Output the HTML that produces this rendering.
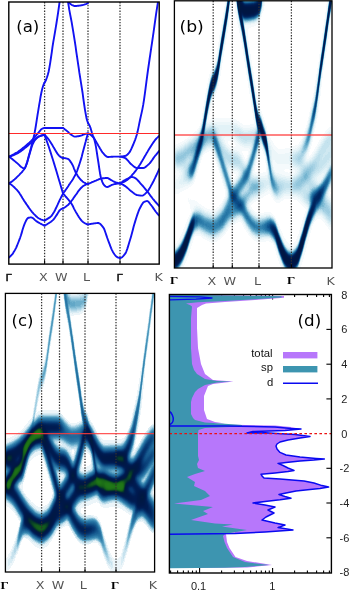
<!DOCTYPE html>
<html lang="en"><head><meta charset="utf-8"><title>Band structure and spectral functions</title>
<style>html,body{margin:0;padding:0;background:#fff}svg{display:block}.dv{font-family:"DejaVu Sans","Liberation Sans",sans-serif}.ls{font-family:"Liberation Sans",sans-serif}.sb{font-family:"Liberation Serif","DejaVu Serif",serif;font-weight:bold}</style></head><body>
<svg width="350" height="592" viewBox="0 0 350 592">
<defs>
<clipPath id="clipb"><rect x="174.4" y="0.8" width="157.6" height="267.2"/></clipPath>
<filter id="bsb" filterUnits="userSpaceOnUse" x="149" y="-24" width="208" height="317" color-interpolation-filters="sRGB">
<feGaussianBlur in="SourceGraphic" stdDeviation="0.55 4.2" result="b1"/>
<feGaussianBlur in="SourceGraphic" stdDeviation="2.2 9" result="b2"/>
<feComposite in="b1" in2="b2" operator="arithmetic" k1="0" k2="1.0" k3="0.05" k4="0"/>
</filter>
<filter id="bwb" filterUnits="userSpaceOnUse" x="149" y="-24" width="208" height="317" color-interpolation-filters="sRGB">
<feGaussianBlur in="SourceGraphic" stdDeviation="1.8 5.2" result="b1"/>
<feGaussianBlur in="SourceGraphic" stdDeviation="2.2 9" result="b2"/>
<feComposite in="b1" in2="b2" operator="arithmetic" k1="0" k2="1.0" k3="0.05" k4="0"/>
</filter>
<filter id="fb" filterUnits="userSpaceOnUse" x="149" y="-24" width="208" height="317" color-interpolation-filters="sRGB">
<feColorMatrix in="SourceGraphic" type="matrix" values="0 0 0 1 0 0 0 0 1 0 0 0 0 1 0 0 0 0 0 1" result="g"/>
<feComponentTransfer in="g"><feFuncR type="table" tableValues="1 0.905 0.81 0.714 0.608 0.502 0.414 0.326 0.256 0.202 0.149 0.123 0.097 0.071 0.055 0.039 0.024 0.019 0.014 0.009 0.004 0.003 0.002 0.002 0.001 0 0 0 0 0 0 0 0 0 0 0 0 0 0 0 0 0 0 0 0 0 0 0 0 0 0 0.001 0.002 0.002 0.003 0.004 0.005 0.005 0.006 0.007 0.008 0.01 0.013 0.015 0.017 0.02 0.022 0.024 0.027 0.029 0.031 0.036 0.04 0.045 0.049 0.054 0.058 0.062 0.067 0.071 0.076 0.08 0.085 0.089 0.094 0.098 0.102 0.107 0.111 0.116 0.12 0.125 0.129 0.134 0.138 0.142 0.147 0.151 0.156 0.16 0.165"/><feFuncG type="table" tableValues="1 0.958 0.909 0.859 0.798 0.737 0.678 0.618 0.563 0.513 0.463 0.426 0.39 0.353 0.316 0.28 0.243 0.222 0.2 0.178 0.157 0.147 0.138 0.129 0.119 0.11 0.107 0.105 0.103 0.1 0.098 0.096 0.093 0.091 0.089 0.086 0.087 0.087 0.088 0.088 0.089 0.089 0.09 0.09 0.091 0.092 0.092 0.093 0.093 0.094 0.094 0.1 0.107 0.113 0.119 0.125 0.132 0.138 0.144 0.151 0.157 0.167 0.177 0.187 0.198 0.208 0.218 0.228 0.238 0.249 0.259 0.268 0.277 0.286 0.295 0.305 0.314 0.323 0.332 0.341 0.35 0.359 0.369 0.378 0.387 0.396 0.405 0.414 0.424 0.433 0.442 0.451 0.46 0.469 0.478 0.488 0.497 0.506 0.515 0.524 0.533"/><feFuncB type="table" tableValues="1 0.974 0.946 0.918 0.876 0.835 0.796 0.757 0.72 0.685 0.651 0.625 0.599 0.573 0.539 0.505 0.471 0.449 0.427 0.406 0.384 0.372 0.359 0.347 0.334 0.322 0.317 0.312 0.307 0.303 0.298 0.293 0.289 0.284 0.279 0.275 0.273 0.271 0.27 0.268 0.267 0.265 0.264 0.262 0.26 0.259 0.257 0.256 0.254 0.253 0.251 0.246 0.242 0.237 0.232 0.227 0.223 0.218 0.213 0.209 0.204 0.198 0.193 0.187 0.182 0.176 0.171 0.165 0.16 0.155 0.149 0.147 0.144 0.142 0.14 0.137 0.135 0.133 0.13 0.128 0.125 0.123 0.121 0.118 0.116 0.114 0.111 0.109 0.107 0.104 0.102 0.1 0.097 0.095 0.093 0.09 0.088 0.085 0.083 0.081 0.078"/></feComponentTransfer>
</filter>
<clipPath id="clipc"><rect x="5.4" y="293.4" width="149.2" height="278.6"/></clipPath>
<filter id="bsc" filterUnits="userSpaceOnUse" x="-20" y="268" width="199" height="329" color-interpolation-filters="sRGB">
<feGaussianBlur in="SourceGraphic" stdDeviation="0.55 4.2" result="b1"/>
<feGaussianBlur in="SourceGraphic" stdDeviation="1.8 9" result="b2"/>
<feComposite in="b1" in2="b2" operator="arithmetic" k1="0" k2="1.0" k3="0.08" k4="0"/>
</filter>
<filter id="bwc" filterUnits="userSpaceOnUse" x="-20" y="268" width="199" height="329" color-interpolation-filters="sRGB">
<feGaussianBlur in="SourceGraphic" stdDeviation="1.5 5.0" result="b1"/>
<feGaussianBlur in="SourceGraphic" stdDeviation="1.8 9" result="b2"/>
<feComposite in="b1" in2="b2" operator="arithmetic" k1="0" k2="1.0" k3="0.08" k4="0"/>
</filter>
<filter id="fc" filterUnits="userSpaceOnUse" x="-20" y="268" width="199" height="329" color-interpolation-filters="sRGB">
<feColorMatrix in="SourceGraphic" type="matrix" values="0 0 0 1 0 0 0 0 1 0 0 0 0 1 0 0 0 0 0 1" result="g"/>
<feComponentTransfer in="g"><feFuncR type="table" tableValues="1 0.815 0.631 0.451 0.329 0.267 0.204 0.182 0.16 0.142 0.129 0.115 0.102 0.09 0.078 0.067 0.055 0.047 0.039 0.031 0.024 0.02 0.016 0.012 0.008 0.006 0.004 0.002 0 0 0 0 0 0 0 0 0 0 0 0 0 0 0 0 0 0.002 0.003 0.005 0.006 0.008 0.014 0.02 0.025 0.031 0.041 0.051 0.061 0.071 0.078 0.086 0.094 0.102 0.106 0.11 0.114 0.118 0.122 0.125 0.127 0.128 0.13 0.131 0.133 0.134 0.135 0.137 0.138 0.14 0.141 0.143 0.144 0.145 0.147 0.148 0.15 0.151 0.153 0.154 0.155 0.157 0.158 0.16 0.161 0.163 0.164 0.165 0.167 0.168 0.17 0.171 0.173"/><feFuncG type="table" tableValues="1 0.906 0.809 0.699 0.616 0.563 0.51 0.485 0.46 0.437 0.417 0.397 0.376 0.355 0.333 0.312 0.29 0.271 0.251 0.231 0.212 0.196 0.18 0.165 0.149 0.139 0.129 0.12 0.11 0.107 0.105 0.102 0.099 0.097 0.094 0.095 0.095 0.095 0.096 0.096 0.096 0.097 0.097 0.098 0.098 0.11 0.122 0.133 0.145 0.157 0.178 0.2 0.222 0.243 0.269 0.294 0.32 0.345 0.361 0.376 0.392 0.408 0.417 0.426 0.435 0.444 0.454 0.463 0.465 0.467 0.47 0.472 0.475 0.477 0.479 0.482 0.484 0.487 0.489 0.491 0.494 0.496 0.498 0.501 0.503 0.506 0.508 0.51 0.513 0.515 0.517 0.52 0.522 0.525 0.527 0.529 0.532 0.534 0.536 0.539 0.541"/><feFuncB type="table" tableValues="1 0.946 0.887 0.811 0.755 0.718 0.682 0.664 0.645 0.627 0.612 0.596 0.58 0.563 0.545 0.527 0.51 0.492 0.475 0.457 0.439 0.422 0.404 0.386 0.369 0.357 0.345 0.333 0.322 0.316 0.311 0.306 0.301 0.295 0.29 0.287 0.284 0.281 0.278 0.275 0.271 0.268 0.265 0.262 0.259 0.248 0.237 0.226 0.215 0.204 0.192 0.18 0.169 0.157 0.147 0.137 0.127 0.118 0.112 0.106 0.1 0.094 0.094 0.094 0.094 0.094 0.094 0.094 0.094 0.094 0.094 0.094 0.094 0.094 0.094 0.094 0.094 0.094 0.094 0.094 0.094 0.094 0.094 0.094 0.094 0.094 0.094 0.094 0.094 0.094 0.094 0.094 0.094 0.094 0.094 0.094 0.094 0.094 0.094 0.094 0.094"/></feComponentTransfer>
</filter>
<path id="pbs1_1" d="M174.4,257.6 175,257.2 175.7,256.6 176.3,256 177,255.4 177.6,254.7 178.3,254 178.9,253.1 179.6,252.2 180.2,251.2 180.9,250.2 181.5,249 182.2,247.8 182.8,246.4 183.5,245 184.1,243.5 184.7,241.9 185.4,240.3 186,238.7 186.7,237 187.3,235.2 188,233.3 188.6,231.3 189.3,229.3 189.9,227.3 190.6,225.5 191.2,223.8 191.9,222.4 192.5,221.1 193.2,219.8 193.8,218.7 194.4,217.8 195.1,217.4 195.7,217.2 196.4,217 197,216.9 197.7,216.8 198.3,216.7 199,216.8 199.6,217 200.3,217.4 200.9,217.8 201.6,218.4 202.2,218.9 202.9,219.5 203.5,220 204.1,220.5 204.8,221 205.4,221.3 206.1,221.7 206.7,222 207.4,222.4 208,222.7 208.7,223.1 209.3,223.4 210,223.7 210.6,224 211.3,224.3 211.9,224.6 212.6,224.9 213.2,225.1 L213.2,233.1 212.6,232.9 211.9,232.6 211.3,232.3 210.6,232 210,231.7 209.3,231.4 208.7,231.1 208,230.7 207.4,230.4 206.7,230 206.1,229.7 205.4,229.3 204.8,229 204.1,228.5 203.5,228 202.9,227.5 202.2,226.9 201.6,226.4 200.9,225.8 200.3,225.4 199.6,225 199,224.8 198.3,224.7 197.7,224.8 197,224.9 196.4,225 195.7,225.2 195.1,225.4 194.4,225.8 193.8,226.7 193.2,227.8 192.5,229.1 191.9,230.4 191.2,231.8 190.6,233.5 189.9,235.3 189.3,237.3 188.6,239.3 188,241.3 187.3,243.2 186.7,245 186,246.7 185.4,248.3 184.7,249.9 184.1,251.5 183.5,253 182.8,254.4 182.2,255.8 181.5,257 180.9,258.2 180.2,259.2 179.6,260.2 178.9,261.1 178.3,262 177.6,262.7 177,263.4 176.3,264 175.7,264.6 175,265.2 174.4,265.6Z"/>
<linearGradient id="gbss1_1" gradientUnits="userSpaceOnUse" x1="174.4" y1="0" x2="213.2" y2="0"><stop offset="0.000" stop-color="#000" stop-opacity="0.600"/><stop offset="0.084" stop-color="#000" stop-opacity="0.600"/><stop offset="0.169" stop-color="#000" stop-opacity="0.650"/><stop offset="0.309" stop-color="#000" stop-opacity="0.700"/><stop offset="0.449" stop-color="#000" stop-opacity="0.500"/><stop offset="0.534" stop-color="#000" stop-opacity="0.125"/><stop offset="0.618" stop-color="#000" stop-opacity="0.061"/><stop offset="0.787" stop-color="#000" stop-opacity="0.031"/><stop offset="1.000" stop-color="#000" stop-opacity="0.024"/></linearGradient>
<linearGradient id="gbws1_1" gradientUnits="userSpaceOnUse" x1="174.4" y1="0" x2="213.2" y2="0"><stop offset="0.000" stop-color="#000" stop-opacity="0.000"/><stop offset="0.084" stop-color="#000" stop-opacity="0.000"/><stop offset="0.169" stop-color="#000" stop-opacity="0.000"/><stop offset="0.309" stop-color="#000" stop-opacity="0.000"/><stop offset="0.449" stop-color="#000" stop-opacity="0.000"/><stop offset="0.534" stop-color="#000" stop-opacity="0.125"/><stop offset="0.618" stop-color="#000" stop-opacity="0.114"/><stop offset="0.787" stop-color="#000" stop-opacity="0.094"/><stop offset="1.000" stop-color="#000" stop-opacity="0.086"/></linearGradient>
<path id="pbs1_2" d="M174.4,182 175,182.3 175.7,182.7 176.3,183.1 177,183.5 177.6,183.9 178.3,184.4 178.9,184.9 179.6,185.4 180.2,186 180.9,186.6 181.5,187.2 182.2,187.8 182.8,188.4 183.5,189.1 184.1,189.8 184.7,190.6 185.4,191.5 186,192.4 186.7,193.3 187.3,194.3 188,195.3 188.6,196.3 189.3,197.3 189.9,198.2 190.6,199.2 191.2,200.1 191.9,201 192.5,201.9 193.2,202.8 193.8,203.7 194.4,204.6 195.1,205.5 195.7,206.4 196.4,207.3 197,208.1 197.7,209 198.3,209.8 199,210.5 199.6,211.3 200.3,212 200.9,212.6 201.6,213.2 202.2,213.9 202.9,214.5 203.5,215.1 204.1,215.7 204.8,216.2 205.4,216.7 206.1,217.2 206.7,217.6 207.4,218 208,218.3 208.7,218.6 209.3,218.9 210,219.1 210.6,219.3 211.3,219.5 211.9,219.7 212.6,219.8 213.2,219.9 L213.2,227.9 212.6,227.8 211.9,227.7 211.3,227.5 210.6,227.3 210,227.1 209.3,226.9 208.7,226.6 208,226.3 207.4,226 206.7,225.6 206.1,225.2 205.4,224.7 204.8,224.2 204.1,223.7 203.5,223.1 202.9,222.5 202.2,221.9 201.6,221.2 200.9,220.6 200.3,220 199.6,219.3 199,218.5 198.3,217.8 197.7,217 197,216.1 196.4,215.3 195.7,214.4 195.1,213.5 194.4,212.6 193.8,211.7 193.2,210.8 192.5,209.9 191.9,209 191.2,208.1 190.6,207.2 189.9,206.2 189.3,205.3 188.6,204.3 188,203.3 187.3,202.3 186.7,201.3 186,200.4 185.4,199.5 184.7,198.6 184.1,197.8 183.5,197.1 182.8,196.4 182.2,195.8 181.5,195.2 180.9,194.6 180.2,194 179.6,193.4 178.9,192.9 178.3,192.4 177.6,191.9 177,191.5 176.3,191.1 175.7,190.7 175,190.3 174.4,190Z"/>
<linearGradient id="gbss1_2" gradientUnits="userSpaceOnUse" x1="174.4" y1="0" x2="213.2" y2="0"><stop offset="0.000" stop-color="#000" stop-opacity="0.000"/><stop offset="0.225" stop-color="#000" stop-opacity="0.000"/><stop offset="0.449" stop-color="#000" stop-opacity="0.000"/><stop offset="0.674" stop-color="#000" stop-opacity="0.001"/><stop offset="0.871" stop-color="#000" stop-opacity="0.007"/><stop offset="1.000" stop-color="#000" stop-opacity="0.011"/></linearGradient>
<linearGradient id="gbws1_2" gradientUnits="userSpaceOnUse" x1="174.4" y1="0" x2="213.2" y2="0"><stop offset="0.000" stop-color="#000" stop-opacity="0.000"/><stop offset="0.225" stop-color="#000" stop-opacity="0.000"/><stop offset="0.449" stop-color="#000" stop-opacity="0.005"/><stop offset="0.674" stop-color="#000" stop-opacity="0.024"/><stop offset="0.871" stop-color="#000" stop-opacity="0.053"/><stop offset="1.000" stop-color="#000" stop-opacity="0.064"/></linearGradient>
<path id="pbs1_3" d="M174.4,182 175,181.6 175.7,181.2 176.3,180.8 177,180.4 177.6,180 178.3,179.5 178.9,179 179.6,178.6 180.2,178.1 180.9,177.6 181.5,177 182.2,176.5 182.8,175.9 183.5,175.3 184.1,174.7 184.7,174 185.4,173.4 186,172.7 186.7,172.1 187.3,171.5 188,170.9 188.6,170.2 189.3,169.6 189.9,168.9 190.6,168 191.2,167.1 191.9,166 192.5,164.8 193.2,163.4 193.8,161.8 194.4,159.9 195.1,157.7 195.7,155.5 196.4,153.4 197,151.2 197.7,149.1 198.3,147 199,145 199.6,143.4 200.3,141.9 200.9,140.6 201.6,139.4 202.2,138.3 202.9,137.5 203.5,136.8 204.1,136.2 204.8,135.6 205.4,135.1 206.1,134.6 206.7,134.2 207.4,133.9 208,133.6 208.7,133.4 209.3,133.2 210,133 210.6,132.9 211.3,132.7 211.9,132.6 212.6,132.6 213.2,132.5 L213.2,140.5 212.6,140.6 211.9,140.6 211.3,140.7 210.6,140.9 210,141 209.3,141.2 208.7,141.4 208,141.6 207.4,141.9 206.7,142.2 206.1,142.6 205.4,143.1 204.8,143.6 204.1,144.2 203.5,144.8 202.9,145.5 202.2,146.3 201.6,147.4 200.9,148.6 200.3,149.9 199.6,151.4 199,153 198.3,155 197.7,157.1 197,159.2 196.4,161.4 195.7,163.5 195.1,165.7 194.4,167.9 193.8,169.8 193.2,171.4 192.5,172.8 191.9,174 191.2,175.1 190.6,176 189.9,176.9 189.3,177.6 188.6,178.2 188,178.9 187.3,179.5 186.7,180.1 186,180.7 185.4,181.4 184.7,182 184.1,182.7 183.5,183.3 182.8,183.9 182.2,184.5 181.5,185 180.9,185.6 180.2,186.1 179.6,186.6 178.9,187 178.3,187.5 177.6,188 177,188.4 176.3,188.8 175.7,189.2 175,189.6 174.4,190Z"/>
<linearGradient id="gbss1_3" gradientUnits="userSpaceOnUse" x1="174.4" y1="0" x2="213.2" y2="0"><stop offset="0.000" stop-color="#000" stop-opacity="0.000"/><stop offset="0.169" stop-color="#000" stop-opacity="0.001"/><stop offset="0.309" stop-color="#000" stop-opacity="0.003"/><stop offset="0.421" stop-color="#000" stop-opacity="0.020"/><stop offset="0.492" stop-color="#000" stop-opacity="0.020"/><stop offset="0.562" stop-color="#000" stop-opacity="0.013"/><stop offset="0.646" stop-color="#000" stop-opacity="0.007"/><stop offset="0.730" stop-color="#000" stop-opacity="0.005"/><stop offset="0.871" stop-color="#000" stop-opacity="0.005"/><stop offset="1.000" stop-color="#000" stop-opacity="0.007"/></linearGradient>
<linearGradient id="gbws1_3" gradientUnits="userSpaceOnUse" x1="174.4" y1="0" x2="213.2" y2="0"><stop offset="0.000" stop-color="#000" stop-opacity="0.015"/><stop offset="0.169" stop-color="#000" stop-opacity="0.019"/><stop offset="0.309" stop-color="#000" stop-opacity="0.037"/><stop offset="0.421" stop-color="#000" stop-opacity="0.080"/><stop offset="0.492" stop-color="#000" stop-opacity="0.080"/><stop offset="0.562" stop-color="#000" stop-opacity="0.067"/><stop offset="0.646" stop-color="#000" stop-opacity="0.053"/><stop offset="0.730" stop-color="#000" stop-opacity="0.045"/><stop offset="0.871" stop-color="#000" stop-opacity="0.045"/><stop offset="1.000" stop-color="#000" stop-opacity="0.053"/></linearGradient>
<path id="pbs1_4" d="M174.4,154.6 175,155.1 175.7,155.5 176.3,156 177,156.4 177.6,156.9 178.3,157.4 178.9,157.9 179.6,158.4 180.2,158.9 180.9,159.4 181.5,159.9 182.2,160.4 182.8,160.9 183.5,161.4 184.1,162 184.7,162.6 185.4,163.2 186,163.8 186.7,164.4 187.3,165 188,165.4 188.6,165.8 189.3,166.1 189.9,166.4 190.6,166.7 191.2,166.8 191.9,166.3 192.5,164.9 193.2,163 193.8,161.3 194.4,159.2 195.1,156.9 195.7,154.6 196.4,152.3 197,150.2 197.7,148 198.3,145.8 199,143.5 199.6,141.2 200.3,138.8 200.9,136.4 201.6,133.8 202.2,130.9 202.9,127.7 203.5,124.1 204.1,120.2 204.8,116.3 205.4,112.3 206.1,108.6 206.7,104.8 207.4,101.1 208,97.6 208.7,94.3 209.3,91.1 210,88.1 210.6,85.5 211.3,83.4 211.9,81.6 212.6,80.1 213.2,78.9 L213.2,86.9 212.6,88.1 211.9,89.6 211.3,91.4 210.6,93.5 210,96.1 209.3,99.1 208.7,102.3 208,105.6 207.4,109.1 206.7,112.8 206.1,116.6 205.4,120.3 204.8,124.3 204.1,128.2 203.5,132.1 202.9,135.7 202.2,138.9 201.6,141.8 200.9,144.4 200.3,146.8 199.6,149.2 199,151.5 198.3,153.8 197.7,156 197,158.2 196.4,160.3 195.7,162.6 195.1,164.9 194.4,167.2 193.8,169.3 193.2,171 192.5,172.9 191.9,174.3 191.2,174.8 190.6,174.7 189.9,174.4 189.3,174.1 188.6,173.8 188,173.4 187.3,173 186.7,172.4 186,171.8 185.4,171.2 184.7,170.6 184.1,170 183.5,169.4 182.8,168.9 182.2,168.4 181.5,167.9 180.9,167.4 180.2,166.9 179.6,166.4 178.9,165.9 178.3,165.4 177.6,164.9 177,164.4 176.3,164 175.7,163.5 175,163.1 174.4,162.6Z"/>
<linearGradient id="gbss1_4" gradientUnits="userSpaceOnUse" x1="174.4" y1="0" x2="213.2" y2="0"><stop offset="0.000" stop-color="#000" stop-opacity="0.001"/><stop offset="0.225" stop-color="#000" stop-opacity="0.001"/><stop offset="0.365" stop-color="#000" stop-opacity="0.003"/><stop offset="0.435" stop-color="#000" stop-opacity="0.039"/><stop offset="0.492" stop-color="#000" stop-opacity="0.088"/><stop offset="0.562" stop-color="#000" stop-opacity="0.135"/><stop offset="0.646" stop-color="#000" stop-opacity="0.211"/><stop offset="0.716" stop-color="#000" stop-opacity="0.320"/><stop offset="0.815" stop-color="#000" stop-opacity="0.451"/><stop offset="0.871" stop-color="#000" stop-opacity="0.500"/><stop offset="0.941" stop-color="#000" stop-opacity="0.550"/><stop offset="1.000" stop-color="#000" stop-opacity="0.600"/></linearGradient>
<linearGradient id="gbws1_4" gradientUnits="userSpaceOnUse" x1="174.4" y1="0" x2="213.2" y2="0"><stop offset="0.000" stop-color="#000" stop-opacity="0.019"/><stop offset="0.225" stop-color="#000" stop-opacity="0.024"/><stop offset="0.365" stop-color="#000" stop-opacity="0.037"/><stop offset="0.435" stop-color="#000" stop-opacity="0.101"/><stop offset="0.492" stop-color="#000" stop-opacity="0.122"/><stop offset="0.562" stop-color="#000" stop-opacity="0.125"/><stop offset="0.646" stop-color="#000" stop-opacity="0.114"/><stop offset="0.716" stop-color="#000" stop-opacity="0.080"/><stop offset="0.815" stop-color="#000" stop-opacity="0.024"/><stop offset="0.871" stop-color="#000" stop-opacity="0.000"/><stop offset="0.941" stop-color="#000" stop-opacity="0.000"/><stop offset="1.000" stop-color="#000" stop-opacity="0.000"/></linearGradient>
<path id="pbs1_5" d="M174.4,154.6 175,154.5 175.7,154.3 176.3,154.1 177,154 177.6,153.7 178.3,153.5 178.9,153.3 179.6,153.1 180.2,152.8 180.9,152.5 181.5,152.3 182.2,152 182.8,151.7 183.5,151.4 184.1,151.1 184.7,150.7 185.4,150.3 186,149.9 186.7,149.5 187.3,149.1 188,148.6 188.6,148.2 189.3,147.7 189.9,147.2 190.6,146.8 191.2,146.3 191.9,145.8 192.5,145.3 193.2,144.8 193.8,144.3 194.4,143.8 195.1,143.2 195.7,142.7 196.4,142.1 197,141.6 197.7,141 198.3,140.5 199,139.9 199.6,139.4 200.3,138.9 200.9,138.4 201.6,137.9 202.2,137.3 202.9,136.8 203.5,136.2 204.1,135.7 204.8,135.2 205.4,134.8 206.1,134.4 206.7,134.1 207.4,133.9 208,133.6 208.7,133.4 209.3,133.2 210,133 210.6,132.9 211.3,132.7 211.9,132.6 212.6,132.6 213.2,132.5 L213.2,140.5 212.6,140.6 211.9,140.6 211.3,140.7 210.6,140.9 210,141 209.3,141.2 208.7,141.4 208,141.6 207.4,141.9 206.7,142.1 206.1,142.4 205.4,142.8 204.8,143.2 204.1,143.7 203.5,144.2 202.9,144.8 202.2,145.3 201.6,145.9 200.9,146.4 200.3,146.9 199.6,147.4 199,147.9 198.3,148.5 197.7,149 197,149.6 196.4,150.1 195.7,150.7 195.1,151.2 194.4,151.8 193.8,152.3 193.2,152.8 192.5,153.3 191.9,153.8 191.2,154.3 190.6,154.8 189.9,155.2 189.3,155.7 188.6,156.2 188,156.6 187.3,157.1 186.7,157.5 186,157.9 185.4,158.3 184.7,158.7 184.1,159.1 183.5,159.4 182.8,159.7 182.2,160 181.5,160.3 180.9,160.5 180.2,160.8 179.6,161.1 178.9,161.3 178.3,161.5 177.6,161.7 177,162 176.3,162.1 175.7,162.3 175,162.5 174.4,162.6Z"/>
<linearGradient id="gbws1_5" gradientUnits="userSpaceOnUse" x1="174.4" y1="0" x2="213.2" y2="0"><stop offset="0.000" stop-color="#000" stop-opacity="0.028"/><stop offset="0.225" stop-color="#000" stop-opacity="0.037"/><stop offset="0.449" stop-color="#000" stop-opacity="0.045"/><stop offset="0.674" stop-color="#000" stop-opacity="0.045"/><stop offset="0.843" stop-color="#000" stop-opacity="0.037"/><stop offset="1.000" stop-color="#000" stop-opacity="0.045"/></linearGradient>
<path id="pbs1_6" d="M174.4,154.6 175,154.4 175.7,154.1 176.3,153.8 177,153.5 177.6,153.2 178.3,152.9 178.9,152.6 179.6,152.3 180.2,151.9 180.9,151.6 181.5,151.2 182.2,150.9 182.8,150.5 183.5,150.1 184.1,149.7 184.7,149.3 185.4,148.9 186,148.5 186.7,148 187.3,147.6 188,147.1 188.6,146.6 189.3,146.1 189.9,145.7 190.6,145.2 191.2,144.7 191.9,144.2 192.5,143.7 193.2,143.1 193.8,142.6 194.4,142.1 195.1,141.6 195.7,141 196.4,140.5 197,139.9 197.7,139.3 198.3,138.7 199,138.1 199.6,137.5 200.3,136.9 200.9,136.3 201.6,135.6 202.2,134.9 202.9,134.2 203.5,133.5 204.1,132.7 204.8,132 205.4,131.3 206.1,130.5 206.7,129.8 207.4,129.2 208,128.4 208.7,127.7 209.3,127 210,126.4 210.6,126.1 211.3,125.8 211.9,125.6 212.6,125.4 213.2,125.4 L213.2,133.4 212.6,133.4 211.9,133.6 211.3,133.8 210.6,134.1 210,134.4 209.3,135 208.7,135.7 208,136.4 207.4,137.2 206.7,137.8 206.1,138.5 205.4,139.3 204.8,140 204.1,140.7 203.5,141.5 202.9,142.2 202.2,142.9 201.6,143.6 200.9,144.3 200.3,144.9 199.6,145.5 199,146.1 198.3,146.7 197.7,147.3 197,147.9 196.4,148.5 195.7,149 195.1,149.6 194.4,150.1 193.8,150.6 193.2,151.1 192.5,151.7 191.9,152.2 191.2,152.7 190.6,153.2 189.9,153.7 189.3,154.1 188.6,154.6 188,155.1 187.3,155.6 186.7,156 186,156.5 185.4,156.9 184.7,157.3 184.1,157.7 183.5,158.1 182.8,158.5 182.2,158.9 181.5,159.2 180.9,159.6 180.2,159.9 179.6,160.3 178.9,160.6 178.3,160.9 177.6,161.2 177,161.5 176.3,161.8 175.7,162.1 175,162.4 174.4,162.6Z"/>
<linearGradient id="gbws1_6" gradientUnits="userSpaceOnUse" x1="174.4" y1="0" x2="213.2" y2="0"><stop offset="0.000" stop-color="#000" stop-opacity="0.028"/><stop offset="0.225" stop-color="#000" stop-opacity="0.037"/><stop offset="0.449" stop-color="#000" stop-opacity="0.045"/><stop offset="0.674" stop-color="#000" stop-opacity="0.045"/><stop offset="0.843" stop-color="#000" stop-opacity="0.028"/><stop offset="0.927" stop-color="#000" stop-opacity="0.024"/><stop offset="1.000" stop-color="#000" stop-opacity="0.024"/></linearGradient>
<path id="pbs2_1" d="M213.2,225.1 213.8,224.8 214.4,224.5 215,224.1 215.7,223.8 216.3,223.4 216.9,223 217.5,222.6 218.1,222.2 218.7,221.8 219.4,221.4 220,221 220.6,220.5 221.2,220 221.8,219.5 222.4,218.9 223.1,218.1 223.7,217.3 224.3,216.4 224.9,215.5 225.5,214.6 226.1,213.7 226.8,212.7 227.4,211.7 228,210.6 228.6,209.8 229.2,209.2 229.8,208.7 230.5,208.3 231.1,208 231.7,207.7 232.3,207.7 L232.3,215.7 231.7,215.7 231.1,216 230.5,216.3 229.8,216.7 229.2,217.2 228.6,217.8 228,218.6 227.4,219.7 226.8,220.7 226.1,221.7 225.5,222.6 224.9,223.5 224.3,224.4 223.7,225.3 223.1,226.1 222.4,226.9 221.8,227.5 221.2,228 220.6,228.5 220,229 219.4,229.4 218.7,229.8 218.1,230.2 217.5,230.6 216.9,231 216.3,231.4 215.7,231.8 215,232.1 214.4,232.5 213.8,232.8 213.2,233.1Z"/>
<linearGradient id="gbss2_1" gradientUnits="userSpaceOnUse" x1="213.2" y1="0" x2="232.3" y2="0"><stop offset="0.000" stop-color="#000" stop-opacity="0.024"/><stop offset="0.239" stop-color="#000" stop-opacity="0.024"/><stop offset="0.457" stop-color="#000" stop-opacity="0.029"/><stop offset="0.674" stop-color="#000" stop-opacity="0.034"/><stop offset="0.837" stop-color="#000" stop-opacity="0.039"/><stop offset="1.000" stop-color="#000" stop-opacity="0.039"/></linearGradient>
<linearGradient id="gbws2_1" gradientUnits="userSpaceOnUse" x1="213.2" y1="0" x2="232.3" y2="0"><stop offset="0.000" stop-color="#000" stop-opacity="0.086"/><stop offset="0.239" stop-color="#000" stop-opacity="0.086"/><stop offset="0.457" stop-color="#000" stop-opacity="0.091"/><stop offset="0.674" stop-color="#000" stop-opacity="0.096"/><stop offset="0.837" stop-color="#000" stop-opacity="0.101"/><stop offset="1.000" stop-color="#000" stop-opacity="0.101"/></linearGradient>
<path id="pbs2_2" d="M213.2,219.9 213.8,219.6 214.4,219.2 215,218.9 215.7,218.5 216.3,218.2 216.9,217.8 217.5,217.4 218.1,217 218.7,216.6 219.4,216.1 220,215.6 220.6,214.9 221.2,214 221.8,213.1 222.4,212.1 223.1,211.1 223.7,210 224.3,208.8 224.9,207.5 225.5,206.2 226.1,205 226.8,203.7 227.4,202.3 228,201 228.6,199.7 229.2,198.4 229.8,197.1 230.5,195.9 231.1,194.7 231.7,193.6 232.3,192.4 L232.3,200.4 231.7,201.6 231.1,202.7 230.5,203.9 229.8,205.1 229.2,206.4 228.6,207.7 228,209 227.4,210.3 226.8,211.7 226.1,213 225.5,214.2 224.9,215.5 224.3,216.8 223.7,218 223.1,219.1 222.4,220.1 221.8,221.1 221.2,222 220.6,222.9 220,223.6 219.4,224.1 218.7,224.6 218.1,225 217.5,225.4 216.9,225.8 216.3,226.2 215.7,226.5 215,226.9 214.4,227.2 213.8,227.6 213.2,227.9Z"/>
<linearGradient id="gbss2_2" gradientUnits="userSpaceOnUse" x1="213.2" y1="0" x2="232.3" y2="0"><stop offset="0.000" stop-color="#000" stop-opacity="0.011"/><stop offset="0.185" stop-color="#000" stop-opacity="0.011"/><stop offset="0.348" stop-color="#000" stop-opacity="0.016"/><stop offset="0.511" stop-color="#000" stop-opacity="0.020"/><stop offset="0.674" stop-color="#000" stop-opacity="0.024"/><stop offset="0.837" stop-color="#000" stop-opacity="0.034"/><stop offset="1.000" stop-color="#000" stop-opacity="0.039"/></linearGradient>
<linearGradient id="gbws2_2" gradientUnits="userSpaceOnUse" x1="213.2" y1="0" x2="232.3" y2="0"><stop offset="0.000" stop-color="#000" stop-opacity="0.064"/><stop offset="0.185" stop-color="#000" stop-opacity="0.064"/><stop offset="0.348" stop-color="#000" stop-opacity="0.074"/><stop offset="0.511" stop-color="#000" stop-opacity="0.080"/><stop offset="0.674" stop-color="#000" stop-opacity="0.086"/><stop offset="0.837" stop-color="#000" stop-opacity="0.096"/><stop offset="1.000" stop-color="#000" stop-opacity="0.101"/></linearGradient>
<path id="pbs2_3" d="M213.2,132.5 213.8,134.2 214.4,135.9 215,137.5 215.7,139.3 216.3,141 216.9,142.8 217.5,144.6 218.1,146.4 218.7,148.2 219.4,150.1 220,152 220.6,153.9 221.2,155.8 221.8,157.8 222.4,159.7 223.1,161.7 223.7,163.7 224.3,165.7 224.9,167.7 225.5,169.7 226.1,171.7 226.8,173.8 227.4,175.8 228,177.9 228.6,179.9 229.2,182 229.8,184 230.5,186.1 231.1,188.2 231.7,190.3 232.3,192.4 L232.3,200.4 231.7,198.3 231.1,196.2 230.5,194.1 229.8,192 229.2,190 228.6,187.9 228,185.9 227.4,183.8 226.8,181.8 226.1,179.7 225.5,177.7 224.9,175.7 224.3,173.7 223.7,171.7 223.1,169.7 222.4,167.7 221.8,165.8 221.2,163.8 220.6,161.9 220,160 219.4,158.1 218.7,156.2 218.1,154.4 217.5,152.6 216.9,150.8 216.3,149 215.7,147.3 215,145.5 214.4,143.9 213.8,142.2 213.2,140.5Z"/>
<path id="pbs2_4" d="M213.2,132.5 213.8,133 214.4,133.6 215,134.2 215.7,134.9 216.3,135.6 216.9,136.3 217.5,137.1 218.1,138 218.7,139 219.4,140 220,140.9 220.6,141.9 221.2,142.9 221.8,143.9 222.4,145 223.1,146 223.7,147 224.3,148.1 224.9,149.1 225.5,150.1 226.1,151 226.8,151.9 227.4,152.7 228,153.4 228.6,154 229.2,154.5 229.8,154.9 230.5,155.3 231.1,155.6 231.7,155.9 232.3,156 L232.3,164 231.7,163.9 231.1,163.6 230.5,163.3 229.8,162.9 229.2,162.5 228.6,162 228,161.4 227.4,160.7 226.8,159.9 226.1,159 225.5,158.1 224.9,157.1 224.3,156.1 223.7,155 223.1,154 222.4,153 221.8,151.9 221.2,150.9 220.6,149.9 220,148.9 219.4,148 218.7,147 218.1,146 217.5,145.1 216.9,144.3 216.3,143.6 215.7,142.9 215,142.2 214.4,141.6 213.8,141 213.2,140.5Z"/>
<linearGradient id="gbss2_4" gradientUnits="userSpaceOnUse" x1="213.2" y1="0" x2="232.3" y2="0"><stop offset="0.000" stop-color="#000" stop-opacity="0.005"/><stop offset="0.185" stop-color="#000" stop-opacity="0.005"/><stop offset="0.348" stop-color="#000" stop-opacity="0.005"/><stop offset="0.511" stop-color="#000" stop-opacity="0.005"/><stop offset="0.674" stop-color="#000" stop-opacity="0.007"/><stop offset="0.837" stop-color="#000" stop-opacity="0.007"/><stop offset="1.000" stop-color="#000" stop-opacity="0.007"/></linearGradient>
<linearGradient id="gbws2_4" gradientUnits="userSpaceOnUse" x1="213.2" y1="0" x2="232.3" y2="0"><stop offset="0.000" stop-color="#000" stop-opacity="0.045"/><stop offset="0.185" stop-color="#000" stop-opacity="0.045"/><stop offset="0.348" stop-color="#000" stop-opacity="0.045"/><stop offset="0.511" stop-color="#000" stop-opacity="0.045"/><stop offset="0.674" stop-color="#000" stop-opacity="0.053"/><stop offset="0.837" stop-color="#000" stop-opacity="0.053"/><stop offset="1.000" stop-color="#000" stop-opacity="0.053"/></linearGradient>
<path id="pbs2_5" d="M213.2,125.4 213.8,125.4 214.4,125.4 215,125.4 215.7,125.4 216.3,125.4 216.9,125.4 217.5,125.4 218.1,125.4 218.7,125.4 219.4,125.4 220,125.4 220.6,125.4 221.2,125.4 221.8,125.4 222.4,125.4 223.1,125.4 223.7,125.4 224.3,125.4 224.9,125.4 225.5,125.4 226.1,125.4 226.8,125.4 227.4,125.4 228,125.4 228.6,125.4 229.2,125.4 229.8,125.4 230.5,125.4 231.1,125.4 231.7,125.4 232.3,125.4 L232.3,133.4 231.7,133.4 231.1,133.4 230.5,133.4 229.8,133.4 229.2,133.4 228.6,133.4 228,133.4 227.4,133.4 226.8,133.4 226.1,133.4 225.5,133.4 224.9,133.4 224.3,133.4 223.7,133.4 223.1,133.4 222.4,133.4 221.8,133.4 221.2,133.4 220.6,133.4 220,133.4 219.4,133.4 218.7,133.4 218.1,133.4 217.5,133.4 216.9,133.4 216.3,133.4 215.7,133.4 215,133.4 214.4,133.4 213.8,133.4 213.2,133.4Z"/>
<path id="pbs2_6" d="M213.2,78.9 213.8,78 214.4,76.9 215,75.4 215.6,73.7 216.3,71.8 216.9,69.7 217.5,67.1 218.1,64 218.7,60.5 219.3,56.6 219.9,52.5 220.5,48.4 221.1,44.3 221.8,40.5 222.4,36.9 223,33.4 223.6,29.8 224.2,26.3 224.8,22.7 225.4,19 226,15.2 226.6,11.3 227.3,7.2 227.9,3 228.5,-1.3 229.1,-5.8 229.7,-10.5 L229.7,-2.5 229.1,2.2 228.5,6.7 227.9,11 227.3,15.2 226.6,19.3 226,23.2 225.4,27 224.8,30.7 224.2,34.3 223.6,37.8 223,41.4 222.4,44.9 221.8,48.5 221.1,52.3 220.5,56.4 219.9,60.5 219.3,64.6 218.7,68.5 218.1,72 217.5,75.1 216.9,77.7 216.3,79.8 215.6,81.7 215,83.4 214.4,84.9 213.8,86 213.2,86.9Z"/>
<linearGradient id="gbss2_6" gradientUnits="userSpaceOnUse" x1="213.2" y1="0" x2="229.7" y2="0"><stop offset="0.000" stop-color="#000" stop-opacity="0.600"/><stop offset="0.214" stop-color="#000" stop-opacity="0.500"/><stop offset="0.528" stop-color="#000" stop-opacity="0.500"/><stop offset="0.780" stop-color="#000" stop-opacity="0.500"/><stop offset="0.943" stop-color="#000" stop-opacity="0.500"/><stop offset="1.000" stop-color="#000" stop-opacity="0.500"/></linearGradient>
<path id="pbs3_1" d="M232.3,207.7 232.9,207.3 233.6,206.9 234.2,206.5 234.8,206.1 235.5,205.6 236.1,205.2 236.8,204.7 237.4,204.2 238,203.7 238.7,203.1 239.3,202.5 239.9,201.7 240.6,201 241.2,200.2 241.8,199.3 242.5,198.5 243.1,197.6 243.7,196.7 244.4,195.8 245,195 245.7,194.2 246.3,193.3 246.9,192.4 247.6,191.5 248.2,190.7 248.8,189.8 249.5,189 250.1,188.2 250.7,187.5 251.4,186.8 252,186.3 252.6,185.7 253.3,185.2 253.9,184.7 254.6,184.3 255.2,183.9 255.8,183.6 256.5,183.4 257.1,183.1 257.7,182.9 258.4,182.7 259,182.6 L259,190.6 258.4,190.7 257.7,190.9 257.1,191.1 256.5,191.4 255.8,191.6 255.2,191.9 254.6,192.3 253.9,192.7 253.3,193.2 252.6,193.7 252,194.3 251.4,194.8 250.7,195.5 250.1,196.2 249.5,197 248.8,197.8 248.2,198.7 247.6,199.5 246.9,200.4 246.3,201.3 245.7,202.2 245,203 244.4,203.8 243.7,204.7 243.1,205.6 242.5,206.5 241.8,207.3 241.2,208.2 240.6,209 239.9,209.7 239.3,210.5 238.7,211.1 238,211.7 237.4,212.2 236.8,212.7 236.1,213.2 235.5,213.6 234.8,214.1 234.2,214.5 233.6,214.9 232.9,215.3 232.3,215.7Z"/>
<linearGradient id="gbss3_1" gradientUnits="userSpaceOnUse" x1="232.3" y1="0" x2="259.0" y2="0"><stop offset="0.000" stop-color="#000" stop-opacity="0.039"/><stop offset="0.120" stop-color="#000" stop-opacity="0.034"/><stop offset="0.240" stop-color="#000" stop-opacity="0.029"/><stop offset="0.480" stop-color="#000" stop-opacity="0.020"/><stop offset="0.720" stop-color="#000" stop-opacity="0.011"/><stop offset="0.880" stop-color="#000" stop-opacity="0.007"/><stop offset="1.000" stop-color="#000" stop-opacity="0.005"/></linearGradient>
<linearGradient id="gbws3_1" gradientUnits="userSpaceOnUse" x1="232.3" y1="0" x2="259.0" y2="0"><stop offset="0.000" stop-color="#000" stop-opacity="0.101"/><stop offset="0.120" stop-color="#000" stop-opacity="0.096"/><stop offset="0.240" stop-color="#000" stop-opacity="0.091"/><stop offset="0.480" stop-color="#000" stop-opacity="0.080"/><stop offset="0.720" stop-color="#000" stop-opacity="0.064"/><stop offset="0.880" stop-color="#000" stop-opacity="0.053"/><stop offset="1.000" stop-color="#000" stop-opacity="0.045"/></linearGradient>
<path id="pbs3_2" d="M232.3,192.4 232.9,193.1 233.6,193.7 234.2,194.4 234.8,195 235.5,195.7 236.1,196.4 236.8,197.1 237.4,197.8 238,198.5 238.7,199.3 239.3,200 239.9,200.8 240.6,201.6 241.2,202.5 241.8,203.6 242.5,204.7 243.1,205.8 243.7,207 244.4,208.2 245,209.4 245.7,210.6 246.3,211.7 246.9,212.8 247.6,213.7 248.2,214.7 248.8,215.6 249.5,216.6 250.1,217.5 250.7,218.4 251.4,219.2 252,220 252.6,220.6 253.3,221.2 253.9,221.6 254.6,222 255.2,222.4 255.8,222.8 256.5,223.1 257.1,223.4 257.7,223.6 258.4,223.8 259,223.9 L259,231.9 258.4,231.8 257.7,231.6 257.1,231.4 256.5,231.1 255.8,230.8 255.2,230.4 254.6,230 253.9,229.6 253.3,229.2 252.6,228.6 252,228 251.4,227.2 250.7,226.4 250.1,225.5 249.5,224.6 248.8,223.6 248.2,222.7 247.6,221.7 246.9,220.8 246.3,219.7 245.7,218.6 245,217.4 244.4,216.2 243.7,215 243.1,213.8 242.5,212.7 241.8,211.6 241.2,210.5 240.6,209.6 239.9,208.8 239.3,208 238.7,207.3 238,206.5 237.4,205.8 236.8,205.1 236.1,204.4 235.5,203.7 234.8,203 234.2,202.4 233.6,201.7 232.9,201.1 232.3,200.4Z"/>
<linearGradient id="gbss3_2" gradientUnits="userSpaceOnUse" x1="232.3" y1="0" x2="259.0" y2="0"><stop offset="0.000" stop-color="#000" stop-opacity="0.065"/><stop offset="0.160" stop-color="#000" stop-opacity="0.065"/><stop offset="0.320" stop-color="#000" stop-opacity="0.065"/><stop offset="0.560" stop-color="#000" stop-opacity="0.065"/><stop offset="0.800" stop-color="#000" stop-opacity="0.058"/><stop offset="1.000" stop-color="#000" stop-opacity="0.051"/></linearGradient>
<linearGradient id="gbws3_2" gradientUnits="userSpaceOnUse" x1="232.3" y1="0" x2="259.0" y2="0"><stop offset="0.000" stop-color="#000" stop-opacity="0.115"/><stop offset="0.160" stop-color="#000" stop-opacity="0.115"/><stop offset="0.320" stop-color="#000" stop-opacity="0.115"/><stop offset="0.560" stop-color="#000" stop-opacity="0.115"/><stop offset="0.800" stop-color="#000" stop-opacity="0.112"/><stop offset="1.000" stop-color="#000" stop-opacity="0.109"/></linearGradient>
<path id="pbs3_3" d="M232.3,192.4 232.9,191.6 233.6,190.8 234.2,189.9 234.8,189.1 235.5,188.2 236.1,187.3 236.8,186.4 237.4,185.5 238,184.6 238.7,183.7 239.3,182.8 239.9,181.9 240.6,181 241.2,180.1 241.8,179.2 242.5,178.3 243.1,177.3 243.7,176.3 244.4,175.2 245,174.1 245.7,172.9 246.3,171.7 246.9,170.3 247.6,168.7 248.2,167.1 248.8,165.3 249.5,163.4 250.1,161.5 250.7,159.5 251.4,157.5 252,155.5 252.6,153.3 253.3,151 253.9,148.6 254.6,146.2 255.2,143.9 255.8,141.6 256.5,139.4 257.1,137.3 257.7,135.1 258.4,133 259,130.9 L259,138.9 258.4,141 257.7,143.1 257.1,145.3 256.5,147.4 255.8,149.6 255.2,151.9 254.6,154.2 253.9,156.6 253.3,159 252.6,161.3 252,163.5 251.4,165.5 250.7,167.5 250.1,169.5 249.5,171.4 248.8,173.3 248.2,175.1 247.6,176.7 246.9,178.3 246.3,179.7 245.7,180.9 245,182.1 244.4,183.2 243.7,184.3 243.1,185.3 242.5,186.3 241.8,187.2 241.2,188.1 240.6,189 239.9,189.9 239.3,190.8 238.7,191.7 238,192.6 237.4,193.5 236.8,194.4 236.1,195.3 235.5,196.2 234.8,197.1 234.2,197.9 233.6,198.8 232.9,199.6 232.3,200.4Z"/>
<linearGradient id="gbss3_3" gradientUnits="userSpaceOnUse" x1="232.3" y1="0" x2="259.0" y2="0"><stop offset="0.000" stop-color="#000" stop-opacity="0.045"/><stop offset="0.240" stop-color="#000" stop-opacity="0.051"/><stop offset="0.520" stop-color="#000" stop-opacity="0.061"/><stop offset="0.720" stop-color="#000" stop-opacity="0.080"/><stop offset="0.880" stop-color="#000" stop-opacity="0.106"/><stop offset="1.000" stop-color="#000" stop-opacity="0.135"/></linearGradient>
<linearGradient id="gbws3_3" gradientUnits="userSpaceOnUse" x1="232.3" y1="0" x2="259.0" y2="0"><stop offset="0.000" stop-color="#000" stop-opacity="0.105"/><stop offset="0.240" stop-color="#000" stop-opacity="0.109"/><stop offset="0.520" stop-color="#000" stop-opacity="0.114"/><stop offset="0.720" stop-color="#000" stop-opacity="0.120"/><stop offset="0.880" stop-color="#000" stop-opacity="0.124"/><stop offset="1.000" stop-color="#000" stop-opacity="0.125"/></linearGradient>
<path id="pbs3_4" d="M232.3,156 232.9,156.1 233.6,156.1 234.2,156.2 234.8,156.3 235.5,156.4 236.1,156.6 236.8,156.8 237.4,157 238,157.2 238.7,157.7 239.3,158.4 239.9,159.2 240.6,160.1 241.2,161.1 241.8,162.1 242.5,163.1 243.1,164.5 243.7,166 244.4,167.5 245,169 245.7,170.4 246.3,171.5 246.9,172.6 247.6,173.6 248.2,174.5 248.8,175.4 249.5,176.2 250.1,177 250.7,177.7 251.4,178.4 252,179 252.6,179.5 253.3,180 253.9,180.5 254.6,180.9 255.2,181.3 255.8,181.6 256.5,181.9 257.1,182.1 257.7,182.3 258.4,182.5 259,182.6 L259,190.6 258.4,190.5 257.7,190.3 257.1,190.1 256.5,189.9 255.8,189.6 255.2,189.3 254.6,188.9 253.9,188.5 253.3,188 252.6,187.5 252,187 251.4,186.4 250.7,185.7 250.1,185 249.5,184.2 248.8,183.4 248.2,182.5 247.6,181.6 246.9,180.6 246.3,179.5 245.7,178.4 245,177 244.4,175.5 243.7,174 243.1,172.5 242.5,171.1 241.8,170.1 241.2,169.1 240.6,168.1 239.9,167.2 239.3,166.4 238.7,165.7 238,165.2 237.4,165 236.8,164.8 236.1,164.6 235.5,164.4 234.8,164.3 234.2,164.2 233.6,164.1 232.9,164.1 232.3,164Z"/>
<linearGradient id="gbss3_4" gradientUnits="userSpaceOnUse" x1="232.3" y1="0" x2="259.0" y2="0"><stop offset="0.000" stop-color="#000" stop-opacity="0.007"/><stop offset="0.200" stop-color="#000" stop-opacity="0.007"/><stop offset="0.360" stop-color="#000" stop-opacity="0.005"/><stop offset="0.520" stop-color="#000" stop-opacity="0.005"/><stop offset="0.720" stop-color="#000" stop-opacity="0.005"/><stop offset="0.880" stop-color="#000" stop-opacity="0.005"/><stop offset="1.000" stop-color="#000" stop-opacity="0.005"/></linearGradient>
<linearGradient id="gbws3_4" gradientUnits="userSpaceOnUse" x1="232.3" y1="0" x2="259.0" y2="0"><stop offset="0.000" stop-color="#000" stop-opacity="0.053"/><stop offset="0.200" stop-color="#000" stop-opacity="0.053"/><stop offset="0.360" stop-color="#000" stop-opacity="0.045"/><stop offset="0.520" stop-color="#000" stop-opacity="0.045"/><stop offset="0.720" stop-color="#000" stop-opacity="0.045"/><stop offset="0.880" stop-color="#000" stop-opacity="0.045"/><stop offset="1.000" stop-color="#000" stop-opacity="0.045"/></linearGradient>
<path id="pbs3_5" d="M232.3,125.4 232.9,125.8 233.6,126.2 234.2,126.7 234.8,127.1 235.5,127.6 236.1,128.1 236.8,128.6 237.4,129.1 238,129.7 238.7,130.3 239.3,130.8 239.9,131.4 240.6,131.8 241.2,132.3 241.8,132.7 242.5,133.1 243.1,133.5 243.7,133.8 244.4,134.1 245,134.2 245.7,134.2 246.3,134.1 246.9,134.1 247.6,134 248.2,133.9 248.8,133.7 249.5,133.6 250.1,133.5 250.7,133.3 251.4,133.2 252,133 252.6,132.8 253.3,132.5 253.9,132.2 254.6,131.9 255.2,131.7 255.8,131.5 256.5,131.4 257.1,131.2 257.7,131.1 258.4,131 259,130.9 L259,138.9 258.4,139 257.7,139.1 257.1,139.2 256.5,139.4 255.8,139.5 255.2,139.7 254.6,139.9 253.9,140.2 253.3,140.5 252.6,140.8 252,141 251.4,141.2 250.7,141.3 250.1,141.5 249.5,141.6 248.8,141.7 248.2,141.9 247.6,142 246.9,142.1 246.3,142.1 245.7,142.2 245,142.2 244.4,142.1 243.7,141.8 243.1,141.5 242.5,141.1 241.8,140.7 241.2,140.3 240.6,139.8 239.9,139.4 239.3,138.8 238.7,138.3 238,137.7 237.4,137.1 236.8,136.6 236.1,136.1 235.5,135.6 234.8,135.1 234.2,134.7 233.6,134.2 232.9,133.8 232.3,133.4Z"/>
<linearGradient id="gbss3_5" gradientUnits="userSpaceOnUse" x1="232.3" y1="0" x2="259.0" y2="0"><stop offset="0.000" stop-color="#000" stop-opacity="0.001"/><stop offset="0.160" stop-color="#000" stop-opacity="0.003"/><stop offset="0.320" stop-color="#000" stop-opacity="0.005"/><stop offset="0.480" stop-color="#000" stop-opacity="0.005"/><stop offset="0.720" stop-color="#000" stop-opacity="0.005"/><stop offset="0.880" stop-color="#000" stop-opacity="0.005"/><stop offset="1.000" stop-color="#000" stop-opacity="0.011"/></linearGradient>
<linearGradient id="gbws3_5" gradientUnits="userSpaceOnUse" x1="232.3" y1="0" x2="259.0" y2="0"><stop offset="0.000" stop-color="#000" stop-opacity="0.024"/><stop offset="0.160" stop-color="#000" stop-opacity="0.037"/><stop offset="0.320" stop-color="#000" stop-opacity="0.045"/><stop offset="0.480" stop-color="#000" stop-opacity="0.045"/><stop offset="0.720" stop-color="#000" stop-opacity="0.045"/><stop offset="0.880" stop-color="#000" stop-opacity="0.045"/><stop offset="1.000" stop-color="#000" stop-opacity="0.064"/></linearGradient>
<path id="pbs3_6" d="M236.6,-10.5 237.2,-6.1 237.9,-2.1 238.5,1.6 239.1,5.1 239.8,8.4 240.4,11.7 241.1,14.9 241.7,18.2 242.3,21.6 243,25.2 243.6,29 244.3,32.9 244.9,37 245.5,41.1 246.2,45.3 246.8,49.5 247.5,53.7 248.1,57.9 248.7,62 249.4,66.1 250,70.1 250.7,74.1 251.3,78 252,81.9 252.6,85.9 253.2,89.9 253.9,94.1 254.5,98.6 255.2,103 255.8,107 256.4,110.5 257.1,113.7 257.7,116.4 258.4,118.6 259,120.3 L259,128.3 258.4,126.6 257.7,124.4 257.1,121.7 256.4,118.5 255.8,115 255.2,111 254.5,106.6 253.9,102.1 253.2,97.9 252.6,93.9 252,89.9 251.3,86 250.7,82.1 250,78.1 249.4,74.1 248.7,70 248.1,65.9 247.5,61.7 246.8,57.5 246.2,53.3 245.5,49.1 244.9,45 244.3,40.9 243.6,37 243,33.2 242.3,29.6 241.7,26.2 241.1,22.9 240.4,19.7 239.8,16.4 239.1,13.1 238.5,9.6 237.9,5.9 237.2,1.9 236.6,-2.5Z"/>
<linearGradient id="gbss3_6" gradientUnits="userSpaceOnUse" x1="236.6" y1="0" x2="259.0" y2="0"><stop offset="0.000" stop-color="#000" stop-opacity="0.500"/><stop offset="0.048" stop-color="#000" stop-opacity="0.500"/><stop offset="0.286" stop-color="#000" stop-opacity="0.500"/><stop offset="0.571" stop-color="#000" stop-opacity="0.500"/><stop offset="0.762" stop-color="#000" stop-opacity="0.500"/><stop offset="0.857" stop-color="#000" stop-opacity="0.525"/><stop offset="0.952" stop-color="#000" stop-opacity="0.550"/><stop offset="1.000" stop-color="#000" stop-opacity="0.550"/></linearGradient>
<path id="pbx3_7" d="M238.2,-3.4 238.8,-1.9 239.4,-0.5 240.1,0.8 240.7,1.9 241.3,3 242,3.8 242.6,4.7 243.2,5.5 243.9,6.2 244.5,6.6 245.1,6.8 245.7,6.8 246.4,6.8 247,6.8 247.6,6.7 248.3,6.7 248.9,6.6 249.5,6.5 250.2,6.4 250.8,6.3 251.4,6.2 252.1,6.1 252.7,6 253.3,5.9 254,5.7 254.6,5.5 255.2,5.3 255.8,4.9 256.5,4.5 257.1,4.1 257.7,3.7 258.4,3.2 259,2.7 L259,10.7 258.4,11.2 257.7,11.7 257.1,12.1 256.5,12.5 255.8,12.9 255.2,13.3 254.6,13.5 254,13.7 253.3,13.9 252.7,14 252.1,14.1 251.4,14.2 250.8,14.3 250.2,14.4 249.5,14.5 248.9,14.6 248.3,14.7 247.6,14.7 247,14.8 246.4,14.8 245.7,14.8 245.1,14.8 244.5,14.6 243.9,14.2 243.2,13.5 242.6,12.7 242,11.8 241.3,11 240.7,9.9 240.1,8.8 239.4,7.5 238.8,6.1 238.2,4.6Z"/>
<linearGradient id="gbsx3_7" gradientUnits="userSpaceOnUse" x1="238.2" y1="0" x2="259.0" y2="0"><stop offset="0.000" stop-color="#000" stop-opacity="0.650"/><stop offset="0.179" stop-color="#000" stop-opacity="0.650"/><stop offset="0.333" stop-color="#000" stop-opacity="0.650"/><stop offset="0.744" stop-color="#000" stop-opacity="0.600"/><stop offset="1.000" stop-color="#000" stop-opacity="0.550"/></linearGradient>
<path id="pbs4_1" d="M259,223.9 259.6,223.8 260.2,223.7 260.8,223.6 261.4,223.5 262,223.4 262.6,223.3 263.2,223.2 263.8,223.1 264.4,223 265,222.9 265.6,222.8 266.2,222.7 266.8,222.7 267.4,222.6 268,222.5 268.6,222.5 269.2,222.5 269.8,222.6 270.4,222.8 271,223.2 271.6,223.7 272.2,224.3 272.8,224.9 273.4,225.6 274,226.3 274.6,227.2 275.2,228.3 275.8,229.8 276.4,231.4 277,233.2 277.6,235.1 278.2,236.9 278.8,238.7 279.4,240.2 280,241.8 280.6,243.4 281.2,245 281.8,246.6 282.4,248.1 283,249.5 283.6,250.8 284.2,251.9 284.8,252.9 285.4,253.9 286,254.8 286.6,255.6 287.2,256.3 287.8,256.8 288.4,257.2 289,257.5 289.6,257.8 290.2,258 290.8,258.2 291.4,258.2 L291.4,266.2 290.8,266.2 290.2,266 289.6,265.8 289,265.5 288.4,265.2 287.8,264.8 287.2,264.3 286.6,263.6 286,262.8 285.4,261.9 284.8,260.9 284.2,259.9 283.6,258.8 283,257.5 282.4,256.1 281.8,254.6 281.2,253 280.6,251.4 280,249.8 279.4,248.2 278.8,246.7 278.2,244.9 277.6,243.1 277,241.2 276.4,239.4 275.8,237.8 275.2,236.3 274.6,235.2 274,234.3 273.4,233.6 272.8,232.9 272.2,232.3 271.6,231.7 271,231.2 270.4,230.8 269.8,230.6 269.2,230.5 268.6,230.5 268,230.5 267.4,230.6 266.8,230.7 266.2,230.7 265.6,230.8 265,230.9 264.4,231 263.8,231.1 263.2,231.2 262.6,231.3 262,231.4 261.4,231.5 260.8,231.6 260.2,231.7 259.6,231.8 259,231.9Z"/>
<linearGradient id="gbss4_1" gradientUnits="userSpaceOnUse" x1="259.0" y1="0" x2="291.4" y2="0"><stop offset="0.000" stop-color="#000" stop-opacity="0.045"/><stop offset="0.156" stop-color="#000" stop-opacity="0.061"/><stop offset="0.313" stop-color="#000" stop-opacity="0.125"/><stop offset="0.469" stop-color="#000" stop-opacity="0.320"/><stop offset="0.625" stop-color="#000" stop-opacity="0.600"/><stop offset="0.781" stop-color="#000" stop-opacity="0.650"/><stop offset="0.906" stop-color="#000" stop-opacity="0.600"/><stop offset="1.000" stop-color="#000" stop-opacity="0.600"/></linearGradient>
<linearGradient id="gbws4_1" gradientUnits="userSpaceOnUse" x1="259.0" y1="0" x2="291.4" y2="0"><stop offset="0.000" stop-color="#000" stop-opacity="0.105"/><stop offset="0.156" stop-color="#000" stop-opacity="0.114"/><stop offset="0.313" stop-color="#000" stop-opacity="0.125"/><stop offset="0.469" stop-color="#000" stop-opacity="0.080"/><stop offset="0.625" stop-color="#000" stop-opacity="0.000"/><stop offset="0.781" stop-color="#000" stop-opacity="0.000"/><stop offset="0.906" stop-color="#000" stop-opacity="0.000"/><stop offset="1.000" stop-color="#000" stop-opacity="0.000"/></linearGradient>
<path id="pbs4_2" d="M259,182.6 259.6,182.3 260.2,182.1 260.8,181.8 261.4,181.5 262,181.3 262.6,181 263.2,180.7 263.8,180.5 264.4,180.2 265,180 265.6,179.7 266.2,179.5 266.8,179.2 267.4,179 268,178.7 268.6,178.4 269.2,178.2 269.8,177.9 270.4,177.7 271,177.4 271.6,177.2 272.2,177.1 272.8,176.9 273.4,176.9 274,176.8 274.6,176.7 275.2,176.7 275.8,176.6 276.4,176.5 277,176.5 277.6,176.5 278.2,176.5 278.8,176.6 279.4,176.8 280,177.1 280.6,177.5 281.2,177.9 281.8,178.3 282.4,178.6 283,178.9 283.6,179.2 284.2,179.6 284.8,179.9 285.4,180.2 286,180.4 286.6,180.7 287.2,180.9 287.8,181.1 288.4,181.3 289,181.5 289.6,181.6 290.2,181.8 290.8,181.9 291.4,182 L291.4,190 290.8,189.9 290.2,189.8 289.6,189.6 289,189.5 288.4,189.3 287.8,189.1 287.2,188.9 286.6,188.7 286,188.4 285.4,188.2 284.8,187.9 284.2,187.6 283.6,187.2 283,186.9 282.4,186.6 281.8,186.3 281.2,185.9 280.6,185.5 280,185.1 279.4,184.8 278.8,184.6 278.2,184.5 277.6,184.5 277,184.5 276.4,184.5 275.8,184.6 275.2,184.7 274.6,184.7 274,184.8 273.4,184.9 272.8,184.9 272.2,185.1 271.6,185.2 271,185.4 270.4,185.7 269.8,185.9 269.2,186.2 268.6,186.4 268,186.7 267.4,187 266.8,187.2 266.2,187.5 265.6,187.7 265,188 264.4,188.2 263.8,188.5 263.2,188.7 262.6,189 262,189.3 261.4,189.5 260.8,189.8 260.2,190.1 259.6,190.3 259,190.6Z"/>
<linearGradient id="gbws4_2" gradientUnits="userSpaceOnUse" x1="259.0" y1="0" x2="291.4" y2="0"><stop offset="0.000" stop-color="#000" stop-opacity="0.045"/><stop offset="0.219" stop-color="#000" stop-opacity="0.028"/><stop offset="0.438" stop-color="#000" stop-opacity="0.019"/><stop offset="0.594" stop-color="#000" stop-opacity="0.019"/><stop offset="0.719" stop-color="#000" stop-opacity="0.019"/><stop offset="0.844" stop-color="#000" stop-opacity="0.019"/><stop offset="1.000" stop-color="#000" stop-opacity="0.019"/></linearGradient>
<path id="pbs4_3" d="M259,120.3 259.6,121 260.2,122.1 260.8,123.3 261.4,124.8 262,126.8 262.6,129 263.2,131 263.8,132.7 264.4,134.3 265,136 265.6,137.9 266.2,140.2 266.8,143.2 267.4,146.8 268,150.7 268.6,154.8 269.2,158.5 269.8,162.5 270.4,166.6 271,170.6 271.6,174.1 272.2,176.6 272.8,178.5 273.4,180.2 274,181.7 274.6,182.8 275.2,183.6 275.8,184.2 276.4,184.8 277,185.2 277.6,185.6 278.2,185.7 278.8,185.6 279.4,185.5 280,185.2 280.6,184.9 281.2,184.6 281.8,184.3 282.4,183.9 283,183.6 283.6,183.3 284.2,183.1 284.8,183 285.4,182.9 286,182.7 286.6,182.6 287.2,182.5 287.8,182.4 288.4,182.3 289,182.2 289.6,182.1 290.2,182.1 290.8,182 291.4,182 L291.4,190 290.8,190 290.2,190.1 289.6,190.1 289,190.2 288.4,190.3 287.8,190.4 287.2,190.5 286.6,190.6 286,190.7 285.4,190.9 284.8,191 284.2,191.1 283.6,191.3 283,191.6 282.4,191.9 281.8,192.3 281.2,192.6 280.6,192.9 280,193.2 279.4,193.5 278.8,193.6 278.2,193.7 277.6,193.6 277,193.2 276.4,192.8 275.8,192.2 275.2,191.6 274.6,190.8 274,189.7 273.4,188.2 272.8,186.5 272.2,184.6 271.6,182.1 271,178.6 270.4,174.6 269.8,170.5 269.2,166.5 268.6,162.8 268,158.7 267.4,154.8 266.8,151.2 266.2,148.2 265.6,145.9 265,144 264.4,142.3 263.8,140.7 263.2,139 262.6,137 262,134.8 261.4,132.8 260.8,131.3 260.2,130.1 259.6,129 259,128.3Z"/>
<linearGradient id="gbss4_3" gradientUnits="userSpaceOnUse" x1="259.0" y1="0" x2="291.4" y2="0"><stop offset="0.000" stop-color="#000" stop-opacity="0.550"/><stop offset="0.062" stop-color="#000" stop-opacity="0.550"/><stop offset="0.125" stop-color="#000" stop-opacity="0.550"/><stop offset="0.219" stop-color="#000" stop-opacity="0.500"/><stop offset="0.313" stop-color="#000" stop-opacity="0.151"/><stop offset="0.406" stop-color="#000" stop-opacity="0.061"/><stop offset="0.500" stop-color="#000" stop-opacity="0.031"/><stop offset="0.594" stop-color="#000" stop-opacity="0.011"/><stop offset="0.781" stop-color="#000" stop-opacity="0.002"/><stop offset="1.000" stop-color="#000" stop-opacity="0.001"/></linearGradient>
<linearGradient id="gbws4_3" gradientUnits="userSpaceOnUse" x1="259.0" y1="0" x2="291.4" y2="0"><stop offset="0.000" stop-color="#000" stop-opacity="0.000"/><stop offset="0.062" stop-color="#000" stop-opacity="0.000"/><stop offset="0.125" stop-color="#000" stop-opacity="0.000"/><stop offset="0.219" stop-color="#000" stop-opacity="0.000"/><stop offset="0.313" stop-color="#000" stop-opacity="0.124"/><stop offset="0.406" stop-color="#000" stop-opacity="0.114"/><stop offset="0.500" stop-color="#000" stop-opacity="0.094"/><stop offset="0.594" stop-color="#000" stop-opacity="0.064"/><stop offset="0.781" stop-color="#000" stop-opacity="0.028"/><stop offset="1.000" stop-color="#000" stop-opacity="0.019"/></linearGradient>
<path id="pbs4_4" d="M259,130.9 259.6,131.1 260.2,131.4 260.8,131.8 261.4,132.2 262,132.7 262.6,133.2 263.2,133.7 263.8,134.3 264.4,134.9 265,135.7 265.6,136.6 266.2,137.6 266.8,138.6 267.4,139.7 268,140.8 268.6,141.9 269.2,142.9 269.8,143.9 270.4,144.9 271,146 271.6,147.1 272.2,148.1 272.8,149.1 273.4,150 274,150.7 274.6,151.4 275.2,152.1 275.8,152.7 276.4,153.3 277,153.9 277.6,154.4 278.2,154.7 278.8,155 279.4,155 280,155 280.6,155 281.2,154.9 281.8,154.9 282.4,154.8 283,154.8 283.6,154.7 284.2,154.7 284.8,154.7 285.4,154.6 286,154.6 286.6,154.6 287.2,154.6 287.8,154.6 288.4,154.6 289,154.6 289.6,154.6 290.2,154.6 290.8,154.6 291.4,154.6 L291.4,162.6 290.8,162.6 290.2,162.6 289.6,162.6 289,162.6 288.4,162.6 287.8,162.6 287.2,162.6 286.6,162.6 286,162.6 285.4,162.6 284.8,162.7 284.2,162.7 283.6,162.7 283,162.8 282.4,162.8 281.8,162.9 281.2,162.9 280.6,163 280,163 279.4,163 278.8,163 278.2,162.7 277.6,162.4 277,161.9 276.4,161.3 275.8,160.7 275.2,160.1 274.6,159.4 274,158.7 273.4,158 272.8,157.1 272.2,156.1 271.6,155.1 271,154 270.4,152.9 269.8,151.9 269.2,150.9 268.6,149.9 268,148.8 267.4,147.7 266.8,146.6 266.2,145.6 265.6,144.6 265,143.7 264.4,142.9 263.8,142.3 263.2,141.7 262.6,141.2 262,140.7 261.4,140.2 260.8,139.8 260.2,139.4 259.6,139.1 259,138.9Z"/>
<linearGradient id="gbws4_4" gradientUnits="userSpaceOnUse" x1="259.0" y1="0" x2="291.4" y2="0"><stop offset="0.000" stop-color="#000" stop-opacity="0.045"/><stop offset="0.156" stop-color="#000" stop-opacity="0.028"/><stop offset="0.313" stop-color="#000" stop-opacity="0.019"/><stop offset="0.469" stop-color="#000" stop-opacity="0.015"/><stop offset="0.625" stop-color="#000" stop-opacity="0.015"/><stop offset="0.844" stop-color="#000" stop-opacity="0.015"/><stop offset="1.000" stop-color="#000" stop-opacity="0.015"/></linearGradient>
<path id="pbs5_1" d="M291.4,258.2 292,258.2 292.6,257.9 293.2,257.6 293.9,257.1 294.5,256.5 295.1,255.9 295.7,255.2 296.3,254.5 296.9,253.6 297.6,252.5 298.2,251.1 298.8,249.4 299.4,247.5 300,245.5 300.6,243.5 301.2,241.5 301.9,239.5 302.5,237.5 303.1,235.3 303.7,233.1 304.3,230.8 304.9,228.4 305.5,226.2 306.2,224 306.8,221.9 307.4,220 308,218.1 308.6,216.2 309.2,214.3 309.9,212.6 310.5,210.9 311.1,209.4 311.7,208 312.3,206.8 312.9,205.6 313.5,204.4 314.2,203.4 314.8,202.5 315.4,201.7 316,201.2 316.6,200.8 317.2,200.5 317.9,200.3 318.5,200.1 319.1,200 319.7,200 320.3,200.3 320.9,200.9 321.5,201.6 322.2,202.4 322.8,203.2 323.4,203.9 324,204.7 324.6,205.5 325.2,206.3 325.8,207.2 326.5,208.1 327.1,209 327.7,209.9 328.3,210.8 328.9,211.5 329.5,212.2 330.2,212.9 330.8,213.6 331.4,214.3 332,214.9 L332,222.9 331.4,222.3 330.8,221.6 330.2,220.9 329.5,220.2 328.9,219.5 328.3,218.8 327.7,217.9 327.1,217 326.5,216.1 325.8,215.2 325.2,214.3 324.6,213.5 324,212.7 323.4,211.9 322.8,211.2 322.2,210.4 321.5,209.6 320.9,208.9 320.3,208.3 319.7,208 319.1,208 318.5,208.1 317.9,208.3 317.2,208.5 316.6,208.8 316,209.2 315.4,209.7 314.8,210.5 314.2,211.4 313.5,212.4 312.9,213.6 312.3,214.8 311.7,216 311.1,217.4 310.5,218.9 309.9,220.6 309.2,222.3 308.6,224.2 308,226.1 307.4,228 306.8,229.9 306.2,232 305.5,234.2 304.9,236.4 304.3,238.8 303.7,241.1 303.1,243.3 302.5,245.5 301.9,247.5 301.2,249.5 300.6,251.5 300,253.5 299.4,255.5 298.8,257.4 298.2,259.1 297.6,260.5 296.9,261.6 296.3,262.5 295.7,263.2 295.1,263.9 294.5,264.5 293.9,265.1 293.2,265.6 292.6,265.9 292,266.2 291.4,266.2Z"/>
<linearGradient id="gbss5_1" gradientUnits="userSpaceOnUse" x1="291.4" y1="0" x2="332.0" y2="0"><stop offset="0.000" stop-color="#000" stop-opacity="0.600"/><stop offset="0.128" stop-color="#000" stop-opacity="0.650"/><stop offset="0.255" stop-color="#000" stop-opacity="0.700"/><stop offset="0.383" stop-color="#000" stop-opacity="0.600"/><stop offset="0.510" stop-color="#000" stop-opacity="0.320"/><stop offset="0.612" stop-color="#000" stop-opacity="0.051"/><stop offset="0.689" stop-color="#000" stop-opacity="0.016"/><stop offset="0.791" stop-color="#000" stop-opacity="0.010"/><stop offset="0.918" stop-color="#000" stop-opacity="0.007"/><stop offset="1.000" stop-color="#000" stop-opacity="0.007"/></linearGradient>
<linearGradient id="gbws5_1" gradientUnits="userSpaceOnUse" x1="291.4" y1="0" x2="332.0" y2="0"><stop offset="0.000" stop-color="#000" stop-opacity="0.000"/><stop offset="0.128" stop-color="#000" stop-opacity="0.000"/><stop offset="0.255" stop-color="#000" stop-opacity="0.000"/><stop offset="0.383" stop-color="#000" stop-opacity="0.000"/><stop offset="0.510" stop-color="#000" stop-opacity="0.080"/><stop offset="0.612" stop-color="#000" stop-opacity="0.109"/><stop offset="0.689" stop-color="#000" stop-opacity="0.074"/><stop offset="0.791" stop-color="#000" stop-opacity="0.060"/><stop offset="0.918" stop-color="#000" stop-opacity="0.053"/><stop offset="1.000" stop-color="#000" stop-opacity="0.053"/></linearGradient>
<path id="pbs5_2" d="M291.4,182 292,182.2 292.6,182.5 293.2,182.8 293.9,183.1 294.5,183.4 295.1,183.8 295.7,184.1 296.3,184.5 296.9,184.9 297.6,185.3 298.2,185.8 298.8,186.3 299.4,186.9 300,187.4 300.6,188 301.2,188.5 301.9,189 302.5,189.5 303.1,190 303.7,190.5 304.3,191 304.9,191.5 305.5,192 306.2,192.4 306.8,192.8 307.4,193.2 308,193.5 308.6,193.8 309.2,193.9 309.9,194 310.5,194.1 311.1,194.2 311.7,194.3 312.3,194.4 312.9,194.4 313.5,194.5 314.2,194.5 314.8,194.4 315.4,194.2 316,193.8 316.6,193.4 317.2,192.9 317.9,192.3 318.5,191.7 319.1,191.1 319.7,190.4 320.3,189.7 320.9,188.8 321.5,187.9 322.2,186.9 322.8,185.8 323.4,184.7 324,183.6 324.6,182.5 325.2,181.4 325.8,180.2 326.5,179 327.1,177.7 327.7,176.5 328.3,175.2 328.9,173.9 329.5,172.6 330.2,171.3 330.8,170 331.4,168.7 332,167.3 L332,175.3 331.4,176.7 330.8,178 330.2,179.3 329.5,180.6 328.9,181.9 328.3,183.2 327.7,184.5 327.1,185.7 326.5,187 325.8,188.2 325.2,189.4 324.6,190.5 324,191.6 323.4,192.7 322.8,193.8 322.2,194.9 321.5,195.9 320.9,196.8 320.3,197.7 319.7,198.4 319.1,199.1 318.5,199.7 317.9,200.3 317.2,200.9 316.6,201.4 316,201.8 315.4,202.2 314.8,202.4 314.2,202.5 313.5,202.5 312.9,202.4 312.3,202.4 311.7,202.3 311.1,202.2 310.5,202.1 309.9,202 309.2,201.9 308.6,201.8 308,201.5 307.4,201.2 306.8,200.8 306.2,200.4 305.5,200 304.9,199.5 304.3,199 303.7,198.5 303.1,198 302.5,197.5 301.9,197 301.2,196.5 300.6,196 300,195.4 299.4,194.9 298.8,194.3 298.2,193.8 297.6,193.3 296.9,192.9 296.3,192.5 295.7,192.1 295.1,191.8 294.5,191.4 293.9,191.1 293.2,190.8 292.6,190.5 292,190.2 291.4,190Z"/>
<linearGradient id="gbss5_2" gradientUnits="userSpaceOnUse" x1="291.4" y1="0" x2="332.0" y2="0"><stop offset="0.000" stop-color="#000" stop-opacity="0.001"/><stop offset="0.128" stop-color="#000" stop-opacity="0.001"/><stop offset="0.281" stop-color="#000" stop-opacity="0.002"/><stop offset="0.434" stop-color="#000" stop-opacity="0.011"/><stop offset="0.561" stop-color="#000" stop-opacity="0.125"/><stop offset="0.689" stop-color="#000" stop-opacity="0.192"/><stop offset="0.816" stop-color="#000" stop-opacity="0.115"/><stop offset="0.918" stop-color="#000" stop-opacity="0.080"/><stop offset="1.000" stop-color="#000" stop-opacity="0.058"/></linearGradient>
<linearGradient id="gbws5_2" gradientUnits="userSpaceOnUse" x1="291.4" y1="0" x2="332.0" y2="0"><stop offset="0.000" stop-color="#000" stop-opacity="0.019"/><stop offset="0.128" stop-color="#000" stop-opacity="0.024"/><stop offset="0.281" stop-color="#000" stop-opacity="0.033"/><stop offset="0.434" stop-color="#000" stop-opacity="0.064"/><stop offset="0.561" stop-color="#000" stop-opacity="0.125"/><stop offset="0.689" stop-color="#000" stop-opacity="0.118"/><stop offset="0.816" stop-color="#000" stop-opacity="0.125"/><stop offset="0.918" stop-color="#000" stop-opacity="0.120"/><stop offset="1.000" stop-color="#000" stop-opacity="0.112"/></linearGradient>
<path id="pbs5_3" d="M291.4,182 292,181.5 292.6,181.1 293.2,180.7 293.9,180.3 294.5,179.8 295.1,179.5 295.7,179.1 296.3,178.7 296.9,178.4 297.6,178.1 298.2,177.7 298.8,177.4 299.4,177.1 300,176.8 300.6,176.5 301.2,176.2 301.9,175.9 302.5,175.7 303.1,175.5 303.7,175.5 304.3,175.5 304.9,175.6 305.5,175.9 306.2,176.1 306.8,176.4 307.4,176.7 308,177.1 308.6,177.7 309.2,178.2 309.9,178.9 310.5,179.6 311.1,180.3 311.7,181 312.3,181.7 312.9,182.4 313.5,183 314.2,183.7 314.8,184.4 315.4,185.1 316,185.8 316.6,186.5 317.2,187.2 317.9,187.9 318.5,188.7 319.1,189.4 319.7,190.2 320.3,191 320.9,191.8 321.5,192.6 322.2,193.4 322.8,194.3 323.4,195.1 324,195.9 324.6,196.7 325.2,197.5 325.8,198.3 326.5,199 327.1,199.7 327.7,200.4 328.3,201.1 328.9,201.8 329.5,202.5 330.2,203.2 330.8,203.8 331.4,204.5 332,205.1 L332,213.1 331.4,212.5 330.8,211.8 330.2,211.2 329.5,210.5 328.9,209.8 328.3,209.1 327.7,208.4 327.1,207.7 326.5,207 325.8,206.3 325.2,205.5 324.6,204.7 324,203.9 323.4,203.1 322.8,202.3 322.2,201.4 321.5,200.6 320.9,199.8 320.3,199 319.7,198.2 319.1,197.4 318.5,196.7 317.9,195.9 317.2,195.2 316.6,194.5 316,193.8 315.4,193.1 314.8,192.4 314.2,191.7 313.5,191 312.9,190.4 312.3,189.7 311.7,189 311.1,188.3 310.5,187.6 309.9,186.9 309.2,186.2 308.6,185.7 308,185.1 307.4,184.7 306.8,184.4 306.2,184.1 305.5,183.9 304.9,183.6 304.3,183.5 303.7,183.5 303.1,183.5 302.5,183.7 301.9,183.9 301.2,184.2 300.6,184.5 300,184.8 299.4,185.1 298.8,185.4 298.2,185.7 297.6,186.1 296.9,186.4 296.3,186.7 295.7,187.1 295.1,187.5 294.5,187.8 293.9,188.3 293.2,188.7 292.6,189.1 292,189.5 291.4,190Z"/>
<linearGradient id="gbws5_3" gradientUnits="userSpaceOnUse" x1="291.4" y1="0" x2="332.0" y2="0"><stop offset="0.000" stop-color="#000" stop-opacity="0.019"/><stop offset="0.179" stop-color="#000" stop-opacity="0.037"/><stop offset="0.306" stop-color="#000" stop-opacity="0.045"/><stop offset="0.383" stop-color="#000" stop-opacity="0.045"/><stop offset="0.536" stop-color="#000" stop-opacity="0.045"/><stop offset="0.689" stop-color="#000" stop-opacity="0.045"/><stop offset="0.842" stop-color="#000" stop-opacity="0.045"/><stop offset="1.000" stop-color="#000" stop-opacity="0.045"/></linearGradient>
<path id="pbs5_4" d="M291.4,182 292,181.9 292.6,181.7 293.2,181.5 293.9,181.2 294.5,180.9 295.1,180.6 295.7,180.3 296.3,180 296.9,179.6 297.6,179.2 298.2,178.8 298.8,178.4 299.4,178 300,177.5 300.6,176.9 301.2,176.3 301.9,175.7 302.5,175.1 303.1,174.4 303.7,173.7 304.3,173 304.9,172.3 305.5,171.6 306.2,170.9 306.8,170.1 307.4,169.3 308,168.5 308.6,167.7 309.2,166.8 309.9,166 310.5,165.1 311.1,164.2 311.7,163.3 312.3,162.3 312.9,161.3 313.5,160.3 314.2,159.3 314.8,158.2 315.4,157.2 316,156.1 316.6,155.1 317.2,154.1 317.9,153.1 318.5,152 319.1,151 319.7,150 320.3,148.9 320.9,147.9 321.5,146.9 322.2,145.9 322.8,144.9 323.4,144 324,143 324.6,142.1 325.2,141.2 325.8,140.3 326.5,139.4 327.1,138.6 327.7,137.8 328.3,137 328.9,136.4 329.5,135.7 330.2,135.1 330.8,134.6 331.4,134 332,133.6 L332,141.6 331.4,142 330.8,142.6 330.2,143.1 329.5,143.7 328.9,144.4 328.3,145 327.7,145.8 327.1,146.6 326.5,147.4 325.8,148.3 325.2,149.2 324.6,150.1 324,151 323.4,152 322.8,152.9 322.2,153.9 321.5,154.9 320.9,155.9 320.3,156.9 319.7,158 319.1,159 318.5,160 317.9,161.1 317.2,162.1 316.6,163.1 316,164.1 315.4,165.2 314.8,166.2 314.2,167.3 313.5,168.3 312.9,169.3 312.3,170.3 311.7,171.3 311.1,172.2 310.5,173.1 309.9,174 309.2,174.8 308.6,175.7 308,176.5 307.4,177.3 306.8,178.1 306.2,178.9 305.5,179.6 304.9,180.3 304.3,181 303.7,181.7 303.1,182.4 302.5,183.1 301.9,183.7 301.2,184.3 300.6,184.9 300,185.5 299.4,186 298.8,186.4 298.2,186.8 297.6,187.2 296.9,187.6 296.3,188 295.7,188.3 295.1,188.6 294.5,188.9 293.9,189.2 293.2,189.5 292.6,189.7 292,189.9 291.4,190Z"/>
<linearGradient id="gbss5_4" gradientUnits="userSpaceOnUse" x1="291.4" y1="0" x2="332.0" y2="0"><stop offset="0.000" stop-color="#000" stop-opacity="0.001"/><stop offset="0.179" stop-color="#000" stop-opacity="0.003"/><stop offset="0.332" stop-color="#000" stop-opacity="0.005"/><stop offset="0.485" stop-color="#000" stop-opacity="0.005"/><stop offset="0.638" stop-color="#000" stop-opacity="0.005"/><stop offset="0.791" stop-color="#000" stop-opacity="0.006"/><stop offset="0.918" stop-color="#000" stop-opacity="0.006"/><stop offset="1.000" stop-color="#000" stop-opacity="0.005"/></linearGradient>
<linearGradient id="gbws5_4" gradientUnits="userSpaceOnUse" x1="291.4" y1="0" x2="332.0" y2="0"><stop offset="0.000" stop-color="#000" stop-opacity="0.019"/><stop offset="0.179" stop-color="#000" stop-opacity="0.037"/><stop offset="0.332" stop-color="#000" stop-opacity="0.045"/><stop offset="0.485" stop-color="#000" stop-opacity="0.045"/><stop offset="0.638" stop-color="#000" stop-opacity="0.045"/><stop offset="0.791" stop-color="#000" stop-opacity="0.049"/><stop offset="0.918" stop-color="#000" stop-opacity="0.049"/><stop offset="1.000" stop-color="#000" stop-opacity="0.045"/></linearGradient>
<path id="pbs5_5" d="M291.4,154.6 292,154.6 292.6,154.7 293.2,154.8 293.9,155 294.5,155.2 295.1,155.4 295.7,155.7 296.3,155.9 296.9,156.2 297.6,156.6 298.2,157.2 298.8,157.8 299.4,158.5 300,159.2 300.6,159.9 301.2,160.7 301.9,161.3 302.5,161.9 303.1,162.4 303.7,162.9 304.3,163.5 304.9,164 305.5,164.5 306.2,165 306.8,165.5 307.4,165.8 308,166.1 308.6,166.2 309.2,166.3 309.9,166.3 310.5,166.3 311.1,166.3 311.7,166.3 312.3,166.3 312.9,166.3 313.5,166.3 314.2,166.3 314.8,166.3 315.4,166.3 316,166.2 316.6,165.9 317.2,165.6 317.9,165.2 318.5,164.8 319.1,164.3 319.7,163.7 320.3,163.2 320.9,162.6 321.5,162.1 322.2,161.5 322.8,160.8 323.4,160 324,159.1 324.6,158.3 325.2,157.4 325.8,156.5 326.5,155.6 327.1,154.7 327.7,153.9 328.3,153.2 328.9,152.4 329.5,151.7 330.2,151 330.8,150.3 331.4,149.6 332,148.9 L332,156.9 331.4,157.6 330.8,158.3 330.2,159 329.5,159.7 328.9,160.4 328.3,161.2 327.7,161.9 327.1,162.7 326.5,163.6 325.8,164.5 325.2,165.4 324.6,166.3 324,167.1 323.4,168 322.8,168.8 322.2,169.5 321.5,170.1 320.9,170.6 320.3,171.2 319.7,171.7 319.1,172.3 318.5,172.8 317.9,173.2 317.2,173.6 316.6,173.9 316,174.2 315.4,174.3 314.8,174.3 314.2,174.3 313.5,174.3 312.9,174.3 312.3,174.3 311.7,174.3 311.1,174.3 310.5,174.3 309.9,174.3 309.2,174.3 308.6,174.2 308,174.1 307.4,173.8 306.8,173.5 306.2,173 305.5,172.5 304.9,172 304.3,171.5 303.7,170.9 303.1,170.4 302.5,169.9 301.9,169.3 301.2,168.7 300.6,167.9 300,167.2 299.4,166.5 298.8,165.8 298.2,165.2 297.6,164.6 296.9,164.2 296.3,163.9 295.7,163.7 295.1,163.4 294.5,163.2 293.9,163 293.2,162.8 292.6,162.7 292,162.6 291.4,162.6Z"/>
<linearGradient id="gbws5_5" gradientUnits="userSpaceOnUse" x1="291.4" y1="0" x2="332.0" y2="0"><stop offset="0.000" stop-color="#000" stop-opacity="0.019"/><stop offset="0.128" stop-color="#000" stop-opacity="0.024"/><stop offset="0.281" stop-color="#000" stop-opacity="0.033"/><stop offset="0.434" stop-color="#000" stop-opacity="0.037"/><stop offset="0.587" stop-color="#000" stop-opacity="0.037"/><stop offset="0.740" stop-color="#000" stop-opacity="0.041"/><stop offset="0.893" stop-color="#000" stop-opacity="0.045"/><stop offset="1.000" stop-color="#000" stop-opacity="0.045"/></linearGradient>
<path id="pbs5_6" d="M291.4,154.6 292,154.6 292.6,154.6 293.2,154.5 293.9,154.5 294.5,154.4 295.1,154.3 295.7,154.2 296.3,154 296.9,153.9 297.6,153.6 298.2,153.3 298.8,152.8 299.4,152.3 300,151.7 300.6,151 301.2,150.3 301.9,149.3 302.5,148.1 303.1,146.8 303.7,145.4 304.3,144 304.9,142.6 305.5,141.2 306.2,139.7 306.8,138.1 307.4,136.5 308,134.7 308.6,132.8 309.2,130.7 309.9,128.1 310.5,125.2 311.1,122.2 311.7,119.2 312.3,116.3 312.9,113.6 313.5,110.9 314.2,108.2 314.8,105.2 315.4,101.9 316,98.2 316.6,94.1 317.2,89.7 317.9,85.1 318.5,80.4 319.1,75.7 319.7,71.1 320.3,66.7 320.9,62.5 321.5,58.3 322.2,54.2 322.8,50.1 323.4,46 324,41.9 324.6,37.8 325.2,33.7 325.8,29.5 326.5,25.2 327.1,20.8 327.7,16.5 328.3,12.1 328.9,7.9 329.5,3.9 330.2,0.2 330.8,-3.5 331.4,-7.4 332,-11.6 L332,-3.6 331.4,0.6 330.8,4.5 330.2,8.2 329.5,11.9 328.9,15.9 328.3,20.1 327.7,24.5 327.1,28.8 326.5,33.2 325.8,37.5 325.2,41.7 324.6,45.8 324,49.9 323.4,54 322.8,58.1 322.2,62.2 321.5,66.3 320.9,70.5 320.3,74.7 319.7,79.1 319.1,83.7 318.5,88.4 317.9,93.1 317.2,97.7 316.6,102.1 316,106.2 315.4,109.9 314.8,113.2 314.2,116.2 313.5,118.9 312.9,121.6 312.3,124.3 311.7,127.2 311.1,130.2 310.5,133.2 309.9,136.1 309.2,138.7 308.6,140.8 308,142.7 307.4,144.5 306.8,146.1 306.2,147.7 305.5,149.2 304.9,150.6 304.3,152 303.7,153.4 303.1,154.8 302.5,156.1 301.9,157.3 301.2,158.3 300.6,159 300,159.7 299.4,160.3 298.8,160.8 298.2,161.3 297.6,161.6 296.9,161.9 296.3,162 295.7,162.2 295.1,162.3 294.5,162.4 293.9,162.5 293.2,162.5 292.6,162.6 292,162.6 291.4,162.6Z"/>
<linearGradient id="gbss5_6" gradientUnits="userSpaceOnUse" x1="291.4" y1="0" x2="332.0" y2="0"><stop offset="0.000" stop-color="#000" stop-opacity="0.001"/><stop offset="0.128" stop-color="#000" stop-opacity="0.002"/><stop offset="0.230" stop-color="#000" stop-opacity="0.007"/><stop offset="0.332" stop-color="#000" stop-opacity="0.024"/><stop offset="0.434" stop-color="#000" stop-opacity="0.072"/><stop offset="0.510" stop-color="#000" stop-opacity="0.125"/><stop offset="0.587" stop-color="#000" stop-opacity="0.211"/><stop offset="0.714" stop-color="#000" stop-opacity="0.405"/><stop offset="0.842" stop-color="#000" stop-opacity="0.500"/><stop offset="0.944" stop-color="#000" stop-opacity="0.500"/><stop offset="0.969" stop-color="#000" stop-opacity="0.500"/><stop offset="1.000" stop-color="#000" stop-opacity="0.500"/></linearGradient>
<linearGradient id="gbws5_6" gradientUnits="userSpaceOnUse" x1="291.4" y1="0" x2="332.0" y2="0"><stop offset="0.000" stop-color="#000" stop-opacity="0.019"/><stop offset="0.128" stop-color="#000" stop-opacity="0.033"/><stop offset="0.230" stop-color="#000" stop-opacity="0.053"/><stop offset="0.332" stop-color="#000" stop-opacity="0.086"/><stop offset="0.434" stop-color="#000" stop-opacity="0.118"/><stop offset="0.510" stop-color="#000" stop-opacity="0.125"/><stop offset="0.587" stop-color="#000" stop-opacity="0.114"/><stop offset="0.714" stop-color="#000" stop-opacity="0.045"/><stop offset="0.842" stop-color="#000" stop-opacity="0.000"/><stop offset="0.944" stop-color="#000" stop-opacity="0.000"/><stop offset="0.969" stop-color="#000" stop-opacity="0.000"/><stop offset="1.000" stop-color="#000" stop-opacity="0.000"/></linearGradient>
<path id="pbx4_7" d="M259,2.7 259.6,1.6 260.2,0.1 260.8,-1.6 261.4,-3.5 262,-5.8 262.5,-8.5 L262.5,-0.5 262,2.2 261.4,4.5 260.8,6.4 260.2,8.1 259.6,9.6 259,10.7Z"/>
<linearGradient id="gbsx4_7" gradientUnits="userSpaceOnUse" x1="259.0" y1="0" x2="262.5" y2="0"><stop offset="0.000" stop-color="#000" stop-opacity="0.550"/><stop offset="0.571" stop-color="#000" stop-opacity="0.320"/><stop offset="1.000" stop-color="#000" stop-opacity="0.045"/></linearGradient>
<linearGradient id="gbwx4_7" gradientUnits="userSpaceOnUse" x1="259.0" y1="0" x2="262.5" y2="0"><stop offset="0.000" stop-color="#000" stop-opacity="0.000"/><stop offset="0.571" stop-color="#000" stop-opacity="0.080"/><stop offset="1.000" stop-color="#000" stop-opacity="0.105"/></linearGradient>
<path id="pcs1_1" d="M5.4,561.6 6,561.1 6.6,560.5 7.2,559.9 7.8,559.2 8.4,558.5 9,557.7 9.6,556.9 10.2,555.9 10.8,554.9 11.4,553.8 12,552.6 12.6,551.3 13.2,549.9 13.8,548.4 14.4,546.8 15.1,545.2 15.7,543.5 16.3,541.8 16.9,540.1 17.5,538.2 18.1,536.2 18.7,534.1 19.3,532 19.9,530 20.5,528.1 21.1,526.3 21.7,524.9 22.3,523.5 22.9,522.2 23.5,521 24.1,520.1 24.7,519.6 25.3,519.4 25.9,519.2 26.5,519.1 27.1,519 27.7,519 28.3,519 28.9,519.3 29.5,519.6 30.1,520.1 30.7,520.6 31.3,521.2 31.9,521.8 32.6,522.4 33.2,522.9 33.8,523.4 34.4,523.7 35,524.1 35.6,524.5 36.2,524.8 36.8,525.2 37.4,525.5 38,525.9 38.6,526.2 39.2,526.5 39.8,526.8 40.4,527.1 41,527.4 41.6,527.7 L41.6,535.7 41,535.4 40.4,535.1 39.8,534.8 39.2,534.5 38.6,534.2 38,533.9 37.4,533.5 36.8,533.2 36.2,532.8 35.6,532.5 35,532.1 34.4,531.7 33.8,531.4 33.2,530.9 32.6,530.4 31.9,529.8 31.3,529.2 30.7,528.6 30.1,528.1 29.5,527.6 28.9,527.3 28.3,527 27.7,527 27.1,527 26.5,527.1 25.9,527.2 25.3,527.4 24.7,527.6 24.1,528.1 23.5,529 22.9,530.2 22.3,531.5 21.7,532.9 21.1,534.3 20.5,536.1 19.9,538 19.3,540 18.7,542.1 18.1,544.2 17.5,546.2 16.9,548.1 16.3,549.8 15.7,551.5 15.1,553.2 14.4,554.8 13.8,556.4 13.2,557.9 12.6,559.3 12,560.6 11.4,561.8 10.8,562.9 10.2,563.9 9.6,564.9 9,565.7 8.4,566.5 7.8,567.2 7.2,567.9 6.6,568.5 6,569.1 5.4,569.6Z"/>
<linearGradient id="gcss1_1" gradientUnits="userSpaceOnUse" x1="5.4" y1="0" x2="41.6" y2="0"><stop offset="0.000" stop-color="#000" stop-opacity="0.007"/><stop offset="0.084" stop-color="#000" stop-opacity="0.010"/><stop offset="0.169" stop-color="#000" stop-opacity="0.015"/><stop offset="0.309" stop-color="#000" stop-opacity="0.030"/><stop offset="0.449" stop-color="#000" stop-opacity="0.150"/><stop offset="0.534" stop-color="#000" stop-opacity="0.200"/><stop offset="0.618" stop-color="#000" stop-opacity="0.175"/><stop offset="0.787" stop-color="#000" stop-opacity="0.150"/><stop offset="1.000" stop-color="#000" stop-opacity="0.143"/></linearGradient>
<linearGradient id="gcws1_1" gradientUnits="userSpaceOnUse" x1="5.4" y1="0" x2="41.6" y2="0"><stop offset="0.000" stop-color="#000" stop-opacity="0.000"/><stop offset="0.084" stop-color="#000" stop-opacity="0.000"/><stop offset="0.169" stop-color="#000" stop-opacity="0.000"/><stop offset="0.309" stop-color="#000" stop-opacity="0.000"/><stop offset="0.449" stop-color="#000" stop-opacity="0.000"/><stop offset="0.534" stop-color="#000" stop-opacity="0.200"/><stop offset="0.618" stop-color="#000" stop-opacity="0.325"/><stop offset="0.787" stop-color="#000" stop-opacity="0.450"/><stop offset="1.000" stop-color="#000" stop-opacity="0.507"/></linearGradient>
<path id="pcs1_2" d="M5.4,482.7 6,483.1 6.6,483.4 7.2,483.8 7.8,484.3 8.4,484.8 9,485.3 9.6,485.8 10.2,486.3 10.8,486.9 11.4,487.5 12,488.1 12.6,488.8 13.2,489.4 13.8,490.1 14.4,490.9 15.1,491.7 15.7,492.6 16.3,493.5 16.9,494.5 17.5,495.5 18.1,496.6 18.7,497.6 19.3,498.6 19.9,499.7 20.5,500.7 21.1,501.7 21.7,502.6 22.3,503.5 22.9,504.4 23.5,505.4 24.1,506.3 24.7,507.2 25.3,508.2 25.9,509.1 26.5,510 27.1,510.8 27.7,511.7 28.3,512.5 28.9,513.3 29.5,514 30.1,514.6 30.7,515.3 31.3,515.9 31.9,516.6 32.6,517.2 33.2,517.8 33.8,518.4 34.4,518.9 35,519.4 35.6,519.9 36.2,520.2 36.8,520.6 37.4,520.9 38,521.1 38.6,521.4 39.2,521.6 39.8,521.8 40.4,522 41,522.2 41.6,522.3 L41.6,530.3 41,530.2 40.4,530 39.8,529.8 39.2,529.6 38.6,529.4 38,529.1 37.4,528.9 36.8,528.6 36.2,528.2 35.6,527.9 35,527.4 34.4,526.9 33.8,526.4 33.2,525.8 32.6,525.2 31.9,524.6 31.3,523.9 30.7,523.3 30.1,522.6 29.5,522 28.9,521.3 28.3,520.5 27.7,519.7 27.1,518.8 26.5,518 25.9,517.1 25.3,516.2 24.7,515.2 24.1,514.3 23.5,513.4 22.9,512.4 22.3,511.5 21.7,510.6 21.1,509.7 20.5,508.7 19.9,507.7 19.3,506.6 18.7,505.6 18.1,504.6 17.5,503.5 16.9,502.5 16.3,501.5 15.7,500.6 15.1,499.7 14.4,498.9 13.8,498.1 13.2,497.4 12.6,496.8 12,496.1 11.4,495.5 10.8,494.9 10.2,494.3 9.6,493.8 9,493.3 8.4,492.8 7.8,492.3 7.2,491.8 6.6,491.4 6,491.1 5.4,490.7Z"/>
<linearGradient id="gcss1_2" gradientUnits="userSpaceOnUse" x1="5.4" y1="0" x2="41.6" y2="0"><stop offset="0.000" stop-color="#000" stop-opacity="0.000"/><stop offset="0.225" stop-color="#000" stop-opacity="0.000"/><stop offset="0.449" stop-color="#000" stop-opacity="0.005"/><stop offset="0.674" stop-color="#000" stop-opacity="0.028"/><stop offset="0.871" stop-color="#000" stop-opacity="0.078"/><stop offset="1.000" stop-color="#000" stop-opacity="0.105"/></linearGradient>
<linearGradient id="gcws1_2" gradientUnits="userSpaceOnUse" x1="5.4" y1="0" x2="41.6" y2="0"><stop offset="0.000" stop-color="#000" stop-opacity="0.500"/><stop offset="0.225" stop-color="#000" stop-opacity="0.500"/><stop offset="0.449" stop-color="#000" stop-opacity="0.495"/><stop offset="0.674" stop-color="#000" stop-opacity="0.522"/><stop offset="0.871" stop-color="#000" stop-opacity="0.572"/><stop offset="1.000" stop-color="#000" stop-opacity="0.595"/></linearGradient>
<path id="pcs1_3" d="M5.4,482.7 6,482 6.6,481.2 7.2,480.4 7.8,479.6 8.4,478.8 9,478 9.6,477.3 10.2,476.5 10.8,475.7 11.4,474.9 12,474.2 12.6,473.5 13.2,472.7 13.8,472 14.4,471.3 15.1,470.5 15.7,469.8 16.3,468.9 16.9,468.1 17.5,467.2 18.1,466.3 18.7,465.3 19.3,464.3 19.9,463.1 20.5,461.9 21.1,460.5 21.7,458.8 22.3,456.9 22.9,455 23.5,453.1 24.1,451.2 24.7,449.2 25.3,447.3 25.9,445.6 26.5,444 27.1,442.4 27.7,440.9 28.3,439.5 28.9,438.4 29.5,437.4 30.1,436.4 30.7,435.6 31.3,434.9 31.9,434.3 32.6,433.8 33.2,433.2 33.8,432.7 34.4,432.2 35,431.8 35.6,431.5 36.2,431.3 36.8,431.2 37.4,431.2 38,431.2 38.6,431.2 39.2,431.2 39.8,431.2 40.4,431.2 41,431.2 41.6,431.2 L41.6,439.2 41,439.2 40.4,439.2 39.8,439.2 39.2,439.2 38.6,439.2 38,439.2 37.4,439.2 36.8,439.2 36.2,439.3 35.6,439.5 35,439.8 34.4,440.2 33.8,440.7 33.2,441.2 32.6,441.8 31.9,442.3 31.3,442.9 30.7,443.6 30.1,444.4 29.5,445.4 28.9,446.4 28.3,447.5 27.7,448.9 27.1,450.4 26.5,452 25.9,453.6 25.3,455.3 24.7,457.2 24.1,459.2 23.5,461.1 22.9,463 22.3,464.9 21.7,466.8 21.1,468.5 20.5,469.9 19.9,471.1 19.3,472.3 18.7,473.3 18.1,474.3 17.5,475.2 16.9,476.1 16.3,476.9 15.7,477.8 15.1,478.5 14.4,479.3 13.8,480 13.2,480.7 12.6,481.5 12,482.2 11.4,482.9 10.8,483.7 10.2,484.5 9.6,485.3 9,486 8.4,486.8 7.8,487.6 7.2,488.4 6.6,489.2 6,490 5.4,490.7Z"/>
<linearGradient id="gcss1_3" gradientUnits="userSpaceOnUse" x1="5.4" y1="0" x2="41.6" y2="0"><stop offset="0.000" stop-color="#000" stop-opacity="0.027"/><stop offset="0.169" stop-color="#000" stop-opacity="0.040"/><stop offset="0.309" stop-color="#000" stop-opacity="0.080"/><stop offset="0.421" stop-color="#000" stop-opacity="0.200"/><stop offset="0.492" stop-color="#000" stop-opacity="0.200"/><stop offset="0.562" stop-color="#000" stop-opacity="0.152"/><stop offset="0.646" stop-color="#000" stop-opacity="0.108"/><stop offset="0.730" stop-color="#000" stop-opacity="0.085"/><stop offset="0.871" stop-color="#000" stop-opacity="0.080"/><stop offset="1.000" stop-color="#000" stop-opacity="0.096"/></linearGradient>
<linearGradient id="gcws1_3" gradientUnits="userSpaceOnUse" x1="5.4" y1="0" x2="41.6" y2="0"><stop offset="0.000" stop-color="#000" stop-opacity="0.873"/><stop offset="0.169" stop-color="#000" stop-opacity="0.960"/><stop offset="0.309" stop-color="#000" stop-opacity="0.920"/><stop offset="0.421" stop-color="#000" stop-opacity="0.800"/><stop offset="0.492" stop-color="#000" stop-opacity="0.800"/><stop offset="0.562" stop-color="#000" stop-opacity="0.798"/><stop offset="0.646" stop-color="#000" stop-opacity="0.792"/><stop offset="0.730" stop-color="#000" stop-opacity="0.765"/><stop offset="0.871" stop-color="#000" stop-opacity="0.720"/><stop offset="1.000" stop-color="#000" stop-opacity="0.704"/></linearGradient>
<path id="pcs1_4" d="M5.4,454.2 6,454.7 6.6,455.1 7.2,455.6 7.8,456.1 8.4,456.6 9,457.1 9.6,457.6 10.2,458.1 10.8,458.6 11.4,459.2 12,459.7 12.6,460.2 13.2,460.8 13.8,461.3 14.4,461.9 15.1,462.5 15.7,463.2 16.3,463.8 16.9,464.4 17.5,465 18.1,465.5 18.7,465.8 19.3,466.2 19.9,466.5 20.5,466.8 21.1,466.9 21.7,466.4 22.3,464.9 22.9,463 23.5,461.1 24.1,459 24.7,456.6 25.3,454.2 25.9,451.8 26.5,449.6 27.1,447.3 27.7,445 28.3,442.6 28.9,440.2 29.5,437.7 30.1,435.2 30.7,432.5 31.3,429.5 31.9,426.2 32.6,422.4 33.2,418.4 33.8,414.3 34.4,410.2 35,406.2 35.6,402.3 36.2,398.4 36.8,394.8 37.4,391.4 38,388 38.6,384.9 39.2,382.2 39.8,380 40.4,378.1 41,376.5 41.6,375.3 L41.6,383.3 41,384.5 40.4,386.1 39.8,388 39.2,390.2 38.6,392.9 38,396 37.4,399.4 36.8,402.8 36.2,406.4 35.6,410.3 35,414.2 34.4,418.2 33.8,422.3 33.2,426.4 32.6,430.4 31.9,434.2 31.3,437.5 30.7,440.5 30.1,443.2 29.5,445.7 28.9,448.2 28.3,450.6 27.7,453 27.1,455.3 26.5,457.6 25.9,459.8 25.3,462.2 24.7,464.6 24.1,467 23.5,469.1 22.9,471 22.3,472.9 21.7,474.4 21.1,474.9 20.5,474.8 19.9,474.5 19.3,474.2 18.7,473.8 18.1,473.5 17.5,473 16.9,472.4 16.3,471.8 15.7,471.2 15.1,470.5 14.4,469.9 13.8,469.3 13.2,468.8 12.6,468.2 12,467.7 11.4,467.2 10.8,466.6 10.2,466.1 9.6,465.6 9,465.1 8.4,464.6 7.8,464.1 7.2,463.6 6.6,463.1 6,462.7 5.4,462.2Z"/>
<linearGradient id="gcss1_4" gradientUnits="userSpaceOnUse" x1="5.4" y1="0" x2="41.6" y2="0"><stop offset="0.000" stop-color="#000" stop-opacity="0.016"/><stop offset="0.225" stop-color="#000" stop-opacity="0.020"/><stop offset="0.365" stop-color="#000" stop-opacity="0.032"/><stop offset="0.435" stop-color="#000" stop-opacity="0.098"/><stop offset="0.492" stop-color="#000" stop-opacity="0.105"/><stop offset="0.562" stop-color="#000" stop-opacity="0.104"/><stop offset="0.646" stop-color="#000" stop-opacity="0.081"/><stop offset="0.716" stop-color="#000" stop-opacity="0.060"/><stop offset="0.815" stop-color="#000" stop-opacity="0.033"/><stop offset="0.871" stop-color="#000" stop-opacity="0.035"/><stop offset="0.941" stop-color="#000" stop-opacity="0.040"/><stop offset="1.000" stop-color="#000" stop-opacity="0.050"/></linearGradient>
<linearGradient id="gcws1_4" gradientUnits="userSpaceOnUse" x1="5.4" y1="0" x2="41.6" y2="0"><stop offset="0.000" stop-color="#000" stop-opacity="0.384"/><stop offset="0.225" stop-color="#000" stop-opacity="0.380"/><stop offset="0.365" stop-color="#000" stop-opacity="0.368"/><stop offset="0.435" stop-color="#000" stop-opacity="0.252"/><stop offset="0.492" stop-color="#000" stop-opacity="0.145"/><stop offset="0.562" stop-color="#000" stop-opacity="0.096"/><stop offset="0.646" stop-color="#000" stop-opacity="0.044"/><stop offset="0.716" stop-color="#000" stop-opacity="0.015"/><stop offset="0.815" stop-color="#000" stop-opacity="0.002"/><stop offset="0.871" stop-color="#000" stop-opacity="0.000"/><stop offset="0.941" stop-color="#000" stop-opacity="0.000"/><stop offset="1.000" stop-color="#000" stop-opacity="0.000"/></linearGradient>
<path id="pcs1_5" d="M5.4,454.2 6,454.1 6.6,453.9 7.2,453.7 7.8,453.5 8.4,453.3 9,453.1 9.6,452.8 10.2,452.6 10.8,452.3 11.4,452 12,451.8 12.6,451.5 13.2,451.2 13.8,450.8 14.4,450.5 15.1,450.1 15.7,449.7 16.3,449.3 16.9,448.9 17.5,448.4 18.1,448 18.7,447.5 19.3,447 19.9,446.5 20.5,446 21.1,445.5 21.7,445 22.3,444.5 22.9,444 23.5,443.5 24.1,442.9 24.7,442.3 25.3,441.8 25.9,441.2 26.5,440.6 27.1,440 27.7,439.5 28.3,438.9 28.9,438.4 29.5,437.8 30.1,437.3 30.7,436.8 31.3,436.2 31.9,435.6 32.6,435.1 33.2,434.5 33.8,434 34.4,433.6 35,433.2 35.6,432.8 36.2,432.6 36.8,432.4 37.4,432.1 38,431.9 38.6,431.7 39.2,431.5 39.8,431.4 40.4,431.3 41,431.2 41.6,431.2 L41.6,439.2 41,439.2 40.4,439.3 39.8,439.4 39.2,439.5 38.6,439.7 38,439.9 37.4,440.1 36.8,440.4 36.2,440.6 35.6,440.8 35,441.2 34.4,441.6 33.8,442 33.2,442.5 32.6,443.1 31.9,443.6 31.3,444.2 30.7,444.8 30.1,445.3 29.5,445.8 28.9,446.4 28.3,446.9 27.7,447.5 27.1,448 26.5,448.6 25.9,449.2 25.3,449.8 24.7,450.3 24.1,450.9 23.5,451.5 22.9,452 22.3,452.5 21.7,453 21.1,453.5 20.5,454 19.9,454.5 19.3,455 18.7,455.5 18.1,456 17.5,456.4 16.9,456.9 16.3,457.3 15.7,457.7 15.1,458.1 14.4,458.5 13.8,458.8 13.2,459.2 12.6,459.5 12,459.8 11.4,460 10.8,460.3 10.2,460.6 9.6,460.8 9,461.1 8.4,461.3 7.8,461.5 7.2,461.7 6.6,461.9 6,462.1 5.4,462.2Z"/>
<linearGradient id="gcss1_5" gradientUnits="userSpaceOnUse" x1="5.4" y1="0" x2="41.6" y2="0"><stop offset="0.000" stop-color="#000" stop-opacity="0.024"/><stop offset="0.225" stop-color="#000" stop-opacity="0.028"/><stop offset="0.449" stop-color="#000" stop-opacity="0.035"/><stop offset="0.674" stop-color="#000" stop-opacity="0.045"/><stop offset="0.843" stop-color="#000" stop-opacity="0.040"/><stop offset="1.000" stop-color="#000" stop-opacity="0.050"/></linearGradient>
<linearGradient id="gcws1_5" gradientUnits="userSpaceOnUse" x1="5.4" y1="0" x2="41.6" y2="0"><stop offset="0.000" stop-color="#000" stop-opacity="0.376"/><stop offset="0.225" stop-color="#000" stop-opacity="0.322"/><stop offset="0.449" stop-color="#000" stop-opacity="0.315"/><stop offset="0.674" stop-color="#000" stop-opacity="0.405"/><stop offset="0.843" stop-color="#000" stop-opacity="0.460"/><stop offset="1.000" stop-color="#000" stop-opacity="0.450"/></linearGradient>
<path id="pcs1_6" d="M5.4,454.2 6,453.9 6.6,453.7 7.2,453.4 7.8,453.1 8.4,452.8 9,452.4 9.6,452.1 10.2,451.8 10.8,451.4 11.4,451 12,450.7 12.6,450.3 13.2,449.9 13.8,449.5 14.4,449.1 15.1,448.7 15.7,448.3 16.3,447.8 16.9,447.3 17.5,446.9 18.1,446.4 18.7,445.9 19.3,445.4 19.9,444.9 20.5,444.4 21.1,443.8 21.7,443.3 22.3,442.8 22.9,442.3 23.5,441.7 24.1,441.2 24.7,440.6 25.3,440 25.9,439.5 26.5,438.9 27.1,438.3 27.7,437.6 28.3,437 28.9,436.4 29.5,435.8 30.1,435.1 30.7,434.4 31.3,433.7 31.9,432.9 32.6,432.2 33.2,431.4 33.8,430.6 34.4,429.9 35,429.1 35.6,428.4 36.2,427.7 36.8,426.9 37.4,426.1 38,425.4 38.6,424.8 39.2,424.5 39.8,424.2 40.4,424 41,423.8 41.6,423.7 L41.6,431.7 41,431.8 40.4,432 39.8,432.2 39.2,432.5 38.6,432.8 38,433.4 37.4,434.1 36.8,434.9 36.2,435.7 35.6,436.4 35,437.1 34.4,437.9 33.8,438.6 33.2,439.4 32.6,440.2 31.9,440.9 31.3,441.7 30.7,442.4 30.1,443.1 29.5,443.8 28.9,444.4 28.3,445 27.7,445.6 27.1,446.3 26.5,446.9 25.9,447.5 25.3,448 24.7,448.6 24.1,449.2 23.5,449.7 22.9,450.3 22.3,450.8 21.7,451.3 21.1,451.8 20.5,452.4 19.9,452.9 19.3,453.4 18.7,453.9 18.1,454.4 17.5,454.9 16.9,455.3 16.3,455.8 15.7,456.3 15.1,456.7 14.4,457.1 13.8,457.5 13.2,457.9 12.6,458.3 12,458.7 11.4,459 10.8,459.4 10.2,459.8 9.6,460.1 9,460.4 8.4,460.8 7.8,461.1 7.2,461.4 6.6,461.7 6,461.9 5.4,462.2Z"/>
<linearGradient id="gcss1_6" gradientUnits="userSpaceOnUse" x1="5.4" y1="0" x2="41.6" y2="0"><stop offset="0.000" stop-color="#000" stop-opacity="0.024"/><stop offset="0.225" stop-color="#000" stop-opacity="0.028"/><stop offset="0.449" stop-color="#000" stop-opacity="0.035"/><stop offset="0.674" stop-color="#000" stop-opacity="0.045"/><stop offset="0.843" stop-color="#000" stop-opacity="0.030"/><stop offset="0.927" stop-color="#000" stop-opacity="0.025"/><stop offset="1.000" stop-color="#000" stop-opacity="0.025"/></linearGradient>
<linearGradient id="gcws1_6" gradientUnits="userSpaceOnUse" x1="5.4" y1="0" x2="41.6" y2="0"><stop offset="0.000" stop-color="#000" stop-opacity="0.376"/><stop offset="0.225" stop-color="#000" stop-opacity="0.322"/><stop offset="0.449" stop-color="#000" stop-opacity="0.315"/><stop offset="0.674" stop-color="#000" stop-opacity="0.405"/><stop offset="0.843" stop-color="#000" stop-opacity="0.470"/><stop offset="0.927" stop-color="#000" stop-opacity="0.475"/><stop offset="1.000" stop-color="#000" stop-opacity="0.475"/></linearGradient>
<path id="pcs2_1" d="M41.6,527.7 42.2,527.4 42.8,527 43.3,526.7 43.9,526.3 44.5,525.9 45.1,525.5 45.6,525.1 46.2,524.7 46.8,524.3 47.4,523.8 48,523.4 48.5,522.9 49.1,522.4 49.7,521.8 50.3,521.2 50.8,520.4 51.4,519.5 52,518.6 52.6,517.6 53.1,516.7 53.7,515.8 54.3,514.8 54.9,513.7 55.5,512.6 56,511.7 56.6,511 57.2,510.6 57.8,510.2 58.3,509.8 58.9,509.6 59.5,509.5 L59.5,517.5 58.9,517.6 58.3,517.8 57.8,518.2 57.2,518.6 56.6,519 56,519.7 55.5,520.6 54.9,521.7 54.3,522.8 53.7,523.8 53.1,524.7 52.6,525.6 52,526.6 51.4,527.5 50.8,528.4 50.3,529.2 49.7,529.8 49.1,530.4 48.5,530.9 48,531.4 47.4,531.8 46.8,532.3 46.2,532.7 45.6,533.1 45.1,533.5 44.5,533.9 43.9,534.3 43.3,534.7 42.8,535 42.2,535.4 41.6,535.7Z"/>
<linearGradient id="gcss2_1" gradientUnits="userSpaceOnUse" x1="41.6" y1="0" x2="59.5" y2="0"><stop offset="0.000" stop-color="#000" stop-opacity="0.143"/><stop offset="0.239" stop-color="#000" stop-opacity="0.132"/><stop offset="0.457" stop-color="#000" stop-opacity="0.120"/><stop offset="0.674" stop-color="#000" stop-opacity="0.130"/><stop offset="0.837" stop-color="#000" stop-opacity="0.140"/><stop offset="1.000" stop-color="#000" stop-opacity="0.140"/></linearGradient>
<linearGradient id="gcws2_1" gradientUnits="userSpaceOnUse" x1="41.6" y1="0" x2="59.5" y2="0"><stop offset="0.000" stop-color="#000" stop-opacity="0.507"/><stop offset="0.239" stop-color="#000" stop-opacity="0.468"/><stop offset="0.457" stop-color="#000" stop-opacity="0.380"/><stop offset="0.674" stop-color="#000" stop-opacity="0.370"/><stop offset="0.837" stop-color="#000" stop-opacity="0.360"/><stop offset="1.000" stop-color="#000" stop-opacity="0.360"/></linearGradient>
<path id="pcs2_2" d="M41.6,522.3 42.2,521.9 42.8,521.6 43.3,521.2 43.9,520.8 44.5,520.4 45.1,520 45.6,519.6 46.2,519.2 46.8,518.8 47.4,518.3 48,517.8 48.5,517 49.1,516.1 49.7,515.2 50.3,514.1 50.8,513 51.4,511.9 52,510.6 52.6,509.3 53.1,508 53.7,506.7 54.3,505.3 54.9,503.9 55.5,502.5 56,501.2 56.6,499.8 57.2,498.5 57.8,497.3 58.3,496 58.9,494.8 59.5,493.6 L59.5,501.6 58.9,502.8 58.3,504 57.8,505.3 57.2,506.5 56.6,507.8 56,509.2 55.5,510.5 54.9,511.9 54.3,513.3 53.7,514.7 53.1,516 52.6,517.3 52,518.6 51.4,519.9 50.8,521 50.3,522.1 49.7,523.2 49.1,524.1 48.5,525 48,525.8 47.4,526.3 46.8,526.8 46.2,527.2 45.6,527.6 45.1,528 44.5,528.4 43.9,528.8 43.3,529.2 42.8,529.6 42.2,529.9 41.6,530.3Z"/>
<linearGradient id="gcss2_2" gradientUnits="userSpaceOnUse" x1="41.6" y1="0" x2="59.5" y2="0"><stop offset="0.000" stop-color="#000" stop-opacity="0.105"/><stop offset="0.185" stop-color="#000" stop-opacity="0.098"/><stop offset="0.348" stop-color="#000" stop-opacity="0.099"/><stop offset="0.511" stop-color="#000" stop-opacity="0.100"/><stop offset="0.674" stop-color="#000" stop-opacity="0.110"/><stop offset="0.837" stop-color="#000" stop-opacity="0.130"/><stop offset="1.000" stop-color="#000" stop-opacity="0.140"/></linearGradient>
<linearGradient id="gcws2_2" gradientUnits="userSpaceOnUse" x1="41.6" y1="0" x2="59.5" y2="0"><stop offset="0.000" stop-color="#000" stop-opacity="0.595"/><stop offset="0.185" stop-color="#000" stop-opacity="0.552"/><stop offset="0.348" stop-color="#000" stop-opacity="0.451"/><stop offset="0.511" stop-color="#000" stop-opacity="0.400"/><stop offset="0.674" stop-color="#000" stop-opacity="0.390"/><stop offset="0.837" stop-color="#000" stop-opacity="0.370"/><stop offset="1.000" stop-color="#000" stop-opacity="0.360"/></linearGradient>
<path id="pcs2_3" d="M41.6,431.2 42.2,432.9 42.8,434.7 43.3,436.4 43.9,438.2 44.5,440 45.1,441.9 45.6,443.7 46.2,445.6 46.8,447.5 47.4,449.5 48,451.5 48.5,453.5 49.1,455.5 49.7,457.5 50.3,459.5 50.8,461.6 51.4,463.7 52,465.7 52.6,467.8 53.1,469.9 53.7,472.1 54.3,474.2 54.9,476.3 55.5,478.4 56,480.6 56.6,482.7 57.2,484.9 57.8,487 58.3,489.2 58.9,491.4 59.5,493.6 L59.5,501.6 58.9,499.4 58.3,497.2 57.8,495 57.2,492.9 56.6,490.7 56,488.6 55.5,486.4 54.9,484.3 54.3,482.2 53.7,480.1 53.1,477.9 52.6,475.8 52,473.7 51.4,471.7 50.8,469.6 50.3,467.5 49.7,465.5 49.1,463.5 48.5,461.5 48,459.5 47.4,457.5 46.8,455.5 46.2,453.6 45.6,451.7 45.1,449.9 44.5,448 43.9,446.2 43.3,444.4 42.8,442.7 42.2,440.9 41.6,439.2Z"/>
<path id="pcs2_4" d="M41.6,431.2 42.2,431.7 42.8,432.3 43.3,432.9 43.9,433.6 44.5,434.4 45.1,435.1 45.6,436 46.2,436.9 46.8,437.9 47.4,438.9 48,439.9 48.5,441 49.1,442 49.7,443.1 50.3,444.2 50.8,445.2 51.4,446.3 52,447.4 52.6,448.5 53.1,449.5 53.7,450.5 54.3,451.3 54.9,452.2 55.5,452.9 56,453.6 56.6,454.1 57.2,454.5 57.8,454.9 58.3,455.3 58.9,455.5 59.5,455.7 L59.5,463.7 58.9,463.5 58.3,463.3 57.8,462.9 57.2,462.5 56.6,462.1 56,461.6 55.5,460.9 54.9,460.2 54.3,459.3 53.7,458.5 53.1,457.5 52.6,456.5 52,455.4 51.4,454.3 50.8,453.2 50.3,452.2 49.7,451.1 49.1,450 48.5,449 48,447.9 47.4,446.9 46.8,445.9 46.2,444.9 45.6,444 45.1,443.1 44.5,442.4 43.9,441.6 43.3,440.9 42.8,440.3 42.2,439.7 41.6,439.2Z"/>
<linearGradient id="gcss2_4" gradientUnits="userSpaceOnUse" x1="41.6" y1="0" x2="59.5" y2="0"><stop offset="0.000" stop-color="#000" stop-opacity="0.050"/><stop offset="0.185" stop-color="#000" stop-opacity="0.050"/><stop offset="0.348" stop-color="#000" stop-opacity="0.050"/><stop offset="0.511" stop-color="#000" stop-opacity="0.050"/><stop offset="0.674" stop-color="#000" stop-opacity="0.060"/><stop offset="0.837" stop-color="#000" stop-opacity="0.060"/><stop offset="1.000" stop-color="#000" stop-opacity="0.060"/></linearGradient>
<linearGradient id="gcws2_4" gradientUnits="userSpaceOnUse" x1="41.6" y1="0" x2="59.5" y2="0"><stop offset="0.000" stop-color="#000" stop-opacity="0.450"/><stop offset="0.185" stop-color="#000" stop-opacity="0.450"/><stop offset="0.348" stop-color="#000" stop-opacity="0.450"/><stop offset="0.511" stop-color="#000" stop-opacity="0.450"/><stop offset="0.674" stop-color="#000" stop-opacity="0.440"/><stop offset="0.837" stop-color="#000" stop-opacity="0.440"/><stop offset="1.000" stop-color="#000" stop-opacity="0.440"/></linearGradient>
<path id="pcs2_5" d="M41.6,423.7 42.2,423.7 42.8,423.7 43.3,423.7 43.9,423.7 44.5,423.7 45.1,423.7 45.6,423.7 46.2,423.7 46.8,423.7 47.4,423.7 48,423.7 48.5,423.7 49.1,423.7 49.7,423.7 50.3,423.7 50.8,423.7 51.4,423.7 52,423.7 52.6,423.7 53.1,423.7 53.7,423.7 54.3,423.7 54.9,423.7 55.5,423.7 56,423.7 56.6,423.7 57.2,423.7 57.8,423.7 58.3,423.7 58.9,423.7 59.5,423.7 L59.5,431.7 58.9,431.7 58.3,431.7 57.8,431.7 57.2,431.7 56.6,431.7 56,431.7 55.5,431.7 54.9,431.7 54.3,431.7 53.7,431.7 53.1,431.7 52.6,431.7 52,431.7 51.4,431.7 50.8,431.7 50.3,431.7 49.7,431.7 49.1,431.7 48.5,431.7 48,431.7 47.4,431.7 46.8,431.7 46.2,431.7 45.6,431.7 45.1,431.7 44.5,431.7 43.9,431.7 43.3,431.7 42.8,431.7 42.2,431.7 41.6,431.7Z"/>
<linearGradient id="gcss2_5" gradientUnits="userSpaceOnUse" x1="41.6" y1="0" x2="59.5" y2="0"><stop offset="0.000" stop-color="#000" stop-opacity="0.024"/><stop offset="1.000" stop-color="#000" stop-opacity="0.023"/></linearGradient>
<linearGradient id="gcws2_5" gradientUnits="userSpaceOnUse" x1="41.6" y1="0" x2="59.5" y2="0"><stop offset="0.000" stop-color="#000" stop-opacity="0.451"/><stop offset="1.000" stop-color="#000" stop-opacity="0.427"/></linearGradient>
<path id="pcs2_6" d="M41.6,375.3 42.2,374.4 42.7,373.2 43.3,371.6 43.9,369.9 44.5,367.9 45,365.7 45.6,363.1 46.2,359.8 46.8,356.1 47.3,352 47.9,347.8 48.5,343.5 49,339.3 49.6,335.3 50.2,331.5 50.8,327.8 51.3,324.2 51.9,320.5 52.5,316.8 53.1,312.9 53.6,309 54.2,304.8 54.8,300.6 55.3,296.2 55.9,291.7 56.5,287 57.1,282.1 L57.1,290.1 56.5,295 55.9,299.7 55.3,304.2 54.8,308.6 54.2,312.8 53.6,317 53.1,320.9 52.5,324.8 51.9,328.5 51.3,332.2 50.8,335.8 50.2,339.5 49.6,343.3 49,347.3 48.5,351.5 47.9,355.8 47.3,360 46.8,364.1 46.2,367.8 45.6,371.1 45,373.7 44.5,375.9 43.9,377.9 43.3,379.6 42.7,381.2 42.2,382.4 41.6,383.3Z"/>
<linearGradient id="gcss2_6" gradientUnits="userSpaceOnUse" x1="41.6" y1="0" x2="57.1" y2="0"><stop offset="0.000" stop-color="#000" stop-opacity="0.050"/><stop offset="0.214" stop-color="#000" stop-opacity="0.060"/><stop offset="0.528" stop-color="#000" stop-opacity="0.070"/><stop offset="0.780" stop-color="#000" stop-opacity="0.075"/><stop offset="0.943" stop-color="#000" stop-opacity="0.075"/><stop offset="1.000" stop-color="#000" stop-opacity="0.075"/></linearGradient>
<path id="pcs3_1" d="M59.5,509.5 60.1,509.1 60.7,508.7 61.3,508.3 61.9,507.8 62.5,507.4 63.1,506.9 63.8,506.4 64.4,505.9 65,505.3 65.6,504.7 66.2,504.1 66.8,503.3 67.4,502.5 68,501.7 68.6,500.8 69.2,499.9 69.8,499 70.4,498.1 71,497.2 71.6,496.3 72.2,495.4 72.9,494.5 73.5,493.6 74.1,492.7 74.7,491.8 75.3,490.9 75.9,490 76.5,489.2 77.1,488.5 77.7,487.8 78.3,487.2 78.9,486.6 79.5,486.1 80.1,485.6 80.8,485.1 81.4,484.8 82,484.4 82.6,484.2 83.2,483.9 83.8,483.7 84.4,483.5 85,483.4 L85,491.4 84.4,491.5 83.8,491.7 83.2,491.9 82.6,492.2 82,492.4 81.4,492.8 80.8,493.1 80.1,493.6 79.5,494.1 78.9,494.6 78.3,495.2 77.7,495.8 77.1,496.5 76.5,497.2 75.9,498 75.3,498.9 74.7,499.8 74.1,500.7 73.5,501.6 72.9,502.5 72.2,503.4 71.6,504.3 71,505.2 70.4,506.1 69.8,507 69.2,507.9 68.6,508.8 68,509.7 67.4,510.5 66.8,511.3 66.2,512.1 65.6,512.7 65,513.3 64.4,513.9 63.8,514.4 63.1,514.9 62.5,515.4 61.9,515.8 61.3,516.3 60.7,516.7 60.1,517.1 59.5,517.5Z"/>
<linearGradient id="gcss3_1" gradientUnits="userSpaceOnUse" x1="59.5" y1="0" x2="85.0" y2="0"><stop offset="0.000" stop-color="#000" stop-opacity="0.140"/><stop offset="0.120" stop-color="#000" stop-opacity="0.130"/><stop offset="0.240" stop-color="#000" stop-opacity="0.120"/><stop offset="0.480" stop-color="#000" stop-opacity="0.100"/><stop offset="0.720" stop-color="#000" stop-opacity="0.075"/><stop offset="0.880" stop-color="#000" stop-opacity="0.060"/><stop offset="1.000" stop-color="#000" stop-opacity="0.050"/></linearGradient>
<linearGradient id="gcws3_1" gradientUnits="userSpaceOnUse" x1="59.5" y1="0" x2="85.0" y2="0"><stop offset="0.000" stop-color="#000" stop-opacity="0.360"/><stop offset="0.120" stop-color="#000" stop-opacity="0.370"/><stop offset="0.240" stop-color="#000" stop-opacity="0.380"/><stop offset="0.480" stop-color="#000" stop-opacity="0.400"/><stop offset="0.720" stop-color="#000" stop-opacity="0.425"/><stop offset="0.880" stop-color="#000" stop-opacity="0.440"/><stop offset="1.000" stop-color="#000" stop-opacity="0.450"/></linearGradient>
<path id="pcs3_2" d="M59.5,493.6 60.1,494.3 60.7,494.9 61.3,495.6 61.9,496.3 62.5,497 63.1,497.8 63.8,498.5 64.4,499.2 65,500 65.6,500.7 66.2,501.5 66.8,502.3 67.4,503.2 68,504.2 68.6,505.2 69.2,506.4 69.8,507.6 70.4,508.8 71,510.1 71.6,511.3 72.2,512.6 72.9,513.7 73.5,514.8 74.1,515.8 74.7,516.8 75.3,517.8 75.9,518.8 76.5,519.8 77.1,520.7 77.7,521.5 78.3,522.3 78.9,523 79.5,523.6 80.1,524 80.8,524.5 81.4,524.9 82,525.3 82.6,525.6 83.2,525.9 83.8,526.1 84.4,526.3 85,526.4 L85,534.4 84.4,534.3 83.8,534.1 83.2,533.9 82.6,533.6 82,533.3 81.4,532.9 80.8,532.5 80.1,532 79.5,531.6 78.9,531 78.3,530.3 77.7,529.5 77.1,528.7 76.5,527.8 75.9,526.8 75.3,525.8 74.7,524.8 74.1,523.8 73.5,522.8 72.9,521.7 72.2,520.6 71.6,519.3 71,518.1 70.4,516.8 69.8,515.6 69.2,514.4 68.6,513.2 68,512.2 67.4,511.2 66.8,510.3 66.2,509.5 65.6,508.7 65,508 64.4,507.2 63.8,506.5 63.1,505.8 62.5,505 61.9,504.3 61.3,503.6 60.7,502.9 60.1,502.3 59.5,501.6Z"/>
<linearGradient id="gcss3_2" gradientUnits="userSpaceOnUse" x1="59.5" y1="0" x2="85.0" y2="0"><stop offset="0.000" stop-color="#000" stop-opacity="0.162"/><stop offset="0.160" stop-color="#000" stop-opacity="0.162"/><stop offset="0.320" stop-color="#000" stop-opacity="0.162"/><stop offset="0.560" stop-color="#000" stop-opacity="0.162"/><stop offset="0.800" stop-color="#000" stop-opacity="0.153"/><stop offset="1.000" stop-color="#000" stop-opacity="0.144"/></linearGradient>
<linearGradient id="gcws3_2" gradientUnits="userSpaceOnUse" x1="59.5" y1="0" x2="85.0" y2="0"><stop offset="0.000" stop-color="#000" stop-opacity="0.288"/><stop offset="0.160" stop-color="#000" stop-opacity="0.288"/><stop offset="0.320" stop-color="#000" stop-opacity="0.288"/><stop offset="0.560" stop-color="#000" stop-opacity="0.288"/><stop offset="0.800" stop-color="#000" stop-opacity="0.297"/><stop offset="1.000" stop-color="#000" stop-opacity="0.306"/></linearGradient>
<path id="pcs3_3" d="M59.5,493.6 60.1,492.8 60.7,491.9 61.3,491 61.9,490.1 62.5,489.2 63.1,488.3 63.8,487.4 64.4,486.4 65,485.5 65.6,484.5 66.2,483.6 66.8,482.6 67.4,481.7 68,480.8 68.6,479.8 69.2,478.8 69.8,477.8 70.4,476.8 71,475.7 71.6,474.5 72.2,473.3 72.9,472 73.5,470.5 74.1,468.9 74.7,467.2 75.3,465.3 75.9,463.4 76.5,461.4 77.1,459.3 77.7,457.3 78.3,455.1 78.9,452.8 79.5,450.4 80.1,448 80.8,445.5 81.4,443 82,440.7 82.6,438.4 83.2,436.1 83.8,433.9 84.4,431.7 85,429.5 L85,437.5 84.4,439.7 83.8,441.9 83.2,444.1 82.6,446.4 82,448.7 81.4,451 80.8,453.5 80.1,456 79.5,458.4 78.9,460.8 78.3,463.1 77.7,465.3 77.1,467.3 76.5,469.4 75.9,471.4 75.3,473.3 74.7,475.2 74.1,476.9 73.5,478.5 72.9,480 72.2,481.3 71.6,482.5 71,483.7 70.4,484.8 69.8,485.8 69.2,486.8 68.6,487.8 68,488.8 67.4,489.7 66.8,490.6 66.2,491.6 65.6,492.5 65,493.5 64.4,494.4 63.8,495.4 63.1,496.3 62.5,497.2 61.9,498.1 61.3,499 60.7,499.9 60.1,500.8 59.5,501.6Z"/>
<linearGradient id="gcss3_3" gradientUnits="userSpaceOnUse" x1="59.5" y1="0" x2="85.0" y2="0"><stop offset="0.000" stop-color="#000" stop-opacity="0.135"/><stop offset="0.240" stop-color="#000" stop-opacity="0.144"/><stop offset="0.520" stop-color="#000" stop-opacity="0.158"/><stop offset="0.720" stop-color="#000" stop-opacity="0.180"/><stop offset="0.880" stop-color="#000" stop-opacity="0.207"/><stop offset="1.000" stop-color="#000" stop-opacity="0.234"/></linearGradient>
<linearGradient id="gcws3_3" gradientUnits="userSpaceOnUse" x1="59.5" y1="0" x2="85.0" y2="0"><stop offset="0.000" stop-color="#000" stop-opacity="0.315"/><stop offset="0.240" stop-color="#000" stop-opacity="0.306"/><stop offset="0.520" stop-color="#000" stop-opacity="0.293"/><stop offset="0.720" stop-color="#000" stop-opacity="0.270"/><stop offset="0.880" stop-color="#000" stop-opacity="0.243"/><stop offset="1.000" stop-color="#000" stop-opacity="0.216"/></linearGradient>
<path id="pcs3_4" d="M59.5,455.7 60.1,455.7 60.7,455.8 61.3,455.8 61.9,456 62.5,456.1 63.1,456.3 63.8,456.5 64.4,456.7 65,456.9 65.6,457.4 66.2,458.1 66.8,459 67.4,459.9 68,460.9 68.6,462 69.2,463.1 69.8,464.5 70.4,466 71,467.6 71.6,469.2 72.2,470.6 72.9,471.8 73.5,472.9 74.1,474 74.7,474.9 75.3,475.9 75.9,476.7 76.5,477.6 77.1,478.3 77.7,479 78.3,479.6 78.9,480.2 79.5,480.7 80.1,481.2 80.8,481.6 81.4,482 82,482.3 82.6,482.6 83.2,482.9 83.8,483.1 84.4,483.3 85,483.4 L85,491.4 84.4,491.3 83.8,491.1 83.2,490.9 82.6,490.6 82,490.3 81.4,490 80.8,489.6 80.1,489.2 79.5,488.7 78.9,488.2 78.3,487.6 77.7,487 77.1,486.3 76.5,485.6 75.9,484.7 75.3,483.9 74.7,482.9 74.1,482 73.5,480.9 72.9,479.8 72.2,478.6 71.6,477.2 71,475.6 70.4,474 69.8,472.5 69.2,471.1 68.6,470 68,468.9 67.4,467.9 66.8,467 66.2,466.1 65.6,465.4 65,464.9 64.4,464.7 63.8,464.5 63.1,464.3 62.5,464.1 61.9,464 61.3,463.8 60.7,463.8 60.1,463.7 59.5,463.7Z"/>
<linearGradient id="gcss3_4" gradientUnits="userSpaceOnUse" x1="59.5" y1="0" x2="85.0" y2="0"><stop offset="0.000" stop-color="#000" stop-opacity="0.060"/><stop offset="0.200" stop-color="#000" stop-opacity="0.060"/><stop offset="0.360" stop-color="#000" stop-opacity="0.050"/><stop offset="0.520" stop-color="#000" stop-opacity="0.050"/><stop offset="0.720" stop-color="#000" stop-opacity="0.050"/><stop offset="0.880" stop-color="#000" stop-opacity="0.050"/><stop offset="1.000" stop-color="#000" stop-opacity="0.050"/></linearGradient>
<linearGradient id="gcws3_4" gradientUnits="userSpaceOnUse" x1="59.5" y1="0" x2="85.0" y2="0"><stop offset="0.000" stop-color="#000" stop-opacity="0.440"/><stop offset="0.200" stop-color="#000" stop-opacity="0.440"/><stop offset="0.360" stop-color="#000" stop-opacity="0.450"/><stop offset="0.520" stop-color="#000" stop-opacity="0.450"/><stop offset="0.720" stop-color="#000" stop-opacity="0.450"/><stop offset="0.880" stop-color="#000" stop-opacity="0.450"/><stop offset="1.000" stop-color="#000" stop-opacity="0.450"/></linearGradient>
<path id="pcs3_5" d="M59.5,423.7 60.1,424.2 60.7,424.6 61.3,425.1 61.9,425.6 62.5,426.1 63.1,426.6 63.8,427.1 64.4,427.6 65,428.2 65.6,428.8 66.2,429.4 66.8,430 67.4,430.5 68,430.9 68.6,431.4 69.2,431.8 69.8,432.2 70.4,432.6 71,432.8 71.6,432.9 72.2,432.9 72.9,432.9 73.5,432.8 74.1,432.7 74.7,432.6 75.3,432.5 75.9,432.3 76.5,432.2 77.1,432 77.7,431.9 78.3,431.7 78.9,431.5 79.5,431.2 80.1,430.9 80.8,430.6 81.4,430.3 82,430.1 82.6,430 83.2,429.8 83.8,429.7 84.4,429.6 85,429.5 L85,437.5 84.4,437.6 83.8,437.7 83.2,437.8 82.6,438 82,438.1 81.4,438.3 80.8,438.6 80.1,438.9 79.5,439.2 78.9,439.5 78.3,439.7 77.7,439.9 77.1,440 76.5,440.2 75.9,440.3 75.3,440.5 74.7,440.6 74.1,440.7 73.5,440.8 72.9,440.9 72.2,440.9 71.6,440.9 71,440.8 70.4,440.6 69.8,440.2 69.2,439.8 68.6,439.4 68,438.9 67.4,438.5 66.8,438 66.2,437.4 65.6,436.8 65,436.2 64.4,435.6 63.8,435.1 63.1,434.6 62.5,434.1 61.9,433.6 61.3,433.1 60.7,432.6 60.1,432.2 59.5,431.7Z"/>
<linearGradient id="gcss3_5" gradientUnits="userSpaceOnUse" x1="59.5" y1="0" x2="85.0" y2="0"><stop offset="0.000" stop-color="#000" stop-opacity="0.020"/><stop offset="0.160" stop-color="#000" stop-opacity="0.018"/><stop offset="0.320" stop-color="#000" stop-opacity="0.017"/><stop offset="0.480" stop-color="#000" stop-opacity="0.016"/><stop offset="0.720" stop-color="#000" stop-opacity="0.016"/><stop offset="0.880" stop-color="#000" stop-opacity="0.020"/><stop offset="1.000" stop-color="#000" stop-opacity="0.037"/></linearGradient>
<linearGradient id="gcws3_5" gradientUnits="userSpaceOnUse" x1="59.5" y1="0" x2="85.0" y2="0"><stop offset="0.000" stop-color="#000" stop-opacity="0.380"/><stop offset="0.160" stop-color="#000" stop-opacity="0.207"/><stop offset="0.320" stop-color="#000" stop-opacity="0.158"/><stop offset="0.480" stop-color="#000" stop-opacity="0.144"/><stop offset="0.720" stop-color="#000" stop-opacity="0.144"/><stop offset="0.880" stop-color="#000" stop-opacity="0.180"/><stop offset="1.000" stop-color="#000" stop-opacity="0.212"/></linearGradient>
<path id="pcs3_6" d="M63.6,282.1 64.2,286.7 64.8,290.9 65.4,294.7 66,298.4 66.6,301.8 67.3,305.2 67.9,308.6 68.5,312 69.1,315.6 69.7,319.4 70.3,323.3 70.9,327.4 71.5,331.6 72.1,335.9 72.8,340.3 73.4,344.6 74,349 74.6,353.4 75.2,357.7 75.8,362 76.4,366.1 77,370.3 77.7,374.4 78.3,378.5 78.9,382.6 79.5,386.8 80.1,391.1 80.7,395.8 81.3,400.4 81.9,404.6 82.6,408.2 83.2,411.5 83.8,414.4 84.4,416.7 85,418.4 L85,426.4 84.4,424.7 83.8,422.4 83.2,419.5 82.6,416.2 81.9,412.6 81.3,408.4 80.7,403.8 80.1,399.1 79.5,394.8 78.9,390.6 78.3,386.5 77.7,382.4 77,378.3 76.4,374.1 75.8,370 75.2,365.7 74.6,361.4 74,357 73.4,352.6 72.8,348.3 72.1,343.9 71.5,339.6 70.9,335.4 70.3,331.3 69.7,327.4 69.1,323.6 68.5,320 67.9,316.6 67.3,313.2 66.6,309.8 66,306.4 65.4,302.7 64.8,298.9 64.2,294.7 63.6,290.1Z"/>
<linearGradient id="gcss3_6" gradientUnits="userSpaceOnUse" x1="63.6" y1="0" x2="85.0" y2="0"><stop offset="0.000" stop-color="#000" stop-opacity="0.100"/><stop offset="0.048" stop-color="#000" stop-opacity="0.100"/><stop offset="0.286" stop-color="#000" stop-opacity="0.110"/><stop offset="0.571" stop-color="#000" stop-opacity="0.140"/><stop offset="0.762" stop-color="#000" stop-opacity="0.175"/><stop offset="0.857" stop-color="#000" stop-opacity="0.200"/><stop offset="0.952" stop-color="#000" stop-opacity="0.225"/><stop offset="1.000" stop-color="#000" stop-opacity="0.225"/></linearGradient>
<path id="pcx3_7" d="M65.1,289.6 65.7,291.1 66.3,292.6 66.9,293.9 67.5,295.1 68.1,296.2 68.7,297.1 69.3,297.9 69.9,298.8 70.5,299.5 71.1,300 71.7,300.2 72.3,300.2 72.9,300.2 73.5,300.1 74.2,300.1 74.8,300 75.4,300 76,299.9 76.6,299.8 77.2,299.7 77.8,299.6 78.4,299.5 79,299.3 79.6,299.2 80.2,299.1 80.8,298.9 81.4,298.6 82,298.2 82.6,297.8 83.2,297.4 83.8,296.9 84.4,296.4 85,295.9 L85,303.9 84.4,304.4 83.8,304.9 83.2,305.4 82.6,305.8 82,306.2 81.4,306.6 80.8,306.9 80.2,307.1 79.6,307.2 79,307.3 78.4,307.5 77.8,307.6 77.2,307.7 76.6,307.8 76,307.9 75.4,308 74.8,308 74.2,308.1 73.5,308.1 72.9,308.2 72.3,308.2 71.7,308.2 71.1,308 70.5,307.5 69.9,306.8 69.3,305.9 68.7,305.1 68.1,304.2 67.5,303.1 66.9,301.9 66.3,300.6 65.7,299.1 65.1,297.6Z"/>
<linearGradient id="gcsx3_7" gradientUnits="userSpaceOnUse" x1="65.1" y1="0" x2="85.0" y2="0"><stop offset="0.000" stop-color="#000" stop-opacity="0.055"/><stop offset="0.179" stop-color="#000" stop-opacity="0.055"/><stop offset="0.333" stop-color="#000" stop-opacity="0.055"/><stop offset="0.744" stop-color="#000" stop-opacity="0.050"/><stop offset="1.000" stop-color="#000" stop-opacity="0.045"/></linearGradient>
<path id="pcs4_1" d="M85,526.4 85.6,526.3 86.1,526.2 86.7,526.1 87.3,526 87.9,525.9 88.4,525.8 89,525.7 89.6,525.6 90.2,525.5 90.7,525.4 91.3,525.3 91.9,525.2 92.5,525.1 93,525 93.6,525 94.2,524.9 94.8,524.9 95.3,525 95.9,525.3 96.5,525.7 97.1,526.2 97.6,526.8 98.2,527.5 98.8,528.2 99.4,528.9 99.9,529.8 100.5,531 101.1,532.5 101.6,534.3 102.2,536.1 102.8,538.1 103.4,540 103.9,541.8 104.5,543.4 105.1,545 105.7,546.7 106.2,548.4 106.8,550 107.4,551.6 108,553.1 108.5,554.4 109.1,555.6 109.7,556.6 110.3,557.6 110.8,558.6 111.4,559.4 112,560.2 112.6,560.7 113.1,561.1 113.7,561.5 114.3,561.7 114.9,562 115.4,562.1 116,562.2 L116,570.2 115.4,570.1 114.9,570 114.3,569.7 113.7,569.5 113.1,569.1 112.6,568.7 112,568.2 111.4,567.4 110.8,566.6 110.3,565.6 109.7,564.6 109.1,563.6 108.5,562.4 108,561.1 107.4,559.6 106.8,558 106.2,556.4 105.7,554.7 105.1,553 104.5,551.4 103.9,549.8 103.4,548 102.8,546.1 102.2,544.1 101.6,542.3 101.1,540.5 100.5,539 99.9,537.8 99.4,536.9 98.8,536.2 98.2,535.5 97.6,534.8 97.1,534.2 96.5,533.7 95.9,533.3 95.3,533 94.8,532.9 94.2,532.9 93.6,533 93,533 92.5,533.1 91.9,533.2 91.3,533.3 90.7,533.4 90.2,533.5 89.6,533.6 89,533.7 88.4,533.8 87.9,533.9 87.3,534 86.7,534.1 86.1,534.2 85.6,534.3 85,534.4Z"/>
<linearGradient id="gcss4_1" gradientUnits="userSpaceOnUse" x1="85.0" y1="0" x2="116.0" y2="0"><stop offset="0.000" stop-color="#000" stop-opacity="0.128"/><stop offset="0.156" stop-color="#000" stop-opacity="0.140"/><stop offset="0.312" stop-color="#000" stop-opacity="0.150"/><stop offset="0.469" stop-color="#000" stop-opacity="0.120"/><stop offset="0.625" stop-color="#000" stop-opacity="0.050"/><stop offset="0.781" stop-color="#000" stop-opacity="0.020"/><stop offset="0.906" stop-color="#000" stop-opacity="0.010"/><stop offset="1.000" stop-color="#000" stop-opacity="0.007"/></linearGradient>
<linearGradient id="gcws4_1" gradientUnits="userSpaceOnUse" x1="85.0" y1="0" x2="116.0" y2="0"><stop offset="0.000" stop-color="#000" stop-opacity="0.297"/><stop offset="0.156" stop-color="#000" stop-opacity="0.260"/><stop offset="0.312" stop-color="#000" stop-opacity="0.150"/><stop offset="0.469" stop-color="#000" stop-opacity="0.030"/><stop offset="0.625" stop-color="#000" stop-opacity="0.000"/><stop offset="0.781" stop-color="#000" stop-opacity="0.000"/><stop offset="0.906" stop-color="#000" stop-opacity="0.000"/><stop offset="1.000" stop-color="#000" stop-opacity="0.000"/></linearGradient>
<path id="pcs4_2" d="M85,483.4 85.6,483.1 86.1,482.8 86.7,482.5 87.3,482.3 87.9,482 88.4,481.7 89,481.4 89.6,481.2 90.2,480.9 90.7,480.6 91.3,480.4 91.9,480.1 92.5,479.9 93,479.6 93.6,479.3 94.2,479 94.8,478.7 95.3,478.5 95.9,478.2 96.5,478 97.1,477.8 97.6,477.6 98.2,477.5 98.8,477.4 99.4,477.3 99.9,477.2 100.5,477.2 101.1,477.1 101.6,477.1 102.2,477 102.8,477 103.4,477 103.9,477.1 104.5,477.3 105.1,477.6 105.7,478 106.2,478.4 106.8,478.8 107.4,479.2 108,479.5 108.5,479.9 109.1,480.2 109.7,480.5 110.3,480.8 110.8,481.1 111.4,481.4 112,481.6 112.6,481.8 113.1,482 113.7,482.2 114.3,482.3 114.9,482.5 115.4,482.6 116,482.7 L116,490.7 115.4,490.6 114.9,490.5 114.3,490.3 113.7,490.2 113.1,490 112.6,489.8 112,489.6 111.4,489.4 110.8,489.1 110.3,488.8 109.7,488.5 109.1,488.2 108.5,487.9 108,487.5 107.4,487.2 106.8,486.8 106.2,486.4 105.7,486 105.1,485.6 104.5,485.3 103.9,485.1 103.4,485 102.8,485 102.2,485 101.6,485.1 101.1,485.1 100.5,485.2 99.9,485.2 99.4,485.3 98.8,485.4 98.2,485.5 97.6,485.6 97.1,485.8 96.5,486 95.9,486.2 95.3,486.5 94.8,486.7 94.2,487 93.6,487.3 93,487.6 92.5,487.9 91.9,488.1 91.3,488.4 90.7,488.6 90.2,488.9 89.6,489.2 89,489.4 88.4,489.7 87.9,490 87.3,490.3 86.7,490.5 86.1,490.8 85.6,491.1 85,491.4Z"/>
<linearGradient id="gcss4_2" gradientUnits="userSpaceOnUse" x1="85.0" y1="0" x2="116.0" y2="0"><stop offset="0.000" stop-color="#000" stop-opacity="0.080"/><stop offset="0.219" stop-color="#000" stop-opacity="0.057"/><stop offset="0.438" stop-color="#000" stop-opacity="0.038"/><stop offset="0.594" stop-color="#000" stop-opacity="0.034"/><stop offset="0.719" stop-color="#000" stop-opacity="0.034"/><stop offset="0.844" stop-color="#000" stop-opacity="0.036"/><stop offset="1.000" stop-color="#000" stop-opacity="0.038"/></linearGradient>
<linearGradient id="gcws4_2" gradientUnits="userSpaceOnUse" x1="85.0" y1="0" x2="116.0" y2="0"><stop offset="0.000" stop-color="#000" stop-opacity="0.720"/><stop offset="0.219" stop-color="#000" stop-opacity="0.893"/><stop offset="0.438" stop-color="#000" stop-opacity="0.912"/><stop offset="0.594" stop-color="#000" stop-opacity="0.816"/><stop offset="0.719" stop-color="#000" stop-opacity="0.816"/><stop offset="0.844" stop-color="#000" stop-opacity="0.864"/><stop offset="1.000" stop-color="#000" stop-opacity="0.912"/></linearGradient>
<path id="pcs4_3" d="M85,418.4 85.6,419.2 86.1,420.3 86.7,421.6 87.3,423.2 87.9,425.2 88.4,427.5 89,429.6 89.6,431.3 90.2,433 90.7,434.8 91.3,436.8 91.9,439.1 92.5,442.3 93,446 93.6,450.2 94.2,454.4 94.8,458.3 95.3,462.4 95.9,466.7 96.5,470.9 97.1,474.5 97.6,477.1 98.2,479.1 98.8,480.9 99.4,482.4 99.9,483.6 100.5,484.4 101.1,485.1 101.6,485.7 102.2,486.1 102.8,486.5 103.4,486.6 103.9,486.5 104.5,486.4 105.1,486.1 105.7,485.8 106.2,485.5 106.8,485.1 107.4,484.8 108,484.4 108.5,484.2 109.1,483.9 109.7,483.8 110.3,483.7 110.8,483.5 111.4,483.4 112,483.3 112.6,483.1 113.1,483 113.7,482.9 114.3,482.9 114.9,482.8 115.4,482.8 116,482.7 L116,490.7 115.4,490.8 114.9,490.8 114.3,490.9 113.7,490.9 113.1,491 112.6,491.1 112,491.3 111.4,491.4 110.8,491.5 110.3,491.7 109.7,491.8 109.1,491.9 108.5,492.2 108,492.4 107.4,492.8 106.8,493.1 106.2,493.5 105.7,493.8 105.1,494.1 104.5,494.4 103.9,494.5 103.4,494.6 102.8,494.5 102.2,494.1 101.6,493.7 101.1,493.1 100.5,492.4 99.9,491.6 99.4,490.4 98.8,488.9 98.2,487.1 97.6,485.1 97.1,482.5 96.5,478.9 95.9,474.7 95.3,470.4 94.8,466.3 94.2,462.4 93.6,458.2 93,454 92.5,450.3 91.9,447.1 91.3,444.8 90.7,442.8 90.2,441 89.6,439.3 89,437.6 88.4,435.5 87.9,433.2 87.3,431.2 86.7,429.6 86.1,428.3 85.6,427.2 85,426.4Z"/>
<linearGradient id="gcss4_3" gradientUnits="userSpaceOnUse" x1="85.0" y1="0" x2="116.0" y2="0"><stop offset="0.000" stop-color="#000" stop-opacity="0.225"/><stop offset="0.062" stop-color="#000" stop-opacity="0.250"/><stop offset="0.125" stop-color="#000" stop-opacity="0.300"/><stop offset="0.219" stop-color="#000" stop-opacity="0.350"/><stop offset="0.312" stop-color="#000" stop-opacity="0.220"/><stop offset="0.406" stop-color="#000" stop-opacity="0.158"/><stop offset="0.500" stop-color="#000" stop-opacity="0.125"/><stop offset="0.594" stop-color="#000" stop-opacity="0.083"/><stop offset="0.781" stop-color="#000" stop-opacity="0.045"/><stop offset="1.000" stop-color="#000" stop-opacity="0.032"/></linearGradient>
<linearGradient id="gcws4_3" gradientUnits="userSpaceOnUse" x1="85.0" y1="0" x2="116.0" y2="0"><stop offset="0.000" stop-color="#000" stop-opacity="0.000"/><stop offset="0.062" stop-color="#000" stop-opacity="0.000"/><stop offset="0.125" stop-color="#000" stop-opacity="0.000"/><stop offset="0.219" stop-color="#000" stop-opacity="0.000"/><stop offset="0.312" stop-color="#000" stop-opacity="0.180"/><stop offset="0.406" stop-color="#000" stop-opacity="0.293"/><stop offset="0.500" stop-color="#000" stop-opacity="0.375"/><stop offset="0.594" stop-color="#000" stop-opacity="0.468"/><stop offset="0.781" stop-color="#000" stop-opacity="0.705"/><stop offset="1.000" stop-color="#000" stop-opacity="0.768"/></linearGradient>
<path id="pcs4_4" d="M85,429.5 85.6,429.7 86.1,430 86.7,430.4 87.3,430.8 87.9,431.3 88.4,431.9 89,432.4 89.6,433.1 90.2,433.7 90.7,434.5 91.3,435.4 91.9,436.5 92.5,437.6 93,438.7 93.6,439.8 94.2,440.9 94.8,442 95.3,443 95.9,444.1 96.5,445.2 97.1,446.4 97.6,447.4 98.2,448.4 98.8,449.4 99.4,450.1 99.9,450.8 100.5,451.5 101.1,452.2 101.6,452.9 102.2,453.5 102.8,454 103.4,454.3 103.9,454.6 104.5,454.6 105.1,454.6 105.7,454.6 106.2,454.5 106.8,454.5 107.4,454.4 108,454.4 108.5,454.3 109.1,454.3 109.7,454.3 110.3,454.2 110.8,454.2 111.4,454.2 112,454.2 112.6,454.2 113.1,454.2 113.7,454.2 114.3,454.2 114.9,454.2 115.4,454.2 116,454.2 L116,462.2 115.4,462.2 114.9,462.2 114.3,462.2 113.7,462.2 113.1,462.2 112.6,462.2 112,462.2 111.4,462.2 110.8,462.2 110.3,462.2 109.7,462.3 109.1,462.3 108.5,462.3 108,462.4 107.4,462.4 106.8,462.5 106.2,462.5 105.7,462.6 105.1,462.6 104.5,462.6 103.9,462.6 103.4,462.3 102.8,462 102.2,461.5 101.6,460.9 101.1,460.2 100.5,459.5 99.9,458.8 99.4,458.1 98.8,457.4 98.2,456.4 97.6,455.4 97.1,454.4 96.5,453.2 95.9,452.1 95.3,451 94.8,450 94.2,448.9 93.6,447.8 93,446.7 92.5,445.6 91.9,444.5 91.3,443.4 90.7,442.5 90.2,441.7 89.6,441.1 89,440.4 88.4,439.9 87.9,439.3 87.3,438.8 86.7,438.4 86.1,438 85.6,437.7 85,437.5Z"/>
<linearGradient id="gcss4_4" gradientUnits="userSpaceOnUse" x1="85.0" y1="0" x2="116.0" y2="0"><stop offset="0.000" stop-color="#000" stop-opacity="0.050"/><stop offset="0.156" stop-color="#000" stop-opacity="0.032"/><stop offset="0.312" stop-color="#000" stop-opacity="0.021"/><stop offset="0.469" stop-color="#000" stop-opacity="0.017"/><stop offset="0.625" stop-color="#000" stop-opacity="0.017"/><stop offset="0.844" stop-color="#000" stop-opacity="0.018"/><stop offset="1.000" stop-color="#000" stop-opacity="0.018"/></linearGradient>
<linearGradient id="gcws4_4" gradientUnits="userSpaceOnUse" x1="85.0" y1="0" x2="116.0" y2="0"><stop offset="0.000" stop-color="#000" stop-opacity="0.450"/><stop offset="0.156" stop-color="#000" stop-opacity="0.493"/><stop offset="0.312" stop-color="#000" stop-opacity="0.504"/><stop offset="0.469" stop-color="#000" stop-opacity="0.533"/><stop offset="0.625" stop-color="#000" stop-opacity="0.558"/><stop offset="0.844" stop-color="#000" stop-opacity="0.582"/><stop offset="1.000" stop-color="#000" stop-opacity="0.582"/></linearGradient>
<path id="pcs5_1" d="M116,562.2 116.6,562.1 117.2,561.9 117.8,561.5 118.3,561 118.9,560.4 119.5,559.8 120.1,559 120.7,558.3 121.3,557.4 121.8,556.2 122.4,554.7 123,552.9 123.6,551 124.2,548.9 124.8,546.8 125.4,544.7 125.9,542.7 126.5,540.6 127.1,538.3 127.7,536 128.3,533.5 128.9,531.1 129.5,528.8 130,526.5 130.6,524.4 131.2,522.4 131.8,520.4 132.4,518.4 133,516.5 133.5,514.6 134.1,512.9 134.7,511.3 135.3,509.8 135.9,508.5 136.5,507.3 137.1,506.1 137.6,505 138.2,504.1 138.8,503.3 139.4,502.7 140,502.4 140.6,502.1 141.1,501.8 141.7,501.6 142.3,501.5 142.9,501.5 143.5,501.9 144.1,502.4 144.7,503.1 145.2,504 145.8,504.8 146.4,505.6 147,506.4 147.6,507.2 148.2,508.1 148.8,509 149.3,510 149.9,510.9 150.5,511.8 151.1,512.7 151.7,513.5 152.3,514.3 152.8,515 153.4,515.7 154,516.4 154.6,517 L154.6,525 154,524.4 153.4,523.7 152.8,523 152.3,522.3 151.7,521.5 151.1,520.7 150.5,519.8 149.9,518.9 149.3,518 148.8,517 148.2,516.1 147.6,515.2 147,514.4 146.4,513.6 145.8,512.8 145.2,512 144.7,511.1 144.1,510.4 143.5,509.9 142.9,509.5 142.3,509.5 141.7,509.6 141.1,509.8 140.6,510.1 140,510.4 139.4,510.7 138.8,511.3 138.2,512.1 137.6,513 137.1,514.1 136.5,515.3 135.9,516.5 135.3,517.8 134.7,519.3 134.1,520.9 133.5,522.6 133,524.5 132.4,526.4 131.8,528.4 131.2,530.4 130.6,532.4 130,534.5 129.5,536.8 128.9,539.1 128.3,541.5 127.7,544 127.1,546.3 126.5,548.6 125.9,550.7 125.4,552.7 124.8,554.8 124.2,556.9 123.6,559 123,560.9 122.4,562.7 121.8,564.2 121.3,565.4 120.7,566.3 120.1,567 119.5,567.8 118.9,568.4 118.3,569 117.8,569.5 117.2,569.9 116.6,570.1 116,570.2Z"/>
<linearGradient id="gcss5_1" gradientUnits="userSpaceOnUse" x1="116.0" y1="0" x2="154.6" y2="0"><stop offset="0.000" stop-color="#000" stop-opacity="0.007"/><stop offset="0.128" stop-color="#000" stop-opacity="0.010"/><stop offset="0.255" stop-color="#000" stop-opacity="0.025"/><stop offset="0.383" stop-color="#000" stop-opacity="0.075"/><stop offset="0.510" stop-color="#000" stop-opacity="0.180"/><stop offset="0.612" stop-color="#000" stop-opacity="0.128"/><stop offset="0.689" stop-color="#000" stop-opacity="0.081"/><stop offset="0.791" stop-color="#000" stop-opacity="0.053"/><stop offset="0.918" stop-color="#000" stop-opacity="0.036"/><stop offset="1.000" stop-color="#000" stop-opacity="0.033"/></linearGradient>
<linearGradient id="gcws5_1" gradientUnits="userSpaceOnUse" x1="116.0" y1="0" x2="154.6" y2="0"><stop offset="0.000" stop-color="#000" stop-opacity="0.000"/><stop offset="0.128" stop-color="#000" stop-opacity="0.000"/><stop offset="0.255" stop-color="#000" stop-opacity="0.000"/><stop offset="0.383" stop-color="#000" stop-opacity="0.000"/><stop offset="0.510" stop-color="#000" stop-opacity="0.045"/><stop offset="0.612" stop-color="#000" stop-opacity="0.272"/><stop offset="0.689" stop-color="#000" stop-opacity="0.369"/><stop offset="0.791" stop-color="#000" stop-opacity="0.323"/><stop offset="0.918" stop-color="#000" stop-opacity="0.264"/><stop offset="1.000" stop-color="#000" stop-opacity="0.242"/></linearGradient>
<path id="pcs5_2" d="M116,482.7 116.6,483 117.2,483.3 117.8,483.6 118.3,483.9 118.9,484.2 119.5,484.6 120.1,485 120.7,485.3 121.3,485.8 121.8,486.2 122.4,486.7 123,487.3 123.6,487.8 124.2,488.4 124.8,489 125.4,489.5 125.9,490.1 126.5,490.6 127.1,491.1 127.7,491.6 128.3,492.1 128.9,492.6 129.5,493.1 130,493.6 130.6,494 131.2,494.4 131.8,494.8 132.4,495 133,495.1 133.5,495.3 134.1,495.4 134.7,495.5 135.3,495.6 135.9,495.6 136.5,495.7 137.1,495.7 137.6,495.7 138.2,495.7 138.8,495.4 139.4,495.1 140,494.6 140.6,494.1 141.1,493.5 141.7,492.8 142.3,492.2 142.9,491.5 143.5,490.8 144.1,489.9 144.7,488.9 145.2,487.8 145.8,486.7 146.4,485.5 147,484.4 147.6,483.2 148.2,482.1 148.8,480.9 149.3,479.6 149.9,478.3 150.5,477 151.1,475.7 151.7,474.3 152.3,473 152.8,471.6 153.4,470.2 154,468.8 154.6,467.4 L154.6,475.4 154,476.8 153.4,478.2 152.8,479.6 152.3,481 151.7,482.3 151.1,483.7 150.5,485 149.9,486.3 149.3,487.6 148.8,488.9 148.2,490.1 147.6,491.2 147,492.4 146.4,493.5 145.8,494.7 145.2,495.8 144.7,496.9 144.1,497.9 143.5,498.8 142.9,499.5 142.3,500.2 141.7,500.8 141.1,501.5 140.6,502.1 140,502.6 139.4,503.1 138.8,503.4 138.2,503.7 137.6,503.7 137.1,503.7 136.5,503.7 135.9,503.6 135.3,503.6 134.7,503.5 134.1,503.4 133.5,503.3 133,503.1 132.4,503 131.8,502.8 131.2,502.4 130.6,502 130,501.6 129.5,501.1 128.9,500.6 128.3,500.1 127.7,499.6 127.1,499.1 126.5,498.6 125.9,498.1 125.4,497.5 124.8,497 124.2,496.4 123.6,495.8 123,495.3 122.4,494.7 121.8,494.2 121.3,493.8 120.7,493.3 120.1,493 119.5,492.6 118.9,492.2 118.3,491.9 117.8,491.6 117.2,491.3 116.6,491 116,490.7Z"/>
<linearGradient id="gcss5_2" gradientUnits="userSpaceOnUse" x1="116.0" y1="0" x2="154.6" y2="0"><stop offset="0.000" stop-color="#000" stop-opacity="0.032"/><stop offset="0.128" stop-color="#000" stop-opacity="0.038"/><stop offset="0.281" stop-color="#000" stop-opacity="0.039"/><stop offset="0.434" stop-color="#000" stop-opacity="0.075"/><stop offset="0.561" stop-color="#000" stop-opacity="0.225"/><stop offset="0.689" stop-color="#000" stop-opacity="0.248"/><stop offset="0.816" stop-color="#000" stop-opacity="0.168"/><stop offset="0.918" stop-color="#000" stop-opacity="0.120"/><stop offset="1.000" stop-color="#000" stop-opacity="0.102"/></linearGradient>
<linearGradient id="gcws5_2" gradientUnits="userSpaceOnUse" x1="116.0" y1="0" x2="154.6" y2="0"><stop offset="0.000" stop-color="#000" stop-opacity="0.768"/><stop offset="0.128" stop-color="#000" stop-opacity="0.712"/><stop offset="0.281" stop-color="#000" stop-opacity="0.511"/><stop offset="0.434" stop-color="#000" stop-opacity="0.425"/><stop offset="0.561" stop-color="#000" stop-opacity="0.225"/><stop offset="0.689" stop-color="#000" stop-opacity="0.152"/><stop offset="0.816" stop-color="#000" stop-opacity="0.182"/><stop offset="0.918" stop-color="#000" stop-opacity="0.180"/><stop offset="1.000" stop-color="#000" stop-opacity="0.198"/></linearGradient>
<path id="pcs5_3" d="M116,482.7 116.6,482.3 117.2,481.8 117.8,481.4 118.3,480.9 118.9,480.5 119.5,480.1 120.1,479.7 120.7,479.3 121.3,479 121.8,478.6 122.4,478.3 123,478 123.6,477.7 124.2,477.3 124.8,477 125.4,476.7 125.9,476.4 126.5,476.2 127.1,476 127.7,475.9 128.3,476 128.9,476.1 129.5,476.3 130,476.6 130.6,476.9 131.2,477.2 131.8,477.7 132.4,478.2 133,478.8 133.5,479.5 134.1,480.2 134.7,480.9 135.3,481.7 135.9,482.4 136.5,483.1 137.1,483.8 137.6,484.5 138.2,485.2 138.8,485.9 139.4,486.7 140,487.4 140.6,488.2 141.1,488.9 141.7,489.7 142.3,490.5 142.9,491.3 143.5,492.1 144.1,492.9 144.7,493.8 145.2,494.7 145.8,495.5 146.4,496.4 147,497.3 147.6,498.1 148.2,498.9 148.8,499.7 149.3,500.5 149.9,501.2 150.5,502 151.1,502.7 151.7,503.4 152.3,504.1 152.8,504.8 153.4,505.5 154,506.2 154.6,506.8 L154.6,514.8 154,514.2 153.4,513.5 152.8,512.8 152.3,512.1 151.7,511.4 151.1,510.7 150.5,510 149.9,509.2 149.3,508.5 148.8,507.7 148.2,506.9 147.6,506.1 147,505.3 146.4,504.4 145.8,503.5 145.2,502.7 144.7,501.8 144.1,500.9 143.5,500.1 142.9,499.3 142.3,498.5 141.7,497.7 141.1,496.9 140.6,496.2 140,495.4 139.4,494.7 138.8,493.9 138.2,493.2 137.6,492.5 137.1,491.8 136.5,491.1 135.9,490.4 135.3,489.7 134.7,488.9 134.1,488.2 133.5,487.5 133,486.8 132.4,486.2 131.8,485.7 131.2,485.2 130.6,484.9 130,484.6 129.5,484.3 128.9,484.1 128.3,484 127.7,483.9 127.1,484 126.5,484.2 125.9,484.4 125.4,484.7 124.8,485 124.2,485.3 123.6,485.7 123,486 122.4,486.3 121.8,486.6 121.3,487 120.7,487.3 120.1,487.7 119.5,488.1 118.9,488.5 118.3,488.9 117.8,489.4 117.2,489.8 116.6,490.3 116,490.7Z"/>
<linearGradient id="gcss5_3" gradientUnits="userSpaceOnUse" x1="116.0" y1="0" x2="154.6" y2="0"><stop offset="0.000" stop-color="#000" stop-opacity="0.026"/><stop offset="0.179" stop-color="#000" stop-opacity="0.048"/><stop offset="0.306" stop-color="#000" stop-opacity="0.055"/><stop offset="0.383" stop-color="#000" stop-opacity="0.050"/><stop offset="0.536" stop-color="#000" stop-opacity="0.045"/><stop offset="0.689" stop-color="#000" stop-opacity="0.038"/><stop offset="0.842" stop-color="#000" stop-opacity="0.028"/><stop offset="1.000" stop-color="#000" stop-opacity="0.025"/></linearGradient>
<linearGradient id="gcws5_3" gradientUnits="userSpaceOnUse" x1="116.0" y1="0" x2="154.6" y2="0"><stop offset="0.000" stop-color="#000" stop-opacity="0.624"/><stop offset="0.179" stop-color="#000" stop-opacity="0.552"/><stop offset="0.306" stop-color="#000" stop-opacity="0.495"/><stop offset="0.383" stop-color="#000" stop-opacity="0.450"/><stop offset="0.536" stop-color="#000" stop-opacity="0.405"/><stop offset="0.689" stop-color="#000" stop-opacity="0.338"/><stop offset="0.842" stop-color="#000" stop-opacity="0.248"/><stop offset="1.000" stop-color="#000" stop-opacity="0.225"/></linearGradient>
<path id="pcs5_4" d="M116,482.7 116.6,482.6 117.2,482.4 117.8,482.2 118.3,481.9 118.9,481.6 119.5,481.3 120.1,481 120.7,480.6 121.3,480.2 121.8,479.9 122.4,479.4 123,479 123.6,478.6 124.2,478 124.8,477.5 125.4,476.9 125.9,476.2 126.5,475.5 127.1,474.8 127.7,474.1 128.3,473.4 128.9,472.7 129.5,471.9 130,471.1 130.6,470.3 131.2,469.5 131.8,468.7 132.4,467.8 133,466.9 133.5,466 134.1,465.1 134.7,464.2 135.3,463.2 135.9,462.2 136.5,461.2 137.1,460.2 137.6,459.1 138.2,458 138.8,456.9 139.4,455.8 140,454.7 140.6,453.7 141.1,452.6 141.7,451.5 142.3,450.4 142.9,449.4 143.5,448.3 144.1,447.2 144.7,446.1 145.2,445.1 145.8,444.1 146.4,443.1 147,442.1 147.6,441.2 148.2,440.2 148.8,439.3 149.3,438.4 149.9,437.5 150.5,436.7 151.1,435.9 151.7,435.2 152.3,434.5 152.8,433.9 153.4,433.3 154,432.8 154.6,432.3 L154.6,440.3 154,440.8 153.4,441.3 152.8,441.9 152.3,442.5 151.7,443.2 151.1,443.9 150.5,444.7 149.9,445.5 149.3,446.4 148.8,447.3 148.2,448.2 147.6,449.2 147,450.1 146.4,451.1 145.8,452.1 145.2,453.1 144.7,454.1 144.1,455.2 143.5,456.3 142.9,457.4 142.3,458.4 141.7,459.5 141.1,460.6 140.6,461.7 140,462.7 139.4,463.8 138.8,464.9 138.2,466 137.6,467.1 137.1,468.2 136.5,469.2 135.9,470.2 135.3,471.2 134.7,472.2 134.1,473.1 133.5,474 133,474.9 132.4,475.8 131.8,476.7 131.2,477.5 130.6,478.3 130,479.1 129.5,479.9 128.9,480.7 128.3,481.4 127.7,482.1 127.1,482.8 126.5,483.5 125.9,484.2 125.4,484.9 124.8,485.5 124.2,486 123.6,486.6 123,487 122.4,487.4 121.8,487.9 121.3,488.2 120.7,488.6 120.1,489 119.5,489.3 118.9,489.6 118.3,489.9 117.8,490.2 117.2,490.4 116.6,490.6 116,490.7Z"/>
<linearGradient id="gcss5_4" gradientUnits="userSpaceOnUse" x1="116.0" y1="0" x2="154.6" y2="0"><stop offset="0.000" stop-color="#000" stop-opacity="0.020"/><stop offset="0.179" stop-color="#000" stop-opacity="0.040"/><stop offset="0.332" stop-color="#000" stop-opacity="0.050"/><stop offset="0.485" stop-color="#000" stop-opacity="0.045"/><stop offset="0.638" stop-color="#000" stop-opacity="0.040"/><stop offset="0.791" stop-color="#000" stop-opacity="0.038"/><stop offset="0.918" stop-color="#000" stop-opacity="0.030"/><stop offset="1.000" stop-color="#000" stop-opacity="0.025"/></linearGradient>
<linearGradient id="gcws5_4" gradientUnits="userSpaceOnUse" x1="116.0" y1="0" x2="154.6" y2="0"><stop offset="0.000" stop-color="#000" stop-opacity="0.480"/><stop offset="0.179" stop-color="#000" stop-opacity="0.460"/><stop offset="0.332" stop-color="#000" stop-opacity="0.450"/><stop offset="0.485" stop-color="#000" stop-opacity="0.405"/><stop offset="0.638" stop-color="#000" stop-opacity="0.360"/><stop offset="0.791" stop-color="#000" stop-opacity="0.311"/><stop offset="0.918" stop-color="#000" stop-opacity="0.245"/><stop offset="1.000" stop-color="#000" stop-opacity="0.225"/></linearGradient>
<path id="pcs5_5" d="M116,454.2 116.6,454.2 117.2,454.3 117.8,454.4 118.3,454.6 118.9,454.8 119.5,455.1 120.1,455.3 120.7,455.6 121.3,455.9 121.8,456.3 122.4,456.9 123,457.5 123.6,458.2 124.2,459 124.8,459.8 125.4,460.5 125.9,461.2 126.5,461.8 127.1,462.3 127.7,462.9 128.3,463.4 128.9,464 129.5,464.6 130,465.1 130.6,465.5 131.2,465.9 131.8,466.2 132.4,466.3 133,466.3 133.5,466.3 134.1,466.3 134.7,466.3 135.3,466.3 135.9,466.3 136.5,466.3 137.1,466.3 137.6,466.3 138.2,466.3 138.8,466.3 139.4,466.2 140,466 140.6,465.7 141.1,465.3 141.7,464.8 142.3,464.3 142.9,463.7 143.5,463.1 144.1,462.6 144.7,462 145.2,461.3 145.8,460.6 146.4,459.8 147,458.9 147.6,458 148.2,457.1 148.8,456.1 149.3,455.2 149.9,454.3 150.5,453.5 151.1,452.7 151.7,451.9 152.3,451.2 152.8,450.4 153.4,449.7 154,449 154.6,448.2 L154.6,456.2 154,457 153.4,457.7 152.8,458.4 152.3,459.2 151.7,459.9 151.1,460.7 150.5,461.5 149.9,462.3 149.3,463.2 148.8,464.1 148.2,465.1 147.6,466 147,466.9 146.4,467.8 145.8,468.6 145.2,469.3 144.7,470 144.1,470.6 143.5,471.1 142.9,471.7 142.3,472.3 141.7,472.8 141.1,473.3 140.6,473.7 140,474 139.4,474.2 138.8,474.3 138.2,474.3 137.6,474.3 137.1,474.3 136.5,474.3 135.9,474.3 135.3,474.3 134.7,474.3 134.1,474.3 133.5,474.3 133,474.3 132.4,474.3 131.8,474.2 131.2,473.9 130.6,473.5 130,473.1 129.5,472.6 128.9,472 128.3,471.4 127.7,470.9 127.1,470.3 126.5,469.8 125.9,469.2 125.4,468.5 124.8,467.8 124.2,467 123.6,466.2 123,465.5 122.4,464.9 121.8,464.3 121.3,463.9 120.7,463.6 120.1,463.3 119.5,463.1 118.9,462.8 118.3,462.6 117.8,462.4 117.2,462.3 116.6,462.2 116,462.2Z"/>
<linearGradient id="gcss5_5" gradientUnits="userSpaceOnUse" x1="116.0" y1="0" x2="154.6" y2="0"><stop offset="0.000" stop-color="#000" stop-opacity="0.026"/><stop offset="0.128" stop-color="#000" stop-opacity="0.030"/><stop offset="0.281" stop-color="#000" stop-opacity="0.035"/><stop offset="0.434" stop-color="#000" stop-opacity="0.036"/><stop offset="0.587" stop-color="#000" stop-opacity="0.030"/><stop offset="0.740" stop-color="#000" stop-opacity="0.027"/><stop offset="0.893" stop-color="#000" stop-opacity="0.028"/><stop offset="1.000" stop-color="#000" stop-opacity="0.025"/></linearGradient>
<linearGradient id="gcws5_5" gradientUnits="userSpaceOnUse" x1="116.0" y1="0" x2="154.6" y2="0"><stop offset="0.000" stop-color="#000" stop-opacity="0.624"/><stop offset="0.128" stop-color="#000" stop-opacity="0.570"/><stop offset="0.281" stop-color="#000" stop-opacity="0.465"/><stop offset="0.434" stop-color="#000" stop-opacity="0.414"/><stop offset="0.587" stop-color="#000" stop-opacity="0.345"/><stop offset="0.740" stop-color="#000" stop-opacity="0.273"/><stop offset="0.893" stop-color="#000" stop-opacity="0.248"/><stop offset="1.000" stop-color="#000" stop-opacity="0.225"/></linearGradient>
<path id="pcs5_6" d="M116,454.2 116.6,454.2 117.2,454.2 117.8,454.1 118.3,454 118.9,454 119.5,453.9 120.1,453.7 120.7,453.6 121.3,453.5 121.8,453.2 122.4,452.8 123,452.3 123.6,451.8 124.2,451.1 124.8,450.5 125.4,449.7 125.9,448.7 126.5,447.5 127.1,446.1 127.7,444.6 128.3,443.2 128.9,441.7 129.5,440.2 130,438.7 130.6,437 131.2,435.3 131.8,433.5 132.4,431.5 133,429.3 133.5,426.6 134.1,423.6 134.7,420.4 135.3,417.3 135.9,414.3 136.5,411.5 137.1,408.7 137.6,405.8 138.2,402.8 138.8,399.3 139.4,395.4 140,391.1 140.6,386.6 141.1,381.8 141.7,376.9 142.3,372 142.9,367.2 143.5,362.6 144.1,358.2 144.7,353.9 145.2,349.6 145.8,345.3 146.4,341.1 147,336.8 147.6,332.5 148.2,328.2 148.8,323.8 149.3,319.3 149.9,314.8 150.5,310.2 151.1,305.7 151.7,301.4 152.3,297.1 152.8,293.2 153.4,289.5 154,285.4 154.6,281 L154.6,289 154,293.4 153.4,297.5 152.8,301.2 152.3,305.1 151.7,309.4 151.1,313.7 150.5,318.2 149.9,322.8 149.3,327.3 148.8,331.8 148.2,336.2 147.6,340.5 147,344.8 146.4,349.1 145.8,353.3 145.2,357.6 144.7,361.9 144.1,366.2 143.5,370.6 142.9,375.2 142.3,380 141.7,384.9 141.1,389.8 140.6,394.6 140,399.1 139.4,403.4 138.8,407.3 138.2,410.8 137.6,413.8 137.1,416.7 136.5,419.5 135.9,422.3 135.3,425.3 134.7,428.4 134.1,431.6 133.5,434.6 133,437.3 132.4,439.5 131.8,441.5 131.2,443.3 130.6,445 130,446.7 129.5,448.2 128.9,449.7 128.3,451.2 127.7,452.6 127.1,454.1 126.5,455.5 125.9,456.7 125.4,457.7 124.8,458.5 124.2,459.1 123.6,459.8 123,460.3 122.4,460.8 121.8,461.2 121.3,461.5 120.7,461.6 120.1,461.7 119.5,461.9 118.9,462 118.3,462 117.8,462.1 117.2,462.2 116.6,462.2 116,462.2Z"/>
<linearGradient id="gcss5_6" gradientUnits="userSpaceOnUse" x1="116.0" y1="0" x2="154.6" y2="0"><stop offset="0.000" stop-color="#000" stop-opacity="0.020"/><stop offset="0.128" stop-color="#000" stop-opacity="0.035"/><stop offset="0.230" stop-color="#000" stop-opacity="0.060"/><stop offset="0.332" stop-color="#000" stop-opacity="0.099"/><stop offset="0.434" stop-color="#000" stop-opacity="0.133"/><stop offset="0.510" stop-color="#000" stop-opacity="0.125"/><stop offset="0.587" stop-color="#000" stop-opacity="0.114"/><stop offset="0.714" stop-color="#000" stop-opacity="0.099"/><stop offset="0.842" stop-color="#000" stop-opacity="0.075"/><stop offset="0.944" stop-color="#000" stop-opacity="0.075"/><stop offset="0.969" stop-color="#000" stop-opacity="0.075"/><stop offset="1.000" stop-color="#000" stop-opacity="0.075"/></linearGradient>
<linearGradient id="gcws5_6" gradientUnits="userSpaceOnUse" x1="116.0" y1="0" x2="154.6" y2="0"><stop offset="0.000" stop-color="#000" stop-opacity="0.480"/><stop offset="0.128" stop-color="#000" stop-opacity="0.465"/><stop offset="0.230" stop-color="#000" stop-opacity="0.440"/><stop offset="0.332" stop-color="#000" stop-opacity="0.351"/><stop offset="0.434" stop-color="#000" stop-opacity="0.217"/><stop offset="0.510" stop-color="#000" stop-opacity="0.125"/><stop offset="0.587" stop-color="#000" stop-opacity="0.061"/><stop offset="0.714" stop-color="#000" stop-opacity="0.011"/><stop offset="0.842" stop-color="#000" stop-opacity="0.000"/><stop offset="0.944" stop-color="#000" stop-opacity="0.000"/><stop offset="0.969" stop-color="#000" stop-opacity="0.000"/><stop offset="1.000" stop-color="#000" stop-opacity="0.000"/></linearGradient>
<path id="pcx4_7" d="M85,295.9 85.6,294.7 86.1,293.2 86.7,291.4 87.3,289.4 87.8,287 88.4,284.2 L88.4,292.2 87.8,295 87.3,297.4 86.7,299.4 86.1,301.2 85.6,302.7 85,303.9Z"/>
<linearGradient id="gcsx4_7" gradientUnits="userSpaceOnUse" x1="85.0" y1="0" x2="88.4" y2="0"><stop offset="0.000" stop-color="#000" stop-opacity="0.045"/><stop offset="0.571" stop-color="#000" stop-opacity="0.028"/><stop offset="1.000" stop-color="#000" stop-opacity="0.006"/></linearGradient>
<linearGradient id="gcwx4_7" gradientUnits="userSpaceOnUse" x1="85.0" y1="0" x2="88.4" y2="0"><stop offset="0.000" stop-color="#000" stop-opacity="0.000"/><stop offset="0.571" stop-color="#000" stop-opacity="0.007"/><stop offset="1.000" stop-color="#000" stop-opacity="0.014"/></linearGradient>
</defs>
<g id="panel-a">
<line x1="44.6" y1="2.0" x2="44.6" y2="264.1" stroke="#303030" stroke-width="1.25" stroke-dasharray="1.4 1.45" fill="none"/>
<line x1="63" y1="2.0" x2="63" y2="264.1" stroke="#303030" stroke-width="1.25" stroke-dasharray="1.4 1.45" fill="none"/>
<line x1="88" y1="2.0" x2="88" y2="264.1" stroke="#303030" stroke-width="1.25" stroke-dasharray="1.4 1.45" fill="none"/>
<line x1="120" y1="2.0" x2="120" y2="264.1" stroke="#303030" stroke-width="1.25" stroke-dasharray="1.4 1.45" fill="none"/>
<clipPath id="clipa"><rect x="8.8" y="2.0" width="150.4" height="262.1"/></clipPath>
<g clip-path="url(#clipa)" fill="none" stroke="#1212f2" stroke-width="1.9" stroke-linejoin="round" stroke-linecap="round">
<path d="M9,257.4 9.8,256.8 10.6,256 11.4,255.2 12.2,254.3 13,253.3 13.7,252.1 14.5,250.8 15.3,249.4 16.1,247.8 16.9,246 17.7,244 18.5,242 19.3,239.9 20.1,237.8 20.9,235.5 21.7,232.9 22.4,230.3 23.2,227.7 24,225.4 24.8,223.4 25.6,221.7 26.4,220 27.2,218.7 28,218 28.8,217.7 29.6,217.6 30.4,217.4 31.2,217.4 31.9,217.6 32.7,218 33.5,218.6 34.3,219.3 35.1,220.1 35.9,220.8 36.7,221.4 37.5,221.9 38.3,222.4 39.1,222.8 39.9,223.3 40.6,223.7 41.4,224.1 42.2,224.5 43,224.9 43.8,225.3 44.6,225.6"/>
<path d="M9,183.4 9.8,183.8 10.6,184.3 11.4,184.8 12.2,185.4 13,186.1 13.7,186.8 14.5,187.5 15.3,188.3 16.1,189.1 16.9,189.9 17.7,190.8 18.5,191.8 19.3,192.9 20.1,194.2 20.9,195.4 21.7,196.7 22.4,198 23.2,199.3 24,200.6 24.8,201.7 25.6,202.9 26.4,204.1 27.2,205.2 28,206.4 28.8,207.6 29.6,208.7 30.4,209.8 31.2,210.8 31.9,211.8 32.7,212.7 33.5,213.6 34.3,214.4 35.1,215.2 35.9,216 36.7,216.7 37.5,217.4 38.3,218 39.1,218.5 39.9,218.9 40.6,219.3 41.4,219.6 42.2,219.9 43,220.2 43.8,220.4 44.6,220.5"/>
<path d="M9,183.4 9.8,182.9 10.6,182.4 11.4,181.9 12.2,181.3 13,180.7 13.7,180 14.5,179.4 15.3,178.7 16.1,178 16.9,177.2 17.7,176.4 18.5,175.6 19.3,174.8 20.1,173.9 20.9,173.1 21.7,172.3 22.4,171.5 23.2,170.5 24,169.5 24.8,168.1 25.6,166.6 26.4,164.7 27.2,162.4 28,159.6 28.8,156.8 29.6,154 30.4,151.2 31.2,148.5 31.9,146.1 32.7,144.2 33.5,142.5 34.3,141 35.1,139.9 35.9,139 36.7,138.2 37.5,137.5 38.3,136.9 39.1,136.4 39.9,136.1 40.6,135.8 41.4,135.5 42.2,135.3 43,135.2 43.8,135 44.6,135"/>
<path d="M9,156.6 9.8,157.2 10.6,157.8 11.4,158.4 12.2,159 13,159.7 13.7,160.3 14.5,160.9 15.3,161.6 16.1,162.3 16.9,162.9 17.7,163.6 18.5,164.4 19.3,165.2 20.1,166 20.9,166.7 21.7,167.3 22.4,167.7 23.2,168.2 24,168.4 24.8,168.3 25.6,166.6 26.4,164.3 27.2,161.8 28,158.9 28.8,155.8 29.6,152.9 30.4,150.1 31.2,147.2 31.9,144.2 32.7,141.1 33.5,137.9 34.3,134.4 35.1,130.3 35.9,125.5 36.7,120.4 37.5,115.2 38.3,110.3 39.1,105.4 39.9,100.8 40.6,96.5 41.4,92.5 42.2,89 43,86.3 43.8,84.1 44.6,82.5"/>
<path d="M9,156.6 9.8,156.4 10.6,156.2 11.4,156 12.2,155.7 13,155.4 13.7,155.1 14.5,154.7 15.3,154.4 16.1,154 16.9,153.6 17.7,153.2 18.5,152.8 19.3,152.3 20.1,151.8 20.9,151.2 21.7,150.6 22.4,150 23.2,149.4 24,148.8 24.8,148.1 25.6,147.5 26.4,146.9 27.2,146.2 28,145.5 28.8,144.7 29.6,144 30.4,143.3 31.2,142.6 31.9,141.9 32.7,141.2 33.5,140.6 34.3,139.9 35.1,139.2 35.9,138.5 36.7,137.8 37.5,137.2 38.3,136.7 39.1,136.4 39.9,136.1 40.6,135.8 41.4,135.5 42.2,135.3 43,135.2 43.8,135 44.6,135"/>
<path d="M9,156.6 9.8,156.3 10.6,155.9 11.4,155.5 12.2,155.1 13,154.7 13.7,154.3 14.5,153.9 15.3,153.4 16.1,152.9 16.9,152.5 17.7,152 18.5,151.4 19.3,150.9 20.1,150.3 20.9,149.7 21.7,149.1 22.4,148.5 23.2,147.8 24,147.2 24.8,146.5 25.6,145.9 26.4,145.2 27.2,144.5 28,143.8 28.8,143.1 29.6,142.4 30.4,141.6 31.2,140.9 31.9,140.1 32.7,139.3 33.5,138.4 34.3,137.6 35.1,136.6 35.9,135.7 36.7,134.7 37.5,133.8 38.3,132.8 39.1,131.9 39.9,131 40.6,130 41.4,129.2 42.2,128.7 43,128.4 43.8,128.1 44.6,128"/>
<path d="M44.6,225.6 45.4,225.2 46.2,224.7 47,224.3 47.8,223.8 48.6,223.3 49.4,222.7 50.2,222.2 51,221.7 51.8,221.1 52.6,220.4 53.4,219.6 54.2,218.6 55,217.5 55.8,216.3 56.6,215.1 57.4,213.9 58.2,212.5 59,211.2 59.8,210.2 60.6,209.6 61.4,209 62.2,208.6 63,208.5"/>
<path d="M44.6,220.5 45.4,220.1 46.2,219.6 47,219.1 47.8,218.6 48.6,218.1 49.4,217.6 50.2,217.1 51,216.4 51.8,215.5 52.6,214.3 53.4,213 54.2,211.7 55,210.2 55.8,208.5 56.6,206.8 57.4,205.2 58.2,203.4 59,201.6 59.8,199.9 60.6,198.3 61.4,196.7 62.2,195.1 63,193.6"/>
<path d="M44.6,135 45.4,137.2 46.2,139.4 47,141.7 47.8,144 48.6,146.3 49.4,148.7 50.2,151.1 51,153.6 51.8,156.2 52.6,158.7 53.4,161.3 54.2,163.9 55,166.5 55.8,169.1 56.6,171.8 57.4,174.5 58.2,177.2 59,179.9 59.8,182.6 60.6,185.3 61.4,188.1 62.2,190.8 63,193.6"/>
<path d="M44.6,135 45.4,135.7 46.2,136.5 47,137.3 47.8,138.3 48.6,139.3 49.4,140.5 50.2,141.7 51,143 51.8,144.3 52.6,145.6 53.4,147 54.2,148.3 55,149.7 55.8,151.1 56.6,152.4 57.4,153.6 58.2,154.6 59,155.6 59.8,156.4 60.6,156.9 61.4,157.4 62.2,157.8 63,158"/>
<path d="M44.6,128 45.4,128 46.2,128 47,128 47.8,128 48.6,128 49.4,128 50.2,128 51,128 51.8,128 52.6,128 53.4,128 54.2,128 55,128 55.8,128 56.6,128 57.4,128 58.2,128 59,128 59.8,128 60.6,128 61.4,128 62.2,128 63,128"/>
<path d="M44.6,82.5 45.4,81.3 46.2,79.5 47,77.3 47.8,74.7 48.6,71.7 49.4,67.6 50.2,62.8 51,57.5 51.8,52.1 52.5,46.8 53.3,41.9 54.1,37.3 54.9,32.6 55.7,27.9 56.5,23 57.3,17.9 58.1,12.6 58.9,7 59.7,1.2 60.5,-5"/>
<path d="M63,208.5 63.8,208 64.6,207.5 65.3,207 66.1,206.4 66.9,205.8 67.7,205.2 68.5,204.5 69.2,203.7 70,202.9 70.8,201.9 71.6,200.8 72.4,199.7 73.2,198.6 73.9,197.5 74.7,196.4 75.5,195.3 76.3,194.2 77.1,193.1 77.8,191.9 78.6,190.8 79.4,189.8 80.2,188.8 81,188 81.8,187.3 82.5,186.6 83.3,186 84.1,185.5 84.9,185.1 85.7,184.7 86.4,184.4 87.2,184.2 88,184"/>
<path d="M63,193.6 63.8,194.4 64.6,195.2 65.3,196.1 66.1,197 66.9,197.9 67.7,198.8 68.5,199.7 69.2,200.7 70,201.7 70.8,202.7 71.6,203.9 72.4,205.3 73.2,206.8 73.9,208.3 74.7,209.9 75.5,211.4 76.3,212.8 77.1,214.1 77.8,215.3 78.6,216.6 79.4,217.8 80.2,218.9 81,220 81.8,220.9 82.5,221.6 83.3,222.2 84.1,222.7 84.9,223.2 85.7,223.7 86.4,224 87.2,224.3 88,224.4"/>
<path d="M63,193.6 63.8,192.5 64.6,191.5 65.3,190.4 66.1,189.3 66.9,188.1 67.7,187 68.5,185.8 69.2,184.6 70,183.5 70.8,182.3 71.6,181.2 72.4,180 73.2,178.7 73.9,177.4 74.7,176 75.5,174.5 76.3,172.9 77.1,171 77.8,168.9 78.6,166.6 79.4,164.2 80.2,161.7 81,159.1 81.8,156.4 82.5,153.5 83.3,150.5 84.1,147.4 84.9,144.5 85.7,141.6 86.4,138.8 87.2,136.1 88,133.4"/>
<path d="M63,158 63.8,158 64.6,158.1 65.3,158.2 66.1,158.4 66.9,158.6 67.7,158.9 68.5,159.2 69.2,159.9 70,160.9 70.8,162.1 71.6,163.3 72.4,164.7 73.2,166.3 73.9,168.3 74.7,170.2 75.5,172 76.3,173.5 77.1,174.8 77.8,176 78.6,177.2 79.4,178.2 80.2,179.1 81,180 81.8,180.7 82.5,181.4 83.3,182 84.1,182.5 84.9,182.9 85.7,183.3 86.4,183.6 87.2,183.8 88,184"/>
<path d="M63,128 63.8,128.5 64.6,129.1 65.3,129.7 66.1,130.3 66.9,130.9 67.7,131.6 68.5,132.3 69.2,133.1 70,133.8 70.8,134.4 71.6,134.9 72.4,135.5 73.2,136 73.9,136.4 74.7,136.6 75.5,136.6 76.3,136.5 77.1,136.4 77.8,136.3 78.6,136.2 79.4,136 80.2,135.8 81,135.6 81.8,135.4 82.5,135 83.3,134.7 84.1,134.3 84.9,134 85.7,133.8 86.4,133.7 87.2,133.5 88,133.4"/>
<path d="M67,-5 67.8,0.5 68.6,5.4 69.3,9.9 70.1,14.1 70.9,18.2 71.7,22.4 72.4,26.7 73.2,31.4 74,36.3 74.8,41.4 75.6,46.6 76.3,51.9 77.1,57.2 77.9,62.6 78.7,67.8 79.4,72.9 80.2,77.9 81,82.9 81.8,87.9 82.6,93 83.3,98.3 84.1,104 84.9,109.3 85.7,113.8 86.4,117.7 87.2,120.8 88,123"/>
<path d="M68.5,2 69.3,2.9 70.1,3.6 70.8,4.3 71.6,4.8 72.4,5.2 73.2,5.5 74,5.8 74.7,6 75.5,6 76.3,6 77.1,5.9 77.9,5.8 78.6,5.7 79.4,5.6 80.2,5.5 81,5.4 81.8,5.2 82.5,5.1 83.3,4.9 84.1,4.7 84.9,4.4 85.7,4.1 86.4,3.8 87.2,3.4 88,3"/>
<path d="M88,224.4 88.8,224.3 89.6,224.1 90.4,224 91.2,223.9 92,223.7 92.8,223.6 93.6,223.5 94.4,223.4 95.2,223.3 96,223.1 96.8,223.1 97.6,223 98.4,223 99.2,223.3 100,223.8 100.8,224.5 101.6,225.3 102.4,226.3 103.2,227.3 104,228.7 104.8,230.7 105.6,233 106.4,235.4 107.2,237.8 108,240 108.8,242.1 109.6,244.2 110.4,246.3 111.2,248.3 112,250.1 112.8,251.7 113.6,253 114.4,254.2 115.2,255.3 116,256.2 116.8,256.9 117.6,257.3 118.4,257.7 119.2,257.9 120,258"/>
<path d="M88,184 88.8,183.6 89.6,183.3 90.4,182.9 91.2,182.6 92,182.2 92.8,181.9 93.6,181.6 94.4,181.2 95.2,180.9 96,180.6 96.8,180.2 97.6,179.9 98.4,179.5 99.2,179.2 100,178.9 100.8,178.6 101.6,178.5 102.4,178.3 103.2,178.3 104,178.2 104.8,178.1 105.6,178 106.4,178 107.2,178 108,178.2 108.8,178.6 109.6,179.1 110.4,179.7 111.2,180.1 112,180.5 112.8,181 113.6,181.4 114.4,181.8 115.2,182.1 116,182.4 116.8,182.6 117.6,182.9 118.4,183.1 119.2,183.3 120,183.4"/>
<path d="M88,123 88.8,124.1 89.6,125.6 90.4,127.6 91.2,130.2 92,133 92.8,135.3 93.6,137.4 94.4,139.8 95.2,142.9 96,147.1 96.8,152.2 97.6,157.5 98.4,162.5 99.2,168 100,173.2 100.8,177.3 101.6,179.9 102.4,182.1 103.2,183.9 104,185 104.8,185.8 105.6,186.5 106.4,186.9 107.2,187 108,186.8 108.8,186.5 109.6,186.1 110.4,185.7 111.2,185.2 112,184.8 112.8,184.6 113.6,184.4 114.4,184.2 115.2,184 116,183.9 116.8,183.7 117.6,183.6 118.4,183.5 119.2,183.4 120,183.4"/>
<path d="M88,133.4 88.8,133.7 89.6,134.1 90.4,134.7 91.2,135.3 92,136 92.8,136.8 93.6,137.7 94.4,138.8 95.2,140.1 96,141.5 96.8,142.9 97.6,144.3 98.4,145.7 99.2,147 100,148.5 100.8,149.8 101.6,151.1 102.4,152.3 103.2,153.2 104,154.1 104.8,155 105.6,155.8 106.4,156.4 107.2,156.8 108,157 108.8,157 109.6,156.9 110.4,156.9 111.2,156.8 112,156.8 112.8,156.7 113.6,156.6 114.4,156.6 115.2,156.6 116,156.6 116.8,156.6 117.6,156.6 118.4,156.6 119.2,156.6 120,156.6"/>
<path d="M120,258 120.8,257.9 121.6,257.5 122.4,256.9 123.2,256.1 124,255.2 124.8,254.2 125.6,253.1 126.4,251.3 127.2,249.1 128,246.6 128.8,243.9 129.6,241.3 130.4,238.7 131.2,235.9 132,232.9 132.8,229.9 133.6,226.8 134.4,224 135.2,221.4 136,218.8 136.8,216.3 137.6,213.9 138.4,211.7 139.2,209.7 140,208 140.8,206.5 141.6,205 142.4,203.7 143.2,202.6 144,202 144.8,201.6 145.6,201.3 146.4,201.1 147.2,201 148,201.4 148.8,202.2 149.6,203.2 150.4,204.3 151.2,205.2 152,206.3 152.8,207.4 153.6,208.6 154.4,209.8 155.2,210.9 156,212 156.8,213 157.6,213.9 158.4,214.8 159.2,215.6"/>
<path d="M120,183.4 120.8,183.7 121.6,184.1 122.4,184.5 123.2,184.9 124,185.4 124.8,185.9 125.6,186.4 126.4,187 127.2,187.7 128,188.4 128.8,189.1 129.6,189.9 130.4,190.5 131.2,191.2 132,191.8 132.8,192.4 133.6,193.1 134.4,193.7 135.2,194.2 136,194.7 136.8,195 137.6,195.1 138.4,195.3 139.2,195.4 140,195.5 140.8,195.6 141.6,195.6 142.4,195.6 143.2,195.3 144,194.8 144.8,194.2 145.6,193.4 146.4,192.6 147.2,191.8 148,190.8 148.8,189.6 149.6,188.3 150.4,186.9 151.2,185.4 152,184 152.8,182.5 153.6,181 154.4,179.3 155.2,177.7 156,176 156.8,174.3 157.6,172.6 158.4,170.8 159.2,169"/>
<path d="M120,183.4 120.8,182.8 121.6,182.2 122.4,181.7 123.2,181.1 124,180.6 124.8,180.2 125.6,179.7 126.4,179.3 127.2,178.9 128,178.5 128.8,178.1 129.6,177.7 130.4,177.3 131.2,177.1 132,177 132.8,177.1 133.6,177.4 134.4,177.7 135.2,178.1 136,178.6 136.8,179.3 137.6,180.1 138.4,181 139.2,181.9 140,182.9 140.8,183.8 141.6,184.7 142.4,185.5 143.2,186.4 144,187.4 144.8,188.3 145.6,189.3 146.4,190.3 147.2,191.3 148,192.3 148.8,193.4 149.6,194.5 150.4,195.6 151.2,196.7 152,197.7 152.8,198.8 153.6,199.7 154.4,200.7 155.2,201.6 156,202.5 156.8,203.4 157.6,204.3 158.4,205.2 159.2,206"/>
<path d="M120,183.4 120.8,183.2 121.6,182.9 122.4,182.6 123.2,182.2 124,181.8 124.8,181.4 125.6,180.9 126.4,180.4 127.2,179.9 128,179.3 128.8,178.6 129.6,177.8 130.4,176.9 131.2,176.1 132,175.1 132.8,174.2 133.6,173.3 134.4,172.3 135.2,171.3 136,170.3 136.8,169.2 137.6,168 138.4,166.9 139.2,165.7 140,164.5 140.8,163.2 141.6,161.8 142.4,160.5 143.2,159.1 144,157.7 144.8,156.3 145.6,155 146.4,153.6 147.2,152.3 148,150.9 148.8,149.5 149.6,148.2 150.4,146.9 151.2,145.7 152,144.5 152.8,143.3 153.6,142.1 154.4,141 155.2,139.9 156,139 156.8,138.1 157.6,137.4 158.4,136.6 159.2,136"/>
<path d="M120,156.6 120.8,156.6 121.6,156.8 122.4,157 123.2,157.3 124,157.6 124.8,157.9 125.6,158.3 126.4,159 127.2,159.8 128,160.7 128.8,161.7 129.6,162.6 130.4,163.5 131.2,164.2 132,164.9 132.8,165.6 133.6,166.3 134.4,166.9 135.2,167.4 136,167.8 136.8,168 137.6,168 138.4,168 139.2,168 140,168 140.8,168 141.6,168 142.4,168 143.2,168 144,167.8 144.8,167.5 145.6,167 146.4,166.3 147.2,165.6 148,164.9 148.8,164.2 149.6,163.4 150.4,162.5 151.2,161.4 152,160.3 152.8,159.1 153.6,157.9 154.4,156.8 155.2,155.7 156,154.8 156.8,153.8 157.6,152.8 158.4,151.9 159.2,151"/>
<path d="M120,156.6 120.8,156.6 121.6,156.5 122.4,156.4 123.2,156.3 124,156.2 124.8,156 125.6,155.8 126.4,155.4 127.2,154.8 128,154 128.8,153.2 129.6,152.2 130.4,150.8 131.2,149.2 132,147.3 132.8,145.5 133.6,143.6 134.4,141.6 135.2,139.6 136,137.3 136.8,134.7 137.6,131.6 138.4,127.9 139.2,123.9 140,120 140.8,116.4 141.6,112.9 142.4,109.1 143.2,104.9 144,99.8 144.8,94.2 145.6,88.1 146.4,81.9 147.2,75.8 148,70 148.8,64.5 149.6,59 150.4,53.6 151.2,48.2 152,42.8 152.8,37.4 153.6,31.8 154.4,26.1 155.2,20.3 156,14.7 156.8,9.3 157.6,4.4 158.4,-0.6 159.2,-6"/>
</g>
<line x1="8.8" y1="133.5" x2="159.2" y2="133.5" stroke="#ff2a2a" stroke-width="1"/>
<line x1="44.6" y1="260.1" x2="44.6" y2="264.1" stroke="#000" stroke-width="1"/>
<line x1="63" y1="260.1" x2="63" y2="264.1" stroke="#000" stroke-width="1"/>
<line x1="88" y1="260.1" x2="88" y2="264.1" stroke="#000" stroke-width="1"/>
<line x1="120" y1="260.1" x2="120" y2="264.1" stroke="#000" stroke-width="1"/>
<rect x="8.8" y="2.0" width="150.4" height="262.1" fill="none" stroke="#000" stroke-width="1.4"/>
<text class="dv" x="16.2" y="32" font-size="16.6">(a)</text>
<text class="dv" transform="translate(8.6,280.8) scale(1.2,1)" font-size="9.2" text-anchor="middle" fill="#111" stroke="#111" stroke-width="0.45">Γ</text>
<text class="dv" transform="translate(43.4,280.8) scale(1.3,1)" font-size="9.8" text-anchor="middle" fill="#555">X</text>
<text class="dv" transform="translate(61.4,280.8) scale(1.3,1)" font-size="9.8" text-anchor="middle" fill="#555">W</text>
<text class="dv" transform="translate(86.6,280.8) scale(1.3,1)" font-size="9.8" text-anchor="middle" fill="#555">L</text>
<text class="dv" transform="translate(119.6,280.8) scale(1.2,1)" font-size="9.2" text-anchor="middle" fill="#111" stroke="#111" stroke-width="0.45">Γ</text>
<text class="dv" transform="translate(158.6,280.8) scale(1.3,1)" font-size="9.8" text-anchor="middle" fill="#555">K</text>
</g>
<g id="panel-b">
<g clip-path="url(#clipb)"><g filter="url(#fb)">
<rect x="144" y="-29" width="218" height="327" fill="#000" fill-opacity="0"/>
<g filter="url(#bwb)">
<use href="#pbs1_1" fill="url(#gbws1_1)"/>
<use href="#pbs1_2" fill="url(#gbws1_2)"/>
<use href="#pbs1_3" fill="url(#gbws1_3)"/>
<use href="#pbs1_4" fill="url(#gbws1_4)"/>
<use href="#pbs1_5" fill="url(#gbws1_5)"/>
<use href="#pbs1_6" fill="url(#gbws1_6)"/>
<use href="#pbs2_1" fill="url(#gbws2_1)"/>
<use href="#pbs2_2" fill="url(#gbws2_2)"/>
<use href="#pbs2_3" fill="#000" fill-opacity="0.118"/>
<use href="#pbs2_4" fill="url(#gbws2_4)"/>
<use href="#pbs2_5" fill="#000" fill-opacity="0.024"/>
<use href="#pbs3_1" fill="url(#gbws3_1)"/>
<use href="#pbs3_2" fill="url(#gbws3_2)"/>
<use href="#pbs3_3" fill="url(#gbws3_3)"/>
<use href="#pbs3_4" fill="url(#gbws3_4)"/>
<use href="#pbs3_5" fill="url(#gbws3_5)"/>
<use href="#pbs4_1" fill="url(#gbws4_1)"/>
<use href="#pbs4_2" fill="url(#gbws4_2)"/>
<use href="#pbs4_3" fill="url(#gbws4_3)"/>
<use href="#pbs4_4" fill="url(#gbws4_4)"/>
<use href="#pbs5_1" fill="url(#gbws5_1)"/>
<use href="#pbs5_2" fill="url(#gbws5_2)"/>
<use href="#pbs5_3" fill="url(#gbws5_3)"/>
<use href="#pbs5_4" fill="url(#gbws5_4)"/>
<use href="#pbs5_5" fill="url(#gbws5_5)"/>
<use href="#pbs5_6" fill="url(#gbws5_6)"/>
<use href="#pbx4_7" fill="url(#gbwx4_7)"/>
</g>
<g filter="url(#bsb)">
<use href="#pbs1_1" fill="url(#gbss1_1)"/>
<use href="#pbs1_2" fill="url(#gbss1_2)"/>
<use href="#pbs1_3" fill="url(#gbss1_3)"/>
<use href="#pbs1_4" fill="url(#gbss1_4)"/>
<use href="#pbs2_1" fill="url(#gbss2_1)"/>
<use href="#pbs2_2" fill="url(#gbss2_2)"/>
<use href="#pbs2_3" fill="#000" fill-opacity="0.072"/>
<use href="#pbs2_4" fill="url(#gbss2_4)"/>
<use href="#pbs2_6" fill="url(#gbss2_6)"/>
<use href="#pbs3_1" fill="url(#gbss3_1)"/>
<use href="#pbs3_2" fill="url(#gbss3_2)"/>
<use href="#pbs3_3" fill="url(#gbss3_3)"/>
<use href="#pbs3_4" fill="url(#gbss3_4)"/>
<use href="#pbs3_5" fill="url(#gbss3_5)"/>
<use href="#pbs3_6" fill="url(#gbss3_6)"/>
<use href="#pbx3_7" fill="url(#gbsx3_7)"/>
<use href="#pbs4_1" fill="url(#gbss4_1)"/>
<use href="#pbs4_3" fill="url(#gbss4_3)"/>
<use href="#pbs5_1" fill="url(#gbss5_1)"/>
<use href="#pbs5_2" fill="url(#gbss5_2)"/>
<use href="#pbs5_4" fill="url(#gbss5_4)"/>
<use href="#pbs5_6" fill="url(#gbss5_6)"/>
<use href="#pbx4_7" fill="url(#gbsx4_7)"/>
</g>
</g></g>
<line x1="213.2" y1="0.8" x2="213.2" y2="268.0" stroke="#303030" stroke-width="1.25" stroke-dasharray="1.4 1.45" fill="none"/>
<line x1="232.3" y1="0.8" x2="232.3" y2="268.0" stroke="#303030" stroke-width="1.25" stroke-dasharray="1.4 1.45" fill="none"/>
<line x1="259.0" y1="0.8" x2="259.0" y2="268.0" stroke="#303030" stroke-width="1.25" stroke-dasharray="1.4 1.45" fill="none"/>
<line x1="291.4" y1="0.8" x2="291.4" y2="268.0" stroke="#303030" stroke-width="1.25" stroke-dasharray="1.4 1.45" fill="none"/>
<line x1="174.4" y1="135.0" x2="332.0" y2="135.0" stroke="#ff3b3b" stroke-width="1.3" stroke-opacity="0.85"/>
<line x1="213.2" y1="264.5" x2="213.2" y2="268.0" stroke="#000" stroke-width="1"/>
<line x1="232.3" y1="264.5" x2="232.3" y2="268.0" stroke="#000" stroke-width="1"/>
<line x1="259.0" y1="264.5" x2="259.0" y2="268.0" stroke="#000" stroke-width="1"/>
<line x1="291.4" y1="264.5" x2="291.4" y2="268.0" stroke="#000" stroke-width="1"/>
<rect x="174.4" y="0.8" width="157.6" height="267.2" fill="none" stroke="#000" stroke-width="1.3"/>
</g>
<g id="panel-c">
<g clip-path="url(#clipc)"><g filter="url(#fc)">
<rect x="-25" y="263" width="209" height="339" fill="#000" fill-opacity="0"/>
<g filter="url(#bwc)">
<use href="#pcs1_1" fill="url(#gcws1_1)"/>
<use href="#pcs1_2" fill="url(#gcws1_2)"/>
<use href="#pcs1_3" fill="url(#gcws1_3)"/>
<use href="#pcs1_4" fill="url(#gcws1_4)"/>
<use href="#pcs1_5" fill="url(#gcws1_5)"/>
<use href="#pcs1_6" fill="url(#gcws1_6)"/>
<use href="#pcs2_1" fill="url(#gcws2_1)"/>
<use href="#pcs2_2" fill="url(#gcws2_2)"/>
<use href="#pcs2_3" fill="#000" fill-opacity="0.310"/>
<use href="#pcs2_4" fill="url(#gcws2_4)"/>
<use href="#pcs2_5" fill="url(#gcws2_5)"/>
<use href="#pcs3_1" fill="url(#gcws3_1)"/>
<use href="#pcs3_2" fill="url(#gcws3_2)"/>
<use href="#pcs3_3" fill="url(#gcws3_3)"/>
<use href="#pcs3_4" fill="url(#gcws3_4)"/>
<use href="#pcs3_5" fill="url(#gcws3_5)"/>
<use href="#pcs4_1" fill="url(#gcws4_1)"/>
<use href="#pcs4_2" fill="url(#gcws4_2)"/>
<use href="#pcs4_3" fill="url(#gcws4_3)"/>
<use href="#pcs4_4" fill="url(#gcws4_4)"/>
<use href="#pcs5_1" fill="url(#gcws5_1)"/>
<use href="#pcs5_2" fill="url(#gcws5_2)"/>
<use href="#pcs5_3" fill="url(#gcws5_3)"/>
<use href="#pcs5_4" fill="url(#gcws5_4)"/>
<use href="#pcs5_5" fill="url(#gcws5_5)"/>
<use href="#pcs5_6" fill="url(#gcws5_6)"/>
<use href="#pcx4_7" fill="url(#gcwx4_7)"/>
</g>
<g filter="url(#bsc)">
<use href="#pcs1_1" fill="url(#gcss1_1)"/>
<use href="#pcs1_2" fill="url(#gcss1_2)"/>
<use href="#pcs1_3" fill="url(#gcss1_3)"/>
<use href="#pcs1_4" fill="url(#gcss1_4)"/>
<use href="#pcs1_5" fill="url(#gcss1_5)"/>
<use href="#pcs1_6" fill="url(#gcss1_6)"/>
<use href="#pcs2_1" fill="url(#gcss2_1)"/>
<use href="#pcs2_2" fill="url(#gcss2_2)"/>
<use href="#pcs2_3" fill="#000" fill-opacity="0.190"/>
<use href="#pcs2_4" fill="url(#gcss2_4)"/>
<use href="#pcs2_5" fill="url(#gcss2_5)"/>
<use href="#pcs2_6" fill="url(#gcss2_6)"/>
<use href="#pcs3_1" fill="url(#gcss3_1)"/>
<use href="#pcs3_2" fill="url(#gcss3_2)"/>
<use href="#pcs3_3" fill="url(#gcss3_3)"/>
<use href="#pcs3_4" fill="url(#gcss3_4)"/>
<use href="#pcs3_5" fill="url(#gcss3_5)"/>
<use href="#pcs3_6" fill="url(#gcss3_6)"/>
<use href="#pcx3_7" fill="url(#gcsx3_7)"/>
<use href="#pcs4_1" fill="url(#gcss4_1)"/>
<use href="#pcs4_2" fill="url(#gcss4_2)"/>
<use href="#pcs4_3" fill="url(#gcss4_3)"/>
<use href="#pcs4_4" fill="url(#gcss4_4)"/>
<use href="#pcs5_1" fill="url(#gcss5_1)"/>
<use href="#pcs5_2" fill="url(#gcss5_2)"/>
<use href="#pcs5_3" fill="url(#gcss5_3)"/>
<use href="#pcs5_4" fill="url(#gcss5_4)"/>
<use href="#pcs5_5" fill="url(#gcss5_5)"/>
<use href="#pcs5_6" fill="url(#gcss5_6)"/>
<use href="#pcx4_7" fill="url(#gcsx4_7)"/>
</g>
</g></g>
<line x1="41.6" y1="293.4" x2="41.6" y2="572.0" stroke="#303030" stroke-width="1.25" stroke-dasharray="1.4 1.45" fill="none"/>
<line x1="59.5" y1="293.4" x2="59.5" y2="572.0" stroke="#303030" stroke-width="1.25" stroke-dasharray="1.4 1.45" fill="none"/>
<line x1="85.0" y1="293.4" x2="85.0" y2="572.0" stroke="#303030" stroke-width="1.25" stroke-dasharray="1.4 1.45" fill="none"/>
<line x1="116.0" y1="293.4" x2="116.0" y2="572.0" stroke="#303030" stroke-width="1.25" stroke-dasharray="1.4 1.45" fill="none"/>
<line x1="5.4" y1="433.6" x2="154.6" y2="433.6" stroke="#ff3b3b" stroke-width="1.3" stroke-opacity="0.85"/>
<line x1="41.6" y1="568.5" x2="41.6" y2="572.0" stroke="#000" stroke-width="1"/>
<line x1="59.5" y1="568.5" x2="59.5" y2="572.0" stroke="#000" stroke-width="1"/>
<line x1="85.0" y1="568.5" x2="85.0" y2="572.0" stroke="#000" stroke-width="1"/>
<line x1="116.0" y1="568.5" x2="116.0" y2="572.0" stroke="#000" stroke-width="1"/>
<rect x="5.4" y="293.4" width="149.2" height="278.6" fill="none" stroke="#000" stroke-width="1.3"/>
</g>
<text class="dv" transform="translate(179.4,32) scale(1.04,1)" font-size="16.6">(b)</text>
<text class="dv" x="11.6" y="325.8" font-size="16.5">(c)</text>
<text class="sb" transform="translate(174,284.3) scale(1.15,1)" font-size="11.2" text-anchor="middle" fill="#000">Γ</text>
<text class="dv" transform="translate(211.9,284.8) scale(1.3,1)" font-size="9.8" text-anchor="middle" fill="#555">X</text>
<text class="dv" transform="translate(229.7,284.8) scale(1.3,1)" font-size="9.8" text-anchor="middle" fill="#555">W</text>
<text class="dv" transform="translate(257.6,284.8) scale(1.3,1)" font-size="9.8" text-anchor="middle" fill="#555">L</text>
<text class="sb" transform="translate(291,284.3) scale(1.15,1)" font-size="11.2" text-anchor="middle" fill="#000">Γ</text>
<text class="dv" transform="translate(330.6,284.8) scale(1.3,1)" font-size="9.8" text-anchor="middle" fill="#555">K</text>
<text class="sb" transform="translate(4.6,588.5) scale(1.15,1)" font-size="11.2" text-anchor="middle" fill="#000">Γ</text>
<text class="dv" transform="translate(40,589) scale(1.3,1)" font-size="9.8" text-anchor="middle" fill="#555">X</text>
<text class="dv" transform="translate(58,589) scale(1.3,1)" font-size="9.8" text-anchor="middle" fill="#555">W</text>
<text class="dv" transform="translate(83.2,589) scale(1.3,1)" font-size="9.8" text-anchor="middle" fill="#555">L</text>
<text class="sb" transform="translate(115.2,588.5) scale(1.15,1)" font-size="11.2" text-anchor="middle" fill="#000">Γ</text>
<text class="dv" transform="translate(153,589) scale(1.3,1)" font-size="9.8" text-anchor="middle" fill="#555">K</text>
<g id="panel-d">
<clipPath id="clipd"><rect x="169.4" y="294.5" width="162.0" height="278.5"/></clipPath>
<g stroke="#000" stroke-width="1.1">
<line x1="326.4" y1="329.4" x2="331.4" y2="329.4"/>
<line x1="326.4" y1="364.2" x2="331.4" y2="364.2"/>
<line x1="326.4" y1="398.9" x2="331.4" y2="398.9"/>
<line x1="326.4" y1="468.3" x2="331.4" y2="468.3"/>
<line x1="326.4" y1="503.0" x2="331.4" y2="503.0"/>
<line x1="326.4" y1="537.8" x2="331.4" y2="537.8"/>
<line x1="170.6" y1="573.0" x2="170.6" y2="570.6"/>
<line x1="170.6" y1="294.5" x2="170.6" y2="296.9"/>
<line x1="177.6" y1="573.0" x2="177.6" y2="570.6"/>
<line x1="177.6" y1="294.5" x2="177.6" y2="296.9"/>
<line x1="183.4" y1="573.0" x2="183.4" y2="570.6"/>
<line x1="183.4" y1="294.5" x2="183.4" y2="296.9"/>
<line x1="188.3" y1="573.0" x2="188.3" y2="570.6"/>
<line x1="188.3" y1="294.5" x2="188.3" y2="296.9"/>
<line x1="192.5" y1="573.0" x2="192.5" y2="570.6"/>
<line x1="192.5" y1="294.5" x2="192.5" y2="296.9"/>
<line x1="196.3" y1="573.0" x2="196.3" y2="570.6"/>
<line x1="196.3" y1="294.5" x2="196.3" y2="296.9"/>
<line x1="199.6" y1="573.0" x2="199.6" y2="568.0"/>
<line x1="199.6" y1="294.5" x2="199.6" y2="299.5"/>
<line x1="221.6" y1="573.0" x2="221.6" y2="570.6"/>
<line x1="221.6" y1="294.5" x2="221.6" y2="296.9"/>
<line x1="234.4" y1="573.0" x2="234.4" y2="570.6"/>
<line x1="234.4" y1="294.5" x2="234.4" y2="296.9"/>
<line x1="243.6" y1="573.0" x2="243.6" y2="570.6"/>
<line x1="243.6" y1="294.5" x2="243.6" y2="296.9"/>
<line x1="250.6" y1="573.0" x2="250.6" y2="570.6"/>
<line x1="250.6" y1="294.5" x2="250.6" y2="296.9"/>
<line x1="256.4" y1="573.0" x2="256.4" y2="570.6"/>
<line x1="256.4" y1="294.5" x2="256.4" y2="296.9"/>
<line x1="261.3" y1="573.0" x2="261.3" y2="570.6"/>
<line x1="261.3" y1="294.5" x2="261.3" y2="296.9"/>
<line x1="265.5" y1="573.0" x2="265.5" y2="570.6"/>
<line x1="265.5" y1="294.5" x2="265.5" y2="296.9"/>
<line x1="269.3" y1="573.0" x2="269.3" y2="570.6"/>
<line x1="269.3" y1="294.5" x2="269.3" y2="296.9"/>
<line x1="272.6" y1="573.0" x2="272.6" y2="568.0"/>
<line x1="272.6" y1="294.5" x2="272.6" y2="299.5"/>
<line x1="294.6" y1="573.0" x2="294.6" y2="570.6"/>
<line x1="294.6" y1="294.5" x2="294.6" y2="296.9"/>
<line x1="307.4" y1="573.0" x2="307.4" y2="570.6"/>
<line x1="307.4" y1="294.5" x2="307.4" y2="296.9"/>
<line x1="316.6" y1="573.0" x2="316.6" y2="570.6"/>
<line x1="316.6" y1="294.5" x2="316.6" y2="296.9"/>
<line x1="323.6" y1="573.0" x2="323.6" y2="570.6"/>
<line x1="323.6" y1="294.5" x2="323.6" y2="296.9"/>
<line x1="329.4" y1="573.0" x2="329.4" y2="570.6"/>
<line x1="329.4" y1="294.5" x2="329.4" y2="296.9"/>
</g>
<g clip-path="url(#clipd)">
<path d="M169.4,294.5 284,296 284,297.8 255,300 225,302 206,303.4 202,305 197,308 197,328 198,348 201,364 205,374 213,380 233.5,381.6 213,384 208,386 204,396 204,410 207,419 215,422 225,423.6 169.4,423.6Z" fill="#b777fb"/>
<path d="M169.4,424.6 L225,424.6 L275,425.6 L291,427 301,429 285,430.6 253,431.6 247,433 265,432.8 295,434.6 310,436.4 300,438 288,440 280,442 277,444 276,446 277,449 280,452.4 286,455 300,457 316,458.4 324.4,459 314,460 300,461 286,462.4 278,463.4 283,465.5 288,468 294,470.4 288,471.6 275,473 261,474.2 262,476 264,478 280,479 292,480 304,481 314,483 322,485.6 328.6,487 320,488.4 310,489.6 296,491 286,493 279,494.6 285,496.5 291,498.2 280,499.8 265,501.5 253,503 265,505 275,507 268,510 274,513 266,517 262,520 275,523 285,525 278,527.6 293,530 265,532 235,533.6 169.4,534.2 L169.4,536Z" fill="#b777fb"/>
<path d="M169.4,534 L226,534 L227,542 L229.5,548 L235.5,557 L247,561 L272,565 L247,567.6 L169.4,568Z" fill="#b777fb"/>
<path d="M169.4,294.5 281.5,296.3 281.5,297.6 255,299.3 225,301 198,302.3 186,303.5 190,305 192,306.5 191,318 191,348 192,364 194,370 197,374 205,379 217,381 231,381.6 217,382.6 205,385 198,389 195,392 192,398 191,402 191,414 193,418 195,420 205,422.4 225,423.8 242,425 242,426.6 205,428 198.5,430 198,434 198,456 199,460 197,464 198,468 205,471 195,474 187,477 195,482 194,486 205,491 210,496 201,500 174,503.6 213,507 203,511 208,514 191,520 215,523.5 233,524.5 222,526.5 236,528.5 247,530 236,532 225,534 223,536 224.5,542 227,548 233,557 245,562 269,565 245,567 225,567.8 169.4,568.2Z" fill="#3d95b0"/>
<g fill="none" stroke="#0a0af0" stroke-width="1.5" stroke-linejoin="round">
<path d="M169.4,426 225,426 275,427 291,428.4 301,429 285,430.6 253,431.6 247,433 265,432.8 295,434.6 310,436.4 300,438 288,440 280,442 277,444 276,446 277,449 280,452.4 286,455 300,457 316,458.4 324.4,459 314,460 300,461 286,462.4 278,463.4 283,465.5 288,468 294,470.4 288,471.6 275,473 261,474.2 262,476 264,478 280,479 292,480 304,481 314,483 322,485.6 328.6,487 320,488.4 310,489.6 296,491 286,493 279,494.6 285,496.5 291,498.2 280,499.8 265,501.5 253,503 265,505 275,507 268,510 274,513 266,517 262,520 275,523 285,525 278,527.6 293,530 265,532 235,533.6 169.4,534.2"/>
<path d="M169.4,296.4 L200,296.9 L212,298 L196,299.2 L169.4,299.8" stroke-width="1.3"/>
<path d="M169.4,411.5 C172,413 173.6,417 173.2,420 C173,422.5 171.5,424 169.4,424.6"/>
</g>
</g>
<line x1="169.4" y1="433.6" x2="331.4" y2="433.6" stroke="#ea1212" stroke-width="1.4" stroke-dasharray="2.6 2.4"/>
<rect x="169.4" y="294.5" width="162.0" height="278.5" fill="none" stroke="#000" stroke-width="1.4"/>
<g class="ls" font-size="11" text-anchor="middle" fill="#222">
<text x="344.4" y="298.6">8</text>
<text x="344.4" y="333.3">6</text>
<text x="344.4" y="368.1">4</text>
<text x="344.4" y="402.8">2</text>
<text x="344.4" y="437.5">0</text>
<text x="344.4" y="472.2">-2</text>
<text x="344.4" y="506.9">-4</text>
<text x="344.4" y="541.7">-6</text>
<text x="344.4" y="576.4">-8</text>
<text x="198.6" y="590">0.1</text><text x="272.4" y="590">1</text>
</g>
<g class="ls" font-size="11.3" text-anchor="end" fill="#111"><text x="272.6" y="357.4">total</text><text x="273" y="371.2">sp</text><text x="273.4" y="385.8">d</text></g>
<rect x="283" y="352" width="34.4" height="6.4" fill="#b777fb"/><rect x="283" y="366" width="34.4" height="6.4" fill="#3d95b0"/>
<line x1="283" y1="383.2" x2="318" y2="383.2" stroke="#0a0af0" stroke-width="1.4"/>
<text class="dv" x="297.6" y="325.8" font-size="16.7">(d)</text>
</g>
</svg></body></html>
